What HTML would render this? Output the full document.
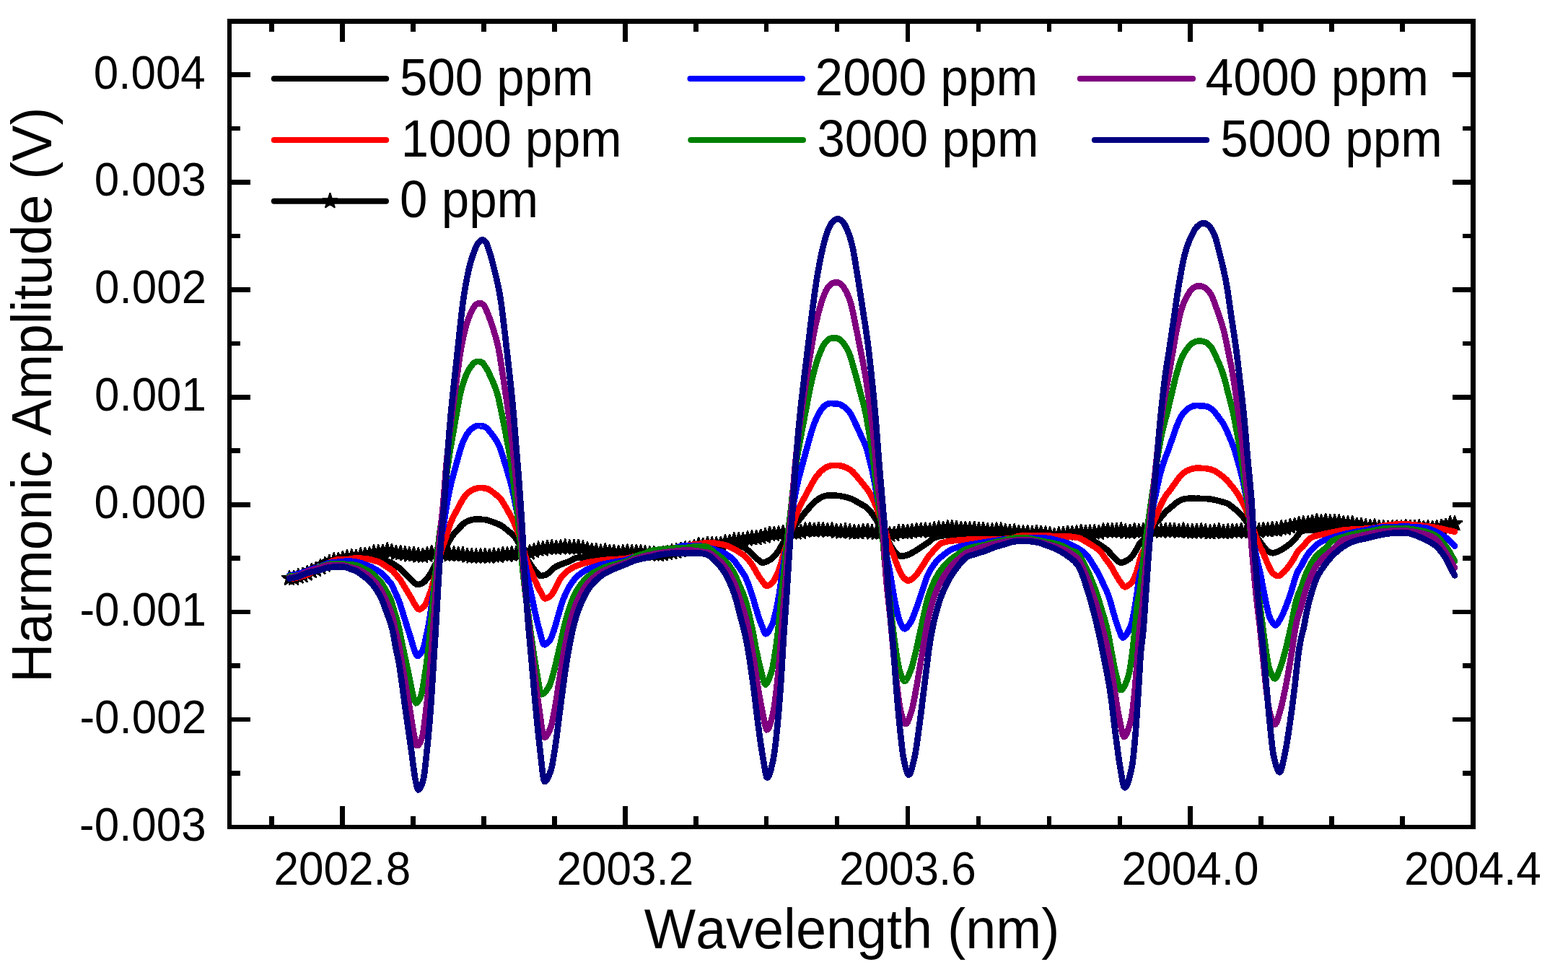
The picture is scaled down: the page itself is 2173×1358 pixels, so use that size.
<!DOCTYPE html>
<html lang="en">
<head>
<meta charset="utf-8">
<title>Harmonic Amplitude vs Wavelength</title>
<style>
html,body{margin:0;padding:0;background:#fff;}
body{width:2173px;height:1358px;overflow:hidden;}
svg{display:block;}
</style>
</head>
<body>
<svg width="2173" height="1358" viewBox="0 0 2173 1358" font-family="'Liberation Sans', Arial, Helvetica, sans-serif" style="font-kerning:none">
<title>Second harmonic amplitude versus wavelength at several concentrations</title>
<rect x="0" y="0" width="2173" height="1358" fill="#fff"/>
<g fill="none" stroke-width="8.6" stroke-linecap="round" stroke-linejoin="round" shape-rendering="crispEdges">
<path d="M401.0 801.5L407.2 801.5L413.3 798.8L419.5 797.4L425.7 794.9L431.8 791.6L438.0 789.3L444.1 786.0L450.3 782.9L456.5 779.8L462.6 777.0L468.8 776.4L475.0 774.5L481.1 772.8L487.3 771.8L493.5 772.4L499.6 769.9L505.8 769.6L512.0 769.1L518.1 766.1L524.3 765.7L530.4 765.5L536.6 763.1L542.8 764.2L548.9 766.5L555.1 766.4L561.3 767.7L567.4 768.7L573.6 768.5L579.8 770.1L585.9 770.3L592.1 768.9L598.2 766.7L604.4 766.8L610.6 767.0L616.7 768.1L622.9 768.5L629.1 768.1L635.2 768.6L641.4 768.6L647.6 770.2L653.7 770.8L659.9 771.1L666.1 771.0L672.2 770.8L678.4 771.2L684.5 770.0L690.7 770.4L696.9 768.2L703.0 769.1L709.2 767.8L715.4 767.4L721.5 767.1L727.7 766.6L733.9 766.0L740.0 763.5L746.2 761.0L752.3 760.7L758.5 759.2L764.7 758.8L770.8 759.4L777.0 758.6L783.2 757.9L789.3 758.8L795.5 758.9L801.7 758.3L807.8 760.1L814.0 761.5L820.2 763.4L826.3 763.6L832.5 765.1L838.6 764.1L844.8 765.2L851.0 765.5L857.1 766.5L863.3 765.8L869.5 765.0L875.6 765.7L881.8 765.6L888.0 765.9L894.1 766.8L900.3 767.7L906.4 767.7L912.6 768.3L918.8 767.7L924.9 766.2L931.1 765.0L937.3 763.9L943.4 762.6L949.6 760.7L955.8 760.5L961.9 759.1L968.1 755.5L974.3 756.3L980.4 754.4L986.6 754.8L992.7 755.1L998.9 754.4L1005.1 752.0L1011.2 751.3L1017.4 749.0L1023.6 748.9L1029.7 748.8L1035.9 746.9L1042.1 745.8L1048.2 745.4L1054.4 744.2L1060.5 742.9L1066.7 740.2L1072.9 740.2L1079.0 739.6L1085.2 738.3L1091.4 738.5L1097.5 737.9L1103.7 738.0L1109.9 737.3L1116.0 734.7L1122.2 734.4L1128.4 735.2L1134.5 734.4L1140.7 734.4L1146.8 735.2L1153.0 734.5L1159.2 736.4L1165.3 736.9L1171.5 735.9L1177.7 737.0L1183.8 737.8L1190.0 737.8L1196.2 736.2L1202.3 736.2L1208.5 737.8L1214.6 738.3L1220.8 737.9L1227.0 739.9L1233.1 741.0L1239.3 740.2L1245.5 737.4L1251.6 737.2L1257.8 737.6L1264.0 736.5L1270.1 735.5L1276.3 735.3L1282.5 735.0L1288.6 736.1L1294.8 733.8L1300.9 733.1L1307.1 733.2L1313.3 732.0L1319.4 732.0L1325.6 732.2L1331.8 733.3L1337.9 733.5L1344.1 733.8L1350.3 733.3L1356.4 734.3L1362.6 734.6L1368.7 735.7L1374.9 736.0L1381.1 734.7L1387.2 735.1L1393.4 737.0L1399.6 737.4L1405.7 737.0L1411.9 738.2L1418.1 738.7L1424.2 738.3L1430.4 739.6L1436.6 738.6L1442.7 739.2L1448.9 740.0L1455.0 741.0L1461.2 742.8L1467.4 740.7L1473.5 740.7L1479.7 739.2L1485.9 739.4L1492.0 739.0L1498.2 737.8L1504.4 738.3L1510.5 738.1L1516.7 737.8L1522.8 738.2L1529.0 736.0L1535.2 735.5L1541.3 735.9L1547.5 735.8L1553.7 735.1L1559.8 736.9L1566.0 737.2L1572.2 735.7L1578.3 736.6L1584.5 735.6L1590.7 736.1L1596.8 735.0L1603.0 735.5L1609.1 736.1L1615.3 735.2L1621.5 735.3L1627.6 735.4L1633.8 736.4L1640.0 735.1L1646.1 736.9L1652.3 737.1L1658.5 736.5L1664.6 735.9L1670.8 736.9L1676.9 737.8L1683.1 737.0L1689.3 736.0L1695.4 737.4L1701.6 737.1L1707.8 736.2L1713.9 736.2L1720.1 735.4L1726.3 736.9L1732.4 736.7L1738.6 735.5L1744.8 736.0L1750.9 734.2L1757.1 734.8L1763.2 733.7L1769.4 734.0L1775.6 732.0L1781.7 732.0L1787.9 729.7L1794.1 728.4L1800.2 726.2L1806.4 725.8L1812.6 725.7L1818.7 724.2L1824.9 722.7L1831.0 723.9L1837.2 722.2L1843.4 724.1L1849.5 723.9L1855.7 723.7L1861.9 725.2L1868.0 725.9L1874.2 725.8L1880.4 728.2L1886.5 728.2L1892.7 729.7L1898.9 730.5L1905.0 729.8L1911.2 731.3L1917.3 731.7L1923.5 732.6L1929.7 731.6L1935.8 731.4L1942.0 732.0L1948.2 730.3L1954.3 731.2L1960.5 731.4L1966.7 730.8L1972.8 732.7L1979.0 732.0L1985.1 732.7L1991.3 731.5L1997.5 730.6L2003.6 729.2L2009.8 725.8L2016.0 725.8" stroke="#000"/>
<path d="M401.0 790.2L403.5 798.0L411.7 798.0L405.1 802.9L407.6 810.7L401.0 805.8L394.4 810.7L396.9 802.9L390.3 798.0L398.5 798.0ZM407.2 790.2L409.7 798.0L417.9 798.0L411.3 802.8L413.8 810.6L407.2 805.8L400.5 810.6L403.1 802.8L396.4 798.0L404.6 798.0ZM413.3 787.5L415.9 795.3L424.1 795.3L417.4 800.1L420.0 807.9L413.3 803.1L406.7 807.9L409.2 800.1L402.6 795.3L410.8 795.3ZM419.5 786.1L422.0 793.9L430.2 793.9L423.6 798.8L426.1 806.6L419.5 801.7L412.9 806.6L415.4 798.8L408.7 793.9L417.0 793.9ZM425.7 783.6L428.2 791.4L436.4 791.4L429.8 796.3L432.3 804.1L425.7 799.2L419.0 804.1L421.6 796.3L414.9 791.4L423.1 791.4ZM431.8 780.3L434.4 788.1L442.6 788.1L435.9 792.9L438.5 800.7L431.8 795.9L425.2 800.7L427.7 792.9L421.1 788.1L429.3 788.1ZM438.0 778.0L440.5 785.8L448.7 785.8L442.1 790.6L444.6 798.4L438.0 793.6L431.3 798.4L433.9 790.6L427.2 785.8L435.4 785.8ZM444.1 774.7L446.7 782.6L454.9 782.6L448.3 787.4L450.8 795.2L444.1 790.4L437.5 795.2L440.0 787.4L433.4 782.6L441.6 782.6ZM450.3 771.6L452.8 779.4L461.1 779.4L454.4 784.2L457.0 792.0L450.3 787.2L443.7 792.0L446.2 784.2L439.6 779.4L447.8 779.4ZM456.5 768.5L459.0 776.3L467.2 776.3L460.6 781.1L463.1 788.9L456.5 784.1L449.8 788.9L452.4 781.1L445.7 776.3L453.9 776.3ZM462.6 765.7L465.2 773.5L473.4 773.5L466.7 778.3L469.3 786.1L462.6 781.3L456.0 786.1L458.5 778.3L451.9 773.5L460.1 773.5ZM468.8 765.1L471.3 772.9L479.6 772.9L472.9 777.7L475.4 785.5L468.8 780.7L462.2 785.5L464.7 777.7L458.1 772.9L466.3 772.9ZM475.0 763.2L477.5 771.1L485.7 771.1L479.1 775.9L481.6 783.7L475.0 778.9L468.3 783.7L470.9 775.9L464.2 771.1L472.4 771.1ZM481.1 761.5L483.7 769.3L491.9 769.3L485.2 774.2L487.8 782.0L481.1 777.1L474.5 782.0L477.0 774.2L470.4 769.3L478.6 769.3ZM487.3 760.5L489.8 768.3L498.0 768.3L491.4 773.1L493.9 780.9L487.3 776.1L480.7 780.9L483.2 773.1L476.5 768.3L484.8 768.3ZM493.5 761.1L496.0 768.9L504.2 768.9L497.6 773.8L500.1 781.6L493.5 776.8L486.8 781.6L489.4 773.8L482.7 768.9L490.9 768.9ZM499.6 758.6L502.2 766.4L510.4 766.4L503.7 771.2L506.3 779.0L499.6 774.2L493.0 779.0L495.5 771.2L488.9 766.4L497.1 766.4ZM505.8 758.3L508.3 766.1L516.5 766.1L509.9 770.9L512.4 778.7L505.8 773.9L499.1 778.7L501.7 770.9L495.0 766.1L503.3 766.1ZM512.0 757.8L514.5 765.6L522.7 765.6L516.1 770.5L518.6 778.3L512.0 773.4L505.3 778.3L507.8 770.5L501.2 765.6L509.4 765.6ZM518.1 754.8L520.7 762.7L528.9 762.7L522.2 767.5L524.8 775.3L518.1 770.5L511.5 775.3L514.0 767.5L507.4 762.7L515.6 762.7ZM524.3 754.4L526.8 762.2L535.0 762.2L528.4 767.0L530.9 774.8L524.3 770.0L517.6 774.8L520.2 767.0L513.5 762.2L521.7 762.2ZM530.4 754.2L533.0 762.0L541.2 762.0L534.5 766.8L537.1 774.6L530.4 769.8L523.8 774.6L526.3 766.8L519.7 762.0L527.9 762.0ZM536.6 751.8L539.1 759.6L547.4 759.6L540.7 764.4L543.2 772.2L536.6 767.4L530.0 772.2L532.5 764.4L525.9 759.6L534.1 759.6ZM542.8 752.9L545.3 760.7L553.5 760.7L546.9 765.5L549.4 773.3L542.8 768.5L536.1 773.3L538.7 765.5L532.0 760.7L540.2 760.7ZM548.9 755.2L551.5 763.0L559.7 763.0L553.0 767.9L555.6 775.7L548.9 770.8L542.3 775.7L544.8 767.9L538.2 763.0L546.4 763.0ZM555.1 755.1L557.6 762.9L565.8 762.9L559.2 767.7L561.7 775.5L555.1 770.7L548.5 775.5L551.0 767.7L544.4 762.9L552.6 762.9ZM561.3 756.4L563.8 764.2L572.0 764.2L565.4 769.0L567.9 776.8L561.3 772.0L554.6 776.8L557.2 769.0L550.5 764.2L558.7 764.2ZM567.4 757.4L570.0 765.2L578.2 765.2L571.5 770.1L574.1 777.9L567.4 773.1L560.8 777.9L563.3 770.1L556.7 765.2L564.9 765.2ZM573.6 757.2L576.1 765.0L584.3 765.0L577.7 769.8L580.2 777.6L573.6 772.8L567.0 777.6L569.5 769.8L562.8 765.0L571.1 765.0ZM579.8 758.8L582.3 766.6L590.5 766.6L583.9 771.4L586.4 779.2L579.8 774.4L573.1 779.2L575.7 771.4L569.0 766.6L577.2 766.6ZM585.9 759.0L588.5 766.8L596.7 766.8L590.0 771.6L592.6 779.4L585.9 774.6L579.3 779.4L581.8 771.6L575.2 766.8L583.4 766.8ZM592.1 757.6L594.6 765.4L602.8 765.4L596.2 770.2L598.7 778.1L592.1 773.2L585.4 778.1L588.0 770.2L581.3 765.4L589.5 765.4ZM598.2 755.4L600.8 763.2L609.0 763.2L602.4 768.0L604.9 775.8L598.2 771.0L591.6 775.8L594.1 768.0L587.5 763.2L595.7 763.2ZM604.4 755.5L606.9 763.3L615.2 763.3L608.5 768.1L611.1 775.9L604.4 771.1L597.8 775.9L600.3 768.1L593.7 763.3L601.9 763.3ZM610.6 755.7L613.1 763.5L621.3 763.5L614.7 768.3L617.2 776.2L610.6 771.3L603.9 776.2L606.5 768.3L599.8 763.5L608.0 763.5ZM616.7 756.8L619.3 764.6L627.5 764.6L620.8 769.5L623.4 777.3L616.7 772.5L610.1 777.3L612.6 769.5L606.0 764.6L614.2 764.6ZM622.9 757.2L625.4 765.0L633.7 765.0L627.0 769.8L629.5 777.7L622.9 772.8L616.3 777.7L618.8 769.8L612.2 765.0L620.4 765.0ZM629.1 756.8L631.6 764.6L639.8 764.6L633.2 769.4L635.7 777.3L629.1 772.4L622.4 777.3L625.0 769.4L618.3 764.6L626.5 764.6ZM635.2 757.3L637.8 765.1L646.0 765.1L639.3 770.0L641.9 777.8L635.2 772.9L628.6 777.8L631.1 770.0L624.5 765.1L632.7 765.1ZM641.4 757.3L643.9 765.1L652.1 765.1L645.5 769.9L648.0 777.7L641.4 772.9L634.8 777.7L637.3 769.9L630.6 765.1L638.9 765.1ZM647.6 758.9L650.1 766.7L658.3 766.7L651.7 771.5L654.2 779.3L647.6 774.5L640.9 779.3L643.5 771.5L636.8 766.7L645.0 766.7ZM653.7 759.5L656.3 767.4L664.5 767.4L657.8 772.2L660.4 780.0L653.7 775.2L647.1 780.0L649.6 772.2L643.0 767.4L651.2 767.4ZM659.9 759.8L662.4 767.6L670.6 767.6L664.0 772.4L666.5 780.2L659.9 775.4L653.2 780.2L655.8 772.4L649.1 767.6L657.4 767.6ZM666.1 759.7L668.6 767.5L676.8 767.5L670.2 772.3L672.7 780.2L666.1 775.3L659.4 780.2L661.9 772.3L655.3 767.5L663.5 767.5ZM672.2 759.5L674.8 767.3L683.0 767.3L676.3 772.1L678.9 779.9L672.2 775.1L665.6 779.9L668.1 772.1L661.5 767.3L669.7 767.3ZM678.4 759.9L680.9 767.7L689.1 767.7L682.5 772.6L685.0 780.4L678.4 775.5L671.7 780.4L674.3 772.6L667.6 767.7L675.8 767.7ZM684.5 758.7L687.1 766.5L695.3 766.5L688.6 771.4L691.2 779.2L684.5 774.3L677.9 779.2L680.4 771.4L673.8 766.5L682.0 766.5ZM690.7 759.1L693.2 766.9L701.5 766.9L694.8 771.7L697.3 779.5L690.7 774.7L684.1 779.5L686.6 771.7L680.0 766.9L688.2 766.9ZM696.9 756.9L699.4 764.7L707.6 764.7L701.0 769.5L703.5 777.3L696.9 772.5L690.2 777.3L692.8 769.5L686.1 764.7L694.3 764.7ZM703.0 757.8L705.6 765.6L713.8 765.6L707.1 770.4L709.7 778.2L703.0 773.4L696.4 778.2L698.9 770.4L692.3 765.6L700.5 765.6ZM709.2 756.5L711.7 764.3L719.9 764.3L713.3 769.2L715.8 777.0L709.2 772.1L702.6 777.0L705.1 769.2L698.5 764.3L706.7 764.3ZM715.4 756.1L717.9 764.0L726.1 764.0L719.5 768.8L722.0 776.6L715.4 771.8L708.7 776.6L711.3 768.8L704.6 764.0L712.8 764.0ZM721.5 755.8L724.1 763.6L732.3 763.6L725.6 768.4L728.2 776.2L721.5 771.4L714.9 776.2L717.4 768.4L710.8 763.6L719.0 763.6ZM727.7 755.3L730.2 763.1L738.4 763.1L731.8 768.0L734.3 775.8L727.7 770.9L721.1 775.8L723.6 768.0L716.9 763.1L725.2 763.1ZM733.9 754.7L736.4 762.5L744.6 762.5L738.0 767.3L740.5 775.1L733.9 770.3L727.2 775.1L729.8 767.3L723.1 762.5L731.3 762.5ZM740.0 752.2L742.6 760.0L750.8 760.0L744.1 764.8L746.7 772.6L740.0 767.8L733.4 772.6L735.9 764.8L729.3 760.0L737.5 760.0ZM746.2 749.7L748.7 757.5L756.9 757.5L750.3 762.4L752.8 770.2L746.2 765.4L739.5 770.2L742.1 762.4L735.4 757.5L743.6 757.5ZM752.3 749.4L754.9 757.2L763.1 757.2L756.5 762.0L759.0 769.8L752.3 765.0L745.7 769.8L748.2 762.0L741.6 757.2L749.8 757.2ZM758.5 747.9L761.0 755.7L769.3 755.7L762.6 760.5L765.2 768.3L758.5 763.5L751.9 768.3L754.4 760.5L747.8 755.7L756.0 755.7ZM764.7 747.5L767.2 755.3L775.4 755.3L768.8 760.1L771.3 767.9L764.7 763.1L758.0 767.9L760.6 760.1L753.9 755.3L762.1 755.3ZM770.8 748.1L773.4 755.9L781.6 755.9L774.9 760.7L777.5 768.5L770.8 763.7L764.2 768.5L766.7 760.7L760.1 755.9L768.3 755.9ZM777.0 747.3L779.5 755.1L787.8 755.1L781.1 760.0L783.6 767.8L777.0 762.9L770.4 767.8L772.9 760.0L766.3 755.1L774.5 755.1ZM783.2 746.6L785.7 754.4L793.9 754.4L787.3 759.2L789.8 767.0L783.2 762.2L776.5 767.0L779.1 759.2L772.4 754.4L780.6 754.4ZM789.3 747.5L791.9 755.3L800.1 755.3L793.4 760.1L796.0 767.9L789.3 763.1L782.7 767.9L785.2 760.1L778.6 755.3L786.8 755.3ZM795.5 747.6L798.0 755.4L806.2 755.4L799.6 760.2L802.1 768.1L795.5 763.2L788.9 768.1L791.4 760.2L784.7 755.4L793.0 755.4ZM801.7 747.0L804.2 754.8L812.4 754.8L805.8 759.6L808.3 767.4L801.7 762.6L795.0 767.4L797.6 759.6L790.9 754.8L799.1 754.8ZM807.8 748.8L810.4 756.6L818.6 756.6L811.9 761.5L814.5 769.3L807.8 764.4L801.2 769.3L803.7 761.5L797.1 756.6L805.3 756.6ZM814.0 750.2L816.5 758.0L824.7 758.0L818.1 762.9L820.6 770.7L814.0 765.9L807.3 770.7L809.9 762.9L803.2 758.0L811.5 758.0ZM820.2 752.1L822.7 759.9L830.9 759.9L824.3 764.8L826.8 772.6L820.2 767.8L813.5 772.6L816.0 764.8L809.4 759.9L817.6 759.9ZM826.3 752.3L828.9 760.1L837.1 760.1L830.4 764.9L833.0 772.7L826.3 767.9L819.7 772.7L822.2 764.9L815.6 760.1L823.8 760.1ZM832.5 753.8L835.0 761.6L843.2 761.6L836.6 766.5L839.1 774.3L832.5 769.4L825.8 774.3L828.4 766.5L821.7 761.6L829.9 761.6ZM838.6 752.8L841.2 760.6L849.4 760.6L842.7 765.4L845.3 773.2L838.6 768.4L832.0 773.2L834.5 765.4L827.9 760.6L836.1 760.6ZM844.8 753.9L847.3 761.7L855.6 761.7L848.9 766.6L851.4 774.4L844.8 769.5L838.2 774.4L840.7 766.6L834.1 761.7L842.3 761.7ZM851.0 754.2L853.5 762.0L861.7 762.0L855.1 766.8L857.6 774.6L851.0 769.8L844.3 774.6L846.9 766.8L840.2 762.0L848.4 762.0ZM857.1 755.2L859.7 763.0L867.9 763.0L861.2 767.8L863.8 775.7L857.1 770.8L850.5 775.7L853.0 767.8L846.4 763.0L854.6 763.0ZM863.3 754.5L865.8 762.3L874.0 762.3L867.4 767.1L869.9 774.9L863.3 770.1L856.7 774.9L859.2 767.1L852.6 762.3L860.8 762.3ZM869.5 753.7L872.0 761.5L880.2 761.5L873.6 766.3L876.1 774.1L869.5 769.3L862.8 774.1L865.4 766.3L858.7 761.5L866.9 761.5ZM875.6 754.4L878.2 762.2L886.4 762.2L879.7 767.0L882.3 774.8L875.6 770.0L869.0 774.8L871.5 767.0L864.9 762.2L873.1 762.2ZM881.8 754.3L884.3 762.1L892.5 762.1L885.9 767.0L888.4 774.8L881.8 769.9L875.2 774.8L877.7 767.0L871.0 762.1L879.3 762.1ZM888.0 754.6L890.5 762.4L898.7 762.4L892.1 767.2L894.6 775.0L888.0 770.2L881.3 775.0L883.9 767.2L877.2 762.4L885.4 762.4ZM894.1 755.5L896.7 763.3L904.9 763.3L898.2 768.1L900.8 776.0L894.1 771.1L887.5 776.0L890.0 768.1L883.4 763.3L891.6 763.3ZM900.3 756.4L902.8 764.2L911.0 764.2L904.4 769.0L906.9 776.8L900.3 772.0L893.6 776.8L896.2 769.0L889.5 764.2L897.7 764.2ZM906.4 756.4L909.0 764.2L917.2 764.2L910.6 769.0L913.1 776.8L906.4 772.0L899.8 776.8L902.3 769.0L895.7 764.2L903.9 764.2ZM912.6 757.0L915.1 764.8L923.4 764.8L916.7 769.6L919.3 777.4L912.6 772.6L906.0 777.4L908.5 769.6L901.9 764.8L910.1 764.8ZM918.8 756.4L921.3 764.2L929.5 764.2L922.9 769.1L925.4 776.9L918.8 772.0L912.1 776.9L914.7 769.1L908.0 764.2L916.2 764.2ZM924.9 754.9L927.5 762.7L935.7 762.7L929.0 767.5L931.6 775.3L924.9 770.5L918.3 775.3L920.8 767.5L914.2 762.7L922.4 762.7ZM931.1 753.7L933.6 761.5L941.9 761.5L935.2 766.3L937.7 774.2L931.1 769.3L924.5 774.2L927.0 766.3L920.4 761.5L928.6 761.5ZM937.3 752.6L939.8 760.4L948.0 760.4L941.4 765.2L943.9 773.0L937.3 768.2L930.6 773.0L933.2 765.2L926.5 760.4L934.7 760.4ZM943.4 751.3L946.0 759.1L954.2 759.1L947.5 763.9L950.1 771.7L943.4 766.9L936.8 771.7L939.3 763.9L932.7 759.1L940.9 759.1ZM949.6 749.4L952.1 757.2L960.3 757.2L953.7 762.0L956.2 769.8L949.6 765.0L943.0 769.8L945.5 762.0L938.8 757.2L947.1 757.2ZM955.8 749.2L958.3 757.0L966.5 757.0L959.9 761.8L962.4 769.6L955.8 764.8L949.1 769.6L951.7 761.8L945.0 757.0L953.2 757.0ZM961.9 747.8L964.5 755.6L972.7 755.6L966.0 760.4L968.6 768.2L961.9 763.4L955.3 768.2L957.8 760.4L951.2 755.6L959.4 755.6ZM968.1 744.2L970.6 752.0L978.8 752.0L972.2 756.8L974.7 764.6L968.1 759.8L961.4 764.6L964.0 756.8L957.3 752.0L965.6 752.0ZM974.3 745.0L976.8 752.8L985.0 752.8L978.4 757.6L980.9 765.4L974.3 760.6L967.6 765.4L970.1 757.6L963.5 752.8L971.7 752.8ZM980.4 743.1L983.0 750.9L991.2 750.9L984.5 755.7L987.1 763.5L980.4 758.7L973.8 763.5L976.3 755.7L969.7 750.9L977.9 750.9ZM986.6 743.5L989.1 751.3L997.3 751.3L990.7 756.1L993.2 764.0L986.6 759.1L979.9 764.0L982.5 756.1L975.8 751.3L984.0 751.3ZM992.7 743.8L995.3 751.6L1003.5 751.6L996.8 756.4L999.4 764.2L992.7 759.4L986.1 764.2L988.6 756.4L982.0 751.6L990.2 751.6ZM998.9 743.1L1001.4 750.9L1009.7 750.9L1003.0 755.8L1005.5 763.6L998.9 758.7L992.3 763.6L994.8 755.8L988.2 750.9L996.4 750.9ZM1005.1 740.7L1007.6 748.5L1015.8 748.5L1009.2 753.3L1011.7 761.1L1005.1 756.3L998.4 761.1L1001.0 753.3L994.3 748.5L1002.5 748.5ZM1011.2 740.0L1013.8 747.8L1022.0 747.8L1015.3 752.6L1017.9 760.4L1011.2 755.6L1004.6 760.4L1007.1 752.6L1000.5 747.8L1008.7 747.8ZM1017.4 737.7L1019.9 745.5L1028.1 745.5L1021.5 750.3L1024.0 758.1L1017.4 753.3L1010.8 758.1L1013.3 750.3L1006.7 745.5L1014.9 745.5ZM1023.6 737.6L1026.1 745.4L1034.3 745.4L1027.7 750.2L1030.2 758.0L1023.6 753.2L1016.9 758.0L1019.5 750.2L1012.8 745.4L1021.0 745.4ZM1029.7 737.5L1032.3 745.3L1040.5 745.3L1033.8 750.1L1036.4 757.9L1029.7 753.1L1023.1 757.9L1025.6 750.1L1019.0 745.3L1027.2 745.3ZM1035.9 735.6L1038.4 743.4L1046.6 743.4L1040.0 748.2L1042.5 756.0L1035.9 751.2L1029.3 756.0L1031.8 748.2L1025.1 743.4L1033.4 743.4ZM1042.1 734.5L1044.6 742.3L1052.8 742.3L1046.2 747.1L1048.7 754.9L1042.1 750.1L1035.4 754.9L1038.0 747.1L1031.3 742.3L1039.5 742.3ZM1048.2 734.1L1050.8 741.9L1059.0 741.9L1052.3 746.8L1054.9 754.6L1048.2 749.7L1041.6 754.6L1044.1 746.8L1037.5 741.9L1045.7 741.9ZM1054.4 732.9L1056.9 740.7L1065.1 740.7L1058.5 745.5L1061.0 753.3L1054.4 748.5L1047.7 753.3L1050.3 745.5L1043.6 740.7L1051.8 740.7ZM1060.5 731.6L1063.1 739.4L1071.3 739.4L1064.7 744.2L1067.2 752.0L1060.5 747.2L1053.9 752.0L1056.4 744.2L1049.8 739.4L1058.0 739.4ZM1066.7 728.9L1069.2 736.7L1077.5 736.7L1070.8 741.5L1073.4 749.3L1066.7 744.5L1060.1 749.3L1062.6 741.5L1056.0 736.7L1064.2 736.7ZM1072.9 728.9L1075.4 736.7L1083.6 736.7L1077.0 741.5L1079.5 749.4L1072.9 744.5L1066.2 749.4L1068.8 741.5L1062.1 736.7L1070.3 736.7ZM1079.0 728.3L1081.6 736.2L1089.8 736.2L1083.1 741.0L1085.7 748.8L1079.0 744.0L1072.4 748.8L1074.9 741.0L1068.3 736.2L1076.5 736.2ZM1085.2 727.0L1087.7 734.8L1096.0 734.8L1089.3 739.6L1091.8 747.4L1085.2 742.6L1078.6 747.4L1081.1 739.6L1074.5 734.8L1082.7 734.8ZM1091.4 727.2L1093.9 735.0L1102.1 735.0L1095.5 739.8L1098.0 747.6L1091.4 742.8L1084.7 747.6L1087.3 739.8L1080.6 735.0L1088.8 735.0ZM1097.5 726.6L1100.1 734.4L1108.3 734.4L1101.6 739.2L1104.2 747.0L1097.5 742.2L1090.9 747.0L1093.4 739.2L1086.8 734.4L1095.0 734.4ZM1103.7 726.7L1106.2 734.6L1114.4 734.6L1107.8 739.4L1110.3 747.2L1103.7 742.4L1097.1 747.2L1099.6 739.4L1092.9 734.6L1101.2 734.6ZM1109.9 726.0L1112.4 733.8L1120.6 733.8L1114.0 738.6L1116.5 746.4L1109.9 741.6L1103.2 746.4L1105.8 738.6L1099.1 733.8L1107.3 733.8ZM1116.0 723.4L1118.6 731.2L1126.8 731.2L1120.1 736.1L1122.7 743.9L1116.0 739.1L1109.4 743.9L1111.9 736.1L1105.3 731.2L1113.5 731.2ZM1122.2 723.1L1124.7 730.9L1132.9 730.9L1126.3 735.7L1128.8 743.5L1122.2 738.7L1115.5 743.5L1118.1 735.7L1111.4 730.9L1119.7 730.9ZM1128.4 723.9L1130.9 731.7L1139.1 731.7L1132.5 736.5L1135.0 744.3L1128.4 739.5L1121.7 744.3L1124.2 736.5L1117.6 731.7L1125.8 731.7ZM1134.5 723.1L1137.1 730.9L1145.3 730.9L1138.6 735.7L1141.2 743.5L1134.5 738.7L1127.9 743.5L1130.4 735.7L1123.8 730.9L1132.0 730.9ZM1140.7 723.1L1143.2 730.9L1151.4 730.9L1144.8 735.7L1147.3 743.5L1140.7 738.7L1134.0 743.5L1136.6 735.7L1129.9 730.9L1138.1 730.9ZM1146.8 723.9L1149.4 731.7L1157.6 731.7L1150.9 736.5L1153.5 744.3L1146.8 739.5L1140.2 744.3L1142.7 736.5L1136.1 731.7L1144.3 731.7ZM1153.0 723.2L1155.5 731.0L1163.8 731.0L1157.1 735.8L1159.6 743.6L1153.0 738.8L1146.4 743.6L1148.9 735.8L1142.3 731.0L1150.5 731.0ZM1159.2 725.1L1161.7 732.9L1169.9 732.9L1163.3 737.7L1165.8 745.5L1159.2 740.7L1152.5 745.5L1155.1 737.7L1148.4 732.9L1156.6 732.9ZM1165.3 725.6L1167.9 733.4L1176.1 733.4L1169.4 738.3L1172.0 746.1L1165.3 741.3L1158.7 746.1L1161.2 738.3L1154.6 733.4L1162.8 733.4ZM1171.5 724.6L1174.0 732.4L1182.2 732.4L1175.6 737.2L1178.1 745.0L1171.5 740.2L1164.9 745.0L1167.4 737.2L1160.8 732.4L1169.0 732.4ZM1177.7 725.7L1180.2 733.5L1188.4 733.5L1181.8 738.3L1184.3 746.1L1177.7 741.3L1171.0 746.1L1173.6 738.3L1166.9 733.5L1175.1 733.5ZM1183.8 726.5L1186.4 734.3L1194.6 734.3L1187.9 739.1L1190.5 746.9L1183.8 742.1L1177.2 746.9L1179.7 739.1L1173.1 734.3L1181.3 734.3ZM1190.0 726.5L1192.5 734.3L1200.7 734.3L1194.1 739.1L1196.6 746.9L1190.0 742.1L1183.4 746.9L1185.9 739.1L1179.2 734.3L1187.5 734.3ZM1196.2 724.9L1198.7 732.7L1206.9 732.7L1200.3 737.5L1202.8 745.3L1196.2 740.5L1189.5 745.3L1192.1 737.5L1185.4 732.7L1193.6 732.7ZM1202.3 724.9L1204.9 732.7L1213.1 732.7L1206.4 737.5L1209.0 745.3L1202.3 740.5L1195.7 745.3L1198.2 737.5L1191.6 732.7L1199.8 732.7ZM1208.5 726.5L1211.0 734.3L1219.2 734.3L1212.6 739.1L1215.1 746.9L1208.5 742.1L1201.8 746.9L1204.4 739.1L1197.7 734.3L1205.9 734.3ZM1214.6 727.0L1217.2 734.8L1225.4 734.8L1218.8 739.6L1221.3 747.4L1214.6 742.6L1208.0 747.4L1210.5 739.6L1203.9 734.8L1212.1 734.8ZM1220.8 726.6L1223.3 734.4L1231.6 734.4L1224.9 739.3L1227.5 747.1L1220.8 742.2L1214.2 747.1L1216.7 739.3L1210.1 734.4L1218.3 734.4ZM1227.0 728.6L1229.5 736.4L1237.7 736.4L1231.1 741.2L1233.6 749.0L1227.0 744.2L1220.3 749.0L1222.9 741.2L1216.2 736.4L1224.4 736.4ZM1233.1 729.7L1235.7 737.5L1243.9 737.5L1237.2 742.3L1239.8 750.1L1233.1 745.3L1226.5 750.1L1229.0 742.3L1222.4 737.5L1230.6 737.5ZM1239.3 728.9L1241.8 736.7L1250.1 736.7L1243.4 741.5L1245.9 749.3L1239.3 744.5L1232.7 749.3L1235.2 741.5L1228.6 736.7L1236.8 736.7ZM1245.5 726.1L1248.0 733.9L1256.2 733.9L1249.6 738.7L1252.1 746.5L1245.5 741.7L1238.8 746.5L1241.4 738.7L1234.7 733.9L1242.9 733.9ZM1251.6 725.9L1254.2 733.7L1262.4 733.7L1255.7 738.5L1258.3 746.3L1251.6 741.5L1245.0 746.3L1247.5 738.5L1240.9 733.7L1249.1 733.7ZM1257.8 726.3L1260.3 734.1L1268.5 734.1L1261.9 738.9L1264.4 746.7L1257.8 741.9L1251.2 746.7L1253.7 738.9L1247.0 734.1L1255.3 734.1ZM1264.0 725.2L1266.5 733.0L1274.7 733.0L1268.1 737.8L1270.6 745.6L1264.0 740.8L1257.3 745.6L1259.9 737.8L1253.2 733.0L1261.4 733.0ZM1270.1 724.2L1272.7 732.0L1280.9 732.0L1274.2 736.8L1276.8 744.7L1270.1 739.8L1263.5 744.7L1266.0 736.8L1259.4 732.0L1267.6 732.0ZM1276.3 724.0L1278.8 731.8L1287.0 731.8L1280.4 736.6L1282.9 744.4L1276.3 739.6L1269.6 744.4L1272.2 736.6L1265.5 731.8L1273.8 731.8ZM1282.5 723.7L1285.0 731.5L1293.2 731.5L1286.6 736.4L1289.1 744.2L1282.5 739.3L1275.8 744.2L1278.3 736.4L1271.7 731.5L1279.9 731.5ZM1288.6 724.8L1291.2 732.7L1299.4 732.7L1292.7 737.5L1295.3 745.3L1288.6 740.5L1282.0 745.3L1284.5 737.5L1277.9 732.7L1286.1 732.7ZM1294.8 722.5L1297.3 730.3L1305.5 730.3L1298.9 735.2L1301.4 743.0L1294.8 738.2L1288.1 743.0L1290.7 735.2L1284.0 730.3L1292.2 730.3ZM1300.9 721.8L1303.5 729.6L1311.7 729.6L1305.0 734.4L1307.6 742.2L1300.9 737.4L1294.3 742.2L1296.8 734.4L1290.2 729.6L1298.4 729.6ZM1307.1 721.9L1309.6 729.7L1317.9 729.7L1311.2 734.5L1313.7 742.3L1307.1 737.5L1300.5 742.3L1303.0 734.5L1296.4 729.7L1304.6 729.7ZM1313.3 720.7L1315.8 728.5L1324.0 728.5L1317.4 733.4L1319.9 741.2L1313.3 736.3L1306.6 741.2L1309.2 733.4L1302.5 728.5L1310.7 728.5ZM1319.4 720.7L1322.0 728.5L1330.2 728.5L1323.5 733.4L1326.1 741.2L1319.4 736.4L1312.8 741.2L1315.3 733.4L1308.7 728.5L1316.9 728.5ZM1325.6 720.9L1328.1 728.7L1336.3 728.7L1329.7 733.5L1332.2 741.3L1325.6 736.5L1319.0 741.3L1321.5 733.5L1314.9 728.7L1323.1 728.7ZM1331.8 722.0L1334.3 729.8L1342.5 729.8L1335.9 734.6L1338.4 742.4L1331.8 737.6L1325.1 742.4L1327.7 734.6L1321.0 729.8L1329.2 729.8ZM1337.9 722.2L1340.5 730.0L1348.7 730.0L1342.0 734.9L1344.6 742.7L1337.9 737.8L1331.3 742.7L1333.8 734.9L1327.2 730.0L1335.4 730.0ZM1344.1 722.5L1346.6 730.3L1354.8 730.3L1348.2 735.1L1350.7 742.9L1344.1 738.1L1337.5 742.9L1340.0 735.1L1333.3 730.3L1341.6 730.3ZM1350.3 722.0L1352.8 729.8L1361.0 729.8L1354.4 734.6L1356.9 742.4L1350.3 737.6L1343.6 742.4L1346.2 734.6L1339.5 729.8L1347.7 729.8ZM1356.4 723.0L1359.0 730.8L1367.2 730.8L1360.5 735.7L1363.1 743.5L1356.4 738.7L1349.8 743.5L1352.3 735.7L1345.7 730.8L1353.9 730.8ZM1362.6 723.3L1365.1 731.1L1373.3 731.1L1366.7 736.0L1369.2 743.8L1362.6 738.9L1355.9 743.8L1358.5 736.0L1351.8 731.1L1360.0 731.1ZM1368.7 724.4L1371.3 732.2L1379.5 732.2L1372.9 737.1L1375.4 744.9L1368.7 740.0L1362.1 744.9L1364.6 737.1L1358.0 732.2L1366.2 732.2ZM1374.9 724.7L1377.4 732.5L1385.7 732.5L1379.0 737.4L1381.6 745.2L1374.9 740.3L1368.3 745.2L1370.8 737.4L1364.2 732.5L1372.4 732.5ZM1381.1 723.4L1383.6 731.2L1391.8 731.2L1385.2 736.1L1387.7 743.9L1381.1 739.1L1374.4 743.9L1377.0 736.1L1370.3 731.2L1378.5 731.2ZM1387.2 723.8L1389.8 731.6L1398.0 731.6L1391.3 736.4L1393.9 744.2L1387.2 739.4L1380.6 744.2L1383.1 736.4L1376.5 731.6L1384.7 731.6ZM1393.4 725.7L1395.9 733.5L1404.2 733.5L1397.5 738.4L1400.0 746.2L1393.4 741.3L1386.8 746.2L1389.3 738.4L1382.7 733.5L1390.9 733.5ZM1399.6 726.1L1402.1 733.9L1410.3 733.9L1403.7 738.7L1406.2 746.5L1399.6 741.7L1392.9 746.5L1395.5 738.7L1388.8 733.9L1397.0 733.9ZM1405.7 725.7L1408.3 733.5L1416.5 733.5L1409.8 738.3L1412.4 746.2L1405.7 741.3L1399.1 746.2L1401.6 738.3L1395.0 733.5L1403.2 733.5ZM1411.9 726.9L1414.4 734.7L1422.6 734.7L1416.0 739.6L1418.5 747.4L1411.9 742.6L1405.3 747.4L1407.8 739.6L1401.1 734.7L1409.4 734.7ZM1418.1 727.4L1420.6 735.2L1428.8 735.2L1422.2 740.0L1424.7 747.8L1418.1 743.0L1411.4 747.8L1414.0 740.0L1407.3 735.2L1415.5 735.2ZM1424.2 727.0L1426.8 734.8L1435.0 734.9L1428.3 739.7L1430.9 747.5L1424.2 742.7L1417.6 747.5L1420.1 739.7L1413.5 734.9L1421.7 734.8ZM1430.4 728.3L1432.9 736.1L1441.1 736.1L1434.5 741.0L1437.0 748.8L1430.4 743.9L1423.7 748.8L1426.3 741.0L1419.6 736.1L1427.9 736.1ZM1436.6 727.3L1439.1 735.1L1447.3 735.1L1440.7 739.9L1443.2 747.7L1436.6 742.9L1429.9 747.7L1432.4 739.9L1425.8 735.1L1434.0 735.1ZM1442.7 727.9L1445.3 735.7L1453.5 735.7L1446.8 740.5L1449.4 748.3L1442.7 743.5L1436.1 748.3L1438.6 740.5L1432.0 735.7L1440.2 735.7ZM1448.9 728.7L1451.4 736.5L1459.6 736.5L1453.0 741.3L1455.5 749.1L1448.9 744.3L1442.2 749.1L1444.8 741.3L1438.1 736.5L1446.3 736.5ZM1455.0 729.7L1457.6 737.5L1465.8 737.5L1459.1 742.4L1461.7 750.2L1455.0 745.3L1448.4 750.2L1450.9 742.4L1444.3 737.5L1452.5 737.5ZM1461.2 731.5L1463.7 739.4L1472.0 739.4L1465.3 744.2L1467.8 752.0L1461.2 747.2L1454.6 752.0L1457.1 744.2L1450.5 739.4L1458.7 739.4ZM1467.4 729.4L1469.9 737.2L1478.1 737.2L1471.5 742.0L1474.0 749.8L1467.4 745.0L1460.7 749.8L1463.3 742.0L1456.6 737.2L1464.8 737.2ZM1473.5 729.4L1476.1 737.2L1484.3 737.2L1477.6 742.0L1480.2 749.8L1473.5 745.0L1466.9 749.8L1469.4 742.0L1462.8 737.2L1471.0 737.2ZM1479.7 727.9L1482.2 735.8L1490.4 735.8L1483.8 740.6L1486.3 748.4L1479.7 743.6L1473.1 748.4L1475.6 740.6L1469.0 735.8L1477.2 735.8ZM1485.9 728.1L1488.4 735.9L1496.6 735.9L1490.0 740.7L1492.5 748.5L1485.9 743.7L1479.2 748.5L1481.8 740.7L1475.1 735.9L1483.3 735.9ZM1492.0 727.7L1494.6 735.5L1502.8 735.5L1496.1 740.3L1498.7 748.1L1492.0 743.3L1485.4 748.1L1487.9 740.3L1481.3 735.5L1489.5 735.5ZM1498.2 726.5L1500.7 734.3L1508.9 734.3L1502.3 739.2L1504.8 747.0L1498.2 742.1L1491.6 747.0L1494.1 739.2L1487.4 734.3L1495.7 734.3ZM1504.4 727.0L1506.9 734.9L1515.1 734.9L1508.5 739.7L1511.0 747.5L1504.4 742.7L1497.7 747.5L1500.3 739.7L1493.6 734.9L1501.8 734.9ZM1510.5 726.8L1513.1 734.6L1521.3 734.6L1514.6 739.4L1517.2 747.2L1510.5 742.4L1503.9 747.2L1506.4 739.4L1499.8 734.6L1508.0 734.6ZM1516.7 726.5L1519.2 734.3L1527.4 734.3L1520.8 739.1L1523.3 746.9L1516.7 742.1L1510.0 746.9L1512.6 739.1L1505.9 734.3L1514.1 734.3ZM1522.8 726.9L1525.4 734.7L1533.6 734.7L1527.0 739.5L1529.5 747.3L1522.8 742.5L1516.2 747.3L1518.7 739.5L1512.1 734.7L1520.3 734.7ZM1529.0 724.7L1531.5 732.5L1539.8 732.5L1533.1 737.4L1535.7 745.2L1529.0 740.4L1522.4 745.2L1524.9 737.4L1518.3 732.5L1526.5 732.5ZM1535.2 724.2L1537.7 732.0L1545.9 732.0L1539.3 736.9L1541.8 744.7L1535.2 739.8L1528.5 744.7L1531.1 736.9L1524.4 732.0L1532.6 732.0ZM1541.3 724.6L1543.9 732.5L1552.1 732.5L1545.4 737.3L1548.0 745.1L1541.3 740.3L1534.7 745.1L1537.2 737.3L1530.6 732.5L1538.8 732.5ZM1547.5 724.5L1550.0 732.3L1558.3 732.3L1551.6 737.1L1554.1 744.9L1547.5 740.1L1540.9 744.9L1543.4 737.1L1536.8 732.3L1545.0 732.3ZM1553.7 723.8L1556.2 731.6L1564.4 731.6L1557.8 736.4L1560.3 744.2L1553.7 739.4L1547.0 744.2L1549.6 736.4L1542.9 731.6L1551.1 731.6ZM1559.8 725.6L1562.4 733.4L1570.6 733.4L1563.9 738.2L1566.5 746.1L1559.8 741.2L1553.2 746.1L1555.7 738.2L1549.1 733.4L1557.3 733.4ZM1566.0 725.9L1568.5 733.7L1576.7 733.7L1570.1 738.5L1572.6 746.3L1566.0 741.5L1559.4 746.3L1561.9 738.5L1555.2 733.7L1563.5 733.7ZM1572.2 724.4L1574.7 732.3L1582.9 732.3L1576.3 737.1L1578.8 744.9L1572.2 740.1L1565.5 744.9L1568.1 737.1L1561.4 732.3L1569.6 732.3ZM1578.3 725.3L1580.9 733.1L1589.1 733.1L1582.4 737.9L1585.0 745.7L1578.3 740.9L1571.7 745.7L1574.2 737.9L1567.6 733.1L1575.8 733.1ZM1584.5 724.3L1587.0 732.1L1595.2 732.1L1588.6 737.0L1591.1 744.8L1584.5 740.0L1577.8 744.8L1580.4 737.0L1573.7 732.1L1582.0 732.1ZM1590.7 724.8L1593.2 732.7L1601.4 732.7L1594.8 737.5L1597.3 745.3L1590.7 740.5L1584.0 745.3L1586.5 737.5L1579.9 732.7L1588.1 732.7ZM1596.8 723.7L1599.4 731.5L1607.6 731.5L1600.9 736.3L1603.5 744.1L1596.8 739.3L1590.2 744.1L1592.7 736.3L1586.1 731.5L1594.3 731.5ZM1603.0 724.2L1605.5 732.0L1613.7 732.0L1607.1 736.8L1609.6 744.6L1603.0 739.8L1596.3 744.6L1598.9 736.8L1592.2 732.0L1600.4 732.0ZM1609.1 724.8L1611.7 732.6L1619.9 732.6L1613.2 737.4L1615.8 745.2L1609.1 740.4L1602.5 745.2L1605.0 737.4L1598.4 732.6L1606.6 732.6ZM1615.3 723.9L1617.8 731.7L1626.1 731.7L1619.4 736.5L1621.9 744.3L1615.3 739.5L1608.7 744.3L1611.2 736.5L1604.6 731.7L1612.8 731.7ZM1621.5 724.0L1624.0 731.8L1632.2 731.8L1625.6 736.6L1628.1 744.4L1621.5 739.6L1614.8 744.4L1617.4 736.6L1610.7 731.8L1618.9 731.8ZM1627.6 724.1L1630.2 731.9L1638.4 731.9L1631.7 736.8L1634.3 744.6L1627.6 739.8L1621.0 744.6L1623.5 736.8L1616.9 731.9L1625.1 731.9ZM1633.8 725.1L1636.3 732.9L1644.5 732.9L1637.9 737.8L1640.4 745.6L1633.8 740.8L1627.2 745.6L1629.7 737.8L1623.1 732.9L1631.3 732.9ZM1640.0 723.8L1642.5 731.6L1650.7 731.6L1644.1 736.4L1646.6 744.2L1640.0 739.4L1633.3 744.2L1635.9 736.4L1629.2 731.6L1637.4 731.6ZM1646.1 725.6L1648.7 733.4L1656.9 733.4L1650.2 738.2L1652.8 746.0L1646.1 741.2L1639.5 746.0L1642.0 738.2L1635.4 733.4L1643.6 733.4ZM1652.3 725.8L1654.8 733.6L1663.0 733.6L1656.4 738.4L1658.9 746.2L1652.3 741.4L1645.7 746.2L1648.2 738.4L1641.5 733.6L1649.8 733.6ZM1658.5 725.2L1661.0 733.0L1669.2 733.0L1662.6 737.8L1665.1 745.6L1658.5 740.8L1651.8 745.6L1654.4 737.8L1647.7 733.0L1655.9 733.0ZM1664.6 724.6L1667.2 732.4L1675.4 732.4L1668.7 737.2L1671.3 745.0L1664.6 740.2L1658.0 745.0L1660.5 737.2L1653.9 732.4L1662.1 732.4ZM1670.8 725.6L1673.3 733.4L1681.5 733.4L1674.9 738.2L1677.4 746.0L1670.8 741.2L1664.1 746.0L1666.7 738.2L1660.0 733.4L1668.2 733.4ZM1676.9 726.5L1679.5 734.3L1687.7 734.3L1681.1 739.1L1683.6 746.9L1676.9 742.1L1670.3 746.9L1672.8 739.1L1666.2 734.3L1674.4 734.3ZM1683.1 725.7L1685.6 733.5L1693.9 733.5L1687.2 738.3L1689.8 746.1L1683.1 741.3L1676.5 746.1L1679.0 738.3L1672.4 733.5L1680.6 733.5ZM1689.3 724.7L1691.8 732.5L1700.0 732.5L1693.4 737.3L1695.9 745.1L1689.3 740.3L1682.6 745.1L1685.2 737.3L1678.5 732.5L1686.7 732.5ZM1695.4 726.1L1698.0 733.9L1706.2 733.9L1699.5 738.7L1702.1 746.5L1695.4 741.7L1688.8 746.5L1691.3 738.7L1684.7 733.9L1692.9 733.9ZM1701.6 725.8L1704.1 733.6L1712.4 733.6L1705.7 738.5L1708.2 746.3L1701.6 741.5L1695.0 746.3L1697.5 738.5L1690.9 733.6L1699.1 733.6ZM1707.8 724.9L1710.3 732.7L1718.5 732.7L1711.9 737.5L1714.4 745.3L1707.8 740.5L1701.1 745.3L1703.7 737.5L1697.0 732.7L1705.2 732.7ZM1713.9 724.9L1716.5 732.7L1724.7 732.7L1718.0 737.5L1720.6 745.3L1713.9 740.5L1707.3 745.3L1709.8 737.5L1703.2 732.7L1711.4 732.7ZM1720.1 724.1L1722.6 731.9L1730.8 731.9L1724.2 736.7L1726.7 744.5L1720.1 739.7L1713.5 744.5L1716.0 736.7L1709.3 731.9L1717.6 731.9ZM1726.3 725.6L1728.8 733.4L1737.0 733.4L1730.4 738.3L1732.9 746.1L1726.3 741.2L1719.6 746.1L1722.2 738.3L1715.5 733.4L1723.7 733.4ZM1732.4 725.4L1735.0 733.2L1743.2 733.2L1736.5 738.0L1739.1 745.8L1732.4 741.0L1725.8 745.8L1728.3 738.0L1721.7 733.2L1729.9 733.2ZM1738.6 724.2L1741.1 732.0L1749.3 732.0L1742.7 736.8L1745.2 744.6L1738.6 739.8L1731.9 744.6L1734.5 736.8L1727.8 732.0L1736.1 732.0ZM1744.8 724.7L1747.3 732.5L1755.5 732.5L1748.9 737.3L1751.4 745.1L1744.8 740.3L1738.1 745.1L1740.6 737.3L1734.0 732.5L1742.2 732.5ZM1750.9 722.9L1753.5 730.7L1761.7 730.7L1755.0 735.5L1757.6 743.3L1750.9 738.5L1744.3 743.3L1746.8 735.5L1740.2 730.7L1748.4 730.7ZM1757.1 723.5L1759.6 731.3L1767.8 731.3L1761.2 736.1L1763.7 743.9L1757.1 739.1L1750.4 743.9L1753.0 736.1L1746.3 731.3L1754.5 731.3ZM1763.2 722.4L1765.8 730.2L1774.0 730.2L1767.3 735.0L1769.9 742.8L1763.2 738.0L1756.6 742.8L1759.1 735.0L1752.5 730.2L1760.7 730.2ZM1769.4 722.7L1771.9 730.5L1780.2 730.5L1773.5 735.3L1776.0 743.1L1769.4 738.3L1762.8 743.1L1765.3 735.3L1758.7 730.5L1766.9 730.5ZM1775.6 720.7L1778.1 728.5L1786.3 728.5L1779.7 733.3L1782.2 741.1L1775.6 736.3L1768.9 741.1L1771.5 733.3L1764.8 728.5L1773.0 728.5ZM1781.7 720.7L1784.3 728.5L1792.5 728.5L1785.8 733.3L1788.4 741.1L1781.7 736.3L1775.1 741.1L1777.6 733.3L1771.0 728.5L1779.2 728.5ZM1787.9 718.4L1790.4 726.2L1798.6 726.2L1792.0 731.0L1794.5 738.8L1787.9 734.0L1781.3 738.8L1783.8 731.0L1777.2 726.2L1785.4 726.2ZM1794.1 717.1L1796.6 724.9L1804.8 724.9L1798.2 729.7L1800.7 737.5L1794.1 732.7L1787.4 737.5L1790.0 729.7L1783.3 724.9L1791.5 724.9ZM1800.2 714.9L1802.8 722.7L1811.0 722.7L1804.3 727.5L1806.9 735.3L1800.2 730.5L1793.6 735.3L1796.1 727.5L1789.5 722.7L1797.7 722.7ZM1806.4 714.5L1808.9 722.3L1817.1 722.3L1810.5 727.1L1813.0 734.9L1806.4 730.1L1799.8 734.9L1802.3 727.1L1795.6 722.3L1803.9 722.3ZM1812.6 714.4L1815.1 722.3L1823.3 722.3L1816.7 727.1L1819.2 734.9L1812.6 730.1L1805.9 734.9L1808.5 727.1L1801.8 722.3L1810.0 722.3ZM1818.7 712.9L1821.3 720.7L1829.5 720.7L1822.8 725.5L1825.4 733.3L1818.7 728.5L1812.1 733.3L1814.6 725.5L1808.0 720.7L1816.2 720.7ZM1824.9 711.4L1827.4 719.2L1835.6 719.2L1829.0 724.1L1831.5 731.9L1824.9 727.1L1818.2 731.9L1820.8 724.1L1814.1 719.2L1822.3 719.2ZM1831.0 712.6L1833.6 720.4L1841.8 720.4L1835.2 725.2L1837.7 733.0L1831.0 728.2L1824.4 733.0L1826.9 725.2L1820.3 720.4L1828.5 720.4ZM1837.2 710.9L1839.7 718.7L1848.0 718.7L1841.3 723.6L1843.9 731.4L1837.2 726.5L1830.6 731.4L1833.1 723.6L1826.5 718.7L1834.7 718.7ZM1843.4 712.8L1845.9 720.6L1854.1 720.6L1847.5 725.4L1850.0 733.2L1843.4 728.4L1836.7 733.2L1839.3 725.4L1832.6 720.6L1840.8 720.6ZM1849.5 712.6L1852.1 720.4L1860.3 720.4L1853.6 725.2L1856.2 733.0L1849.5 728.2L1842.9 733.0L1845.4 725.2L1838.8 720.4L1847.0 720.4ZM1855.7 712.4L1858.2 720.2L1866.5 720.2L1859.8 725.1L1862.3 732.9L1855.7 728.0L1849.1 732.9L1851.6 725.1L1845.0 720.2L1853.2 720.2ZM1861.9 713.9L1864.4 721.7L1872.6 721.7L1866.0 726.5L1868.5 734.3L1861.9 729.5L1855.2 734.3L1857.8 726.5L1851.1 721.7L1859.3 721.7ZM1868.0 714.6L1870.6 722.4L1878.8 722.4L1872.1 727.2L1874.7 735.0L1868.0 730.2L1861.4 735.0L1863.9 727.2L1857.3 722.4L1865.5 722.4ZM1874.2 714.5L1876.7 722.3L1884.9 722.3L1878.3 727.2L1880.8 735.0L1874.2 730.1L1867.6 735.0L1870.1 727.2L1863.4 722.3L1871.7 722.3ZM1880.4 716.9L1882.9 724.7L1891.1 724.7L1884.5 729.6L1887.0 737.4L1880.4 732.5L1873.7 737.4L1876.3 729.6L1869.6 724.7L1877.8 724.7ZM1886.5 716.9L1889.1 724.7L1897.3 724.7L1890.6 729.5L1893.2 737.4L1886.5 732.5L1879.9 737.4L1882.4 729.5L1875.8 724.7L1884.0 724.7ZM1892.7 718.4L1895.2 726.2L1903.4 726.2L1896.8 731.1L1899.3 738.9L1892.7 734.1L1886.0 738.9L1888.6 731.1L1881.9 726.2L1890.2 726.2ZM1898.9 719.2L1901.4 727.0L1909.6 727.0L1903.0 731.9L1905.5 739.7L1898.9 734.8L1892.2 739.7L1894.7 731.9L1888.1 727.0L1896.3 727.0ZM1905.0 718.5L1907.6 726.3L1915.8 726.3L1909.1 731.1L1911.7 738.9L1905.0 734.1L1898.4 738.9L1900.9 731.1L1894.3 726.3L1902.5 726.3ZM1911.2 720.0L1913.7 727.8L1921.9 727.8L1915.3 732.6L1917.8 740.4L1911.2 735.6L1904.5 740.4L1907.1 732.6L1900.4 727.8L1908.6 727.8ZM1917.3 720.4L1919.9 728.2L1928.1 728.2L1921.4 733.1L1924.0 740.9L1917.3 736.0L1910.7 740.9L1913.2 733.1L1906.6 728.2L1914.8 728.2ZM1923.5 721.3L1926.0 729.1L1934.3 729.1L1927.6 733.9L1930.1 741.7L1923.5 736.9L1916.9 741.7L1919.4 733.9L1912.8 729.1L1921.0 729.1ZM1929.7 720.3L1932.2 728.2L1940.4 728.2L1933.8 733.0L1936.3 740.8L1929.7 736.0L1923.0 740.8L1925.6 733.0L1918.9 728.2L1927.1 728.2ZM1935.8 720.1L1938.4 727.9L1946.6 727.9L1939.9 732.8L1942.5 740.6L1935.8 735.8L1929.2 740.6L1931.7 732.8L1925.1 727.9L1933.3 727.9ZM1942.0 720.7L1944.5 728.5L1952.7 728.5L1946.1 733.4L1948.6 741.2L1942.0 736.3L1935.4 741.2L1937.9 733.4L1931.3 728.5L1939.5 728.5ZM1948.2 719.0L1950.7 726.8L1958.9 726.8L1952.3 731.6L1954.8 739.4L1948.2 734.6L1941.5 739.4L1944.1 731.6L1937.4 726.8L1945.6 726.8ZM1954.3 719.9L1956.9 727.7L1965.1 727.7L1958.4 732.5L1961.0 740.3L1954.3 735.5L1947.7 740.3L1950.2 732.5L1943.6 727.7L1951.8 727.7ZM1960.5 720.1L1963.0 727.9L1971.2 727.9L1964.6 732.7L1967.1 740.5L1960.5 735.7L1953.9 740.5L1956.4 732.7L1949.7 727.9L1958.0 727.9ZM1966.7 719.5L1969.2 727.3L1977.4 727.3L1970.8 732.2L1973.3 740.0L1966.7 735.1L1960.0 740.0L1962.6 732.2L1955.9 727.3L1964.1 727.3ZM1972.8 721.4L1975.4 729.2L1983.6 729.2L1976.9 734.0L1979.5 741.8L1972.8 737.0L1966.2 741.8L1968.7 734.0L1962.1 729.2L1970.3 729.2ZM1979.0 720.7L1981.5 728.5L1989.7 728.5L1983.1 733.3L1985.6 741.1L1979.0 736.3L1972.3 741.1L1974.9 733.3L1968.2 728.5L1976.4 728.5ZM1985.1 721.4L1987.7 729.2L1995.9 729.2L1989.3 734.0L1991.8 741.8L1985.1 737.0L1978.5 741.8L1981.0 734.0L1974.4 729.2L1982.6 729.2ZM1991.3 720.2L1993.8 728.0L2002.1 728.0L1995.4 732.8L1998.0 740.6L1991.3 735.8L1984.7 740.6L1987.2 732.8L1980.6 728.0L1988.8 728.0ZM1997.5 719.3L2000.0 727.1L2008.2 727.1L2001.6 731.9L2004.1 739.7L1997.5 734.9L1990.8 739.7L1993.4 731.9L1986.7 727.1L1994.9 727.1ZM2003.6 717.9L2006.2 725.7L2014.4 725.7L2007.7 730.6L2010.3 738.4L2003.6 733.5L1997.0 738.4L1999.5 730.6L1992.9 725.7L2001.1 725.7ZM2009.8 714.5L2012.3 722.3L2020.6 722.3L2013.9 727.1L2016.4 734.9L2009.8 730.1L2003.2 734.9L2005.7 727.1L1999.1 722.3L2007.3 722.3ZM2016.0 714.5L2018.5 722.3L2026.7 722.3L2020.1 727.1L2022.6 734.9L2016.0 730.1L2009.3 734.9L2011.9 727.1L2005.2 722.3L2013.4 722.3Z" fill="#000" stroke="#000" stroke-width="2" stroke-linejoin="bevel"/>
<path d="M401.0 801.8L402.5 801.7L404.0 801.6L405.5 801.5L407.0 801.3L408.5 801.0L410.0 800.7L411.5 800.4L413.0 800.0L414.5 799.7L416.0 799.3L417.5 798.8L419.0 798.4L420.5 798.0L422.0 797.5L423.5 797.0L425.0 796.5L426.5 795.8L428.0 795.1L429.5 794.3L431.0 793.4L432.5 792.5L434.0 791.7L435.5 790.8L437.0 790.0L438.5 789.2L440.0 788.4L441.5 787.5L443.0 786.7L444.5 785.9L446.0 785.0L447.5 784.2L449.0 783.4L450.5 782.6L452.0 781.9L453.5 781.2L455.0 780.5L456.5 779.7L458.0 779.1L459.5 778.4L461.0 777.8L462.5 777.3L464.0 776.9L465.5 776.5L467.0 776.2L468.5 775.9L470.0 775.7L471.5 775.6L473.0 775.4L474.5 775.3L476.0 775.2L477.5 775.1L479.0 775.0L480.5 774.9L482.0 774.9L483.5 774.8L485.0 774.7L486.5 774.7L488.0 774.6L489.5 774.5L491.0 774.4L492.5 774.4L494.0 774.3L495.5 774.2L497.0 774.1L498.5 774.0L500.0 773.9L501.5 773.8L503.0 773.7L504.5 773.6L506.0 773.6L507.5 773.5L509.0 773.5L510.5 773.5L512.0 773.5L513.5 773.5L515.0 773.6L516.5 773.6L518.0 773.7L519.5 773.8L521.0 773.8L522.5 773.9L524.0 774.0L525.5 774.1L527.0 774.3L528.5 774.5L530.0 774.8L531.5 775.2L533.0 775.9L534.5 776.6L536.0 777.3L537.5 778.0L539.0 778.7L540.5 779.2L542.0 779.8L543.5 780.5L545.0 781.5L546.5 782.6L548.0 783.6L549.5 784.5L551.0 785.5L552.5 786.5L554.0 787.7L555.5 789.1L557.0 790.6L558.5 792.1L560.0 793.6L561.5 795.0L563.0 796.4L564.5 797.8L566.0 799.3L567.5 800.7L569.0 802.2L570.5 803.7L572.0 805.4L573.5 806.9L575.0 808.1L576.5 809.2L578.0 810.0L579.5 810.1L581.0 809.7L582.5 809.2L584.0 808.6L585.5 807.9L587.0 807.0L588.5 805.6L590.0 803.9L591.5 802.0L593.0 800.1L594.5 798.1L596.0 795.9L597.5 793.5L599.0 790.9L600.5 787.9L602.0 784.9L603.5 782.1L605.0 779.3L606.5 776.3L608.0 773.2L609.5 770.1L611.0 767.3L612.5 764.6L614.0 762.2L615.5 760.2L617.0 758.4L618.5 756.5L620.0 754.2L621.5 751.7L623.0 748.9L624.5 746.3L626.0 744.0L627.5 741.8L629.0 739.9L630.5 738.1L632.0 736.5L633.5 734.9L635.0 733.3L636.5 731.6L638.0 730.0L639.5 728.5L641.0 726.9L642.5 725.6L644.0 724.5L645.5 723.6L647.0 722.8L648.5 722.1L650.0 721.5L651.5 721.0L653.0 720.5L654.5 720.2L656.0 719.9L657.5 719.7L659.0 719.5L660.5 719.4L662.0 719.4L663.5 719.4L665.0 719.6L666.5 719.7L668.0 719.8L669.5 719.9L671.0 720.1L672.5 720.2L674.0 720.5L675.5 720.9L677.0 721.4L678.5 721.8L680.0 722.3L681.5 722.8L683.0 723.4L684.5 723.9L686.0 724.5L687.5 725.1L689.0 725.7L690.5 726.3L692.0 727.0L693.5 727.7L695.0 728.6L696.5 729.5L698.0 730.7L699.5 731.9L701.0 733.0L702.5 734.2L704.0 735.4L705.5 736.6L707.0 737.9L708.5 739.1L710.0 740.4L711.5 741.6L713.0 743.4L714.5 745.6L716.0 747.9L717.5 750.3L719.0 752.7L720.5 755.2L722.0 757.9L723.5 760.8L725.0 764.2L726.5 767.8L728.0 770.8L729.5 773.5L731.0 776.0L732.5 778.1L734.0 780.2L735.5 782.4L737.0 784.6L738.5 786.8L740.0 788.8L741.5 790.7L743.0 792.5L744.5 794.2L746.0 796.0L747.5 797.4L749.0 798.0L750.5 797.9L752.0 797.7L753.5 797.3L755.0 797.0L756.5 796.5L758.0 795.6L759.5 794.5L761.0 793.3L762.5 792.0L764.0 790.5L765.5 789.1L767.0 787.8L768.5 786.4L770.0 785.5L771.5 784.7L773.0 784.0L774.5 783.3L776.0 782.7L777.5 782.1L779.0 781.5L780.5 780.9L782.0 780.4L783.5 779.9L785.0 779.4L786.5 779.0L788.0 778.4L789.5 777.7L791.0 776.9L792.5 776.0L794.0 775.1L795.5 774.3L797.0 773.7L798.5 773.3L800.0 773.0L801.5 772.9L803.0 772.8L804.5 772.7L806.0 772.6L807.5 772.6L809.0 772.5L810.5 772.5L812.0 772.4L813.5 772.4L815.0 772.4L816.5 772.3L818.0 772.3L819.5 772.3L821.0 772.2L822.5 772.2L824.0 772.2L825.5 772.2L827.0 772.1L828.5 772.1L830.0 772.1L831.5 772.1L833.0 772.1L834.5 772.0L836.0 772.0L837.5 772.0L839.0 772.0L840.5 772.0L842.0 772.0L843.5 772.0L845.0 772.0L846.5 772.0L848.0 772.1L849.5 772.1L851.0 772.2L852.5 772.3L854.0 772.4L855.5 772.5L857.0 772.6L858.5 772.7L860.0 772.8L861.5 772.9L863.0 772.9L864.5 773.0L866.0 773.0L867.5 773.0L869.0 772.9L870.5 772.8L872.0 772.7L873.5 772.5L875.0 772.2L876.5 772.0L878.0 771.7L879.5 771.4L881.0 771.2L882.5 770.9L884.0 770.6L885.5 770.3L887.0 769.9L888.5 769.5L890.0 769.1L891.5 768.7L893.0 768.3L894.5 767.9L896.0 767.5L897.5 767.1L899.0 766.7L900.5 766.4L902.0 766.1L903.5 765.8L905.0 765.5L906.5 765.2L908.0 764.9L909.5 764.6L911.0 764.3L912.5 764.0L914.0 763.7L915.5 763.5L917.0 763.2L918.5 762.9L920.0 762.6L921.5 762.3L923.0 762.0L924.5 761.7L926.0 761.4L927.5 761.2L929.0 760.9L930.5 760.6L932.0 760.3L933.5 760.1L935.0 759.8L936.5 759.6L938.0 759.4L939.5 759.2L941.0 759.0L942.5 758.8L944.0 758.6L945.5 758.4L947.0 758.2L948.5 757.9L950.0 757.6L951.5 757.3L953.0 757.0L954.5 756.7L956.0 756.5L957.5 756.3L959.0 756.2L960.5 756.1L962.0 756.0L963.5 755.9L965.0 755.8L966.5 755.7L968.0 755.6L969.5 755.5L971.0 755.5L972.5 755.4L974.0 755.3L975.5 755.3L977.0 755.3L978.5 755.2L980.0 755.2L981.5 755.1L983.0 755.1L984.5 755.0L986.0 754.9L987.5 754.8L989.0 754.7L990.5 754.6L992.0 754.5L993.5 754.3L995.0 754.2L996.5 754.1L998.0 754.0L999.5 754.0L1001.0 754.0L1002.5 754.0L1004.0 754.0L1005.5 754.1L1007.0 754.1L1008.5 754.2L1010.0 754.2L1011.5 754.3L1013.0 754.4L1014.5 754.5L1016.0 754.6L1017.5 754.7L1019.0 754.8L1020.5 755.0L1022.0 755.3L1023.5 755.7L1025.0 756.1L1026.5 756.5L1028.0 757.1L1029.5 757.7L1031.0 758.5L1032.5 759.4L1034.0 760.5L1035.5 761.7L1037.0 762.9L1038.5 764.2L1040.0 765.5L1041.5 767.0L1043.0 768.6L1044.5 770.1L1046.0 771.6L1047.5 772.9L1049.0 774.2L1050.5 775.5L1052.0 776.6L1053.5 777.9L1055.0 779.1L1056.5 779.8L1058.0 779.7L1059.5 779.3L1061.0 778.8L1062.5 778.2L1064.0 777.5L1065.5 776.7L1067.0 775.9L1068.5 774.9L1070.0 773.7L1071.5 772.3L1073.0 770.7L1074.5 769.1L1076.0 767.2L1077.5 765.2L1079.0 763.1L1080.5 760.7L1082.0 758.0L1083.5 755.3L1085.0 752.9L1086.5 750.7L1088.0 748.5L1089.5 746.3L1091.0 743.9L1092.5 741.4L1094.0 738.9L1095.5 736.8L1097.0 734.9L1098.5 733.0L1100.0 731.0L1101.5 728.9L1103.0 726.5L1104.5 724.3L1106.0 722.3L1107.5 720.5L1109.0 718.8L1110.5 716.8L1112.0 714.7L1113.5 712.8L1115.0 711.0L1116.5 709.2L1118.0 707.4L1119.5 705.7L1121.0 704.0L1122.5 702.3L1124.0 700.6L1125.5 698.9L1127.0 697.4L1128.5 695.9L1130.0 694.6L1131.5 693.4L1133.0 692.3L1134.5 691.3L1136.0 690.4L1137.5 689.6L1139.0 688.8L1140.5 688.2L1142.0 687.6L1143.5 687.2L1145.0 686.9L1146.5 686.6L1148.0 686.4L1149.5 686.3L1151.0 686.3L1152.5 686.3L1154.0 686.4L1155.5 686.4L1157.0 686.5L1158.5 686.6L1160.0 686.8L1161.5 686.9L1163.0 687.1L1164.5 687.3L1166.0 687.6L1167.5 687.9L1169.0 688.2L1170.5 688.5L1172.0 688.9L1173.5 689.3L1175.0 689.7L1176.5 690.2L1178.0 690.7L1179.5 691.2L1181.0 691.8L1182.5 692.6L1184.0 693.3L1185.5 694.2L1187.0 695.0L1188.5 695.9L1190.0 696.7L1191.5 697.6L1193.0 698.4L1194.5 699.3L1196.0 700.2L1197.5 701.0L1199.0 701.9L1200.5 703.1L1202.0 704.4L1203.5 705.9L1205.0 707.5L1206.5 709.3L1208.0 711.2L1209.5 713.1L1211.0 715.2L1212.5 717.4L1214.0 719.8L1215.5 722.6L1217.0 725.3L1218.5 727.7L1220.0 730.0L1221.5 732.3L1223.0 734.6L1224.5 737.7L1226.0 741.9L1227.5 744.9L1229.0 747.3L1230.5 749.5L1232.0 751.7L1233.5 754.3L1235.0 757.1L1236.5 759.5L1238.0 761.8L1239.5 763.9L1241.0 765.8L1242.5 767.5L1244.0 768.6L1245.5 769.5L1247.0 770.2L1248.5 770.6L1250.0 770.7L1251.5 770.6L1253.0 770.3L1254.5 769.9L1256.0 769.5L1257.5 769.0L1259.0 768.5L1260.5 767.9L1262.0 767.2L1263.5 766.3L1265.0 765.5L1266.5 764.6L1268.0 763.7L1269.5 762.7L1271.0 761.7L1272.5 760.7L1274.0 759.8L1275.5 758.8L1277.0 757.8L1278.5 756.8L1280.0 755.9L1281.5 755.0L1283.0 754.0L1284.5 753.0L1286.0 752.0L1287.5 750.7L1289.0 749.5L1290.5 748.2L1292.0 747.0L1293.5 746.0L1295.0 745.2L1296.5 744.7L1298.0 744.2L1299.5 743.7L1301.0 743.3L1302.5 742.9L1304.0 742.6L1305.5 742.4L1307.0 742.3L1308.5 742.1L1310.0 742.0L1311.5 741.9L1313.0 741.8L1314.5 741.7L1316.0 741.6L1317.5 741.5L1319.0 741.5L1320.5 741.5L1322.0 741.5L1323.5 741.5L1325.0 741.5L1326.5 741.5L1328.0 741.5L1329.5 741.5L1331.0 741.5L1332.5 741.5L1334.0 741.5L1335.5 741.5L1337.0 741.5L1338.5 741.5L1340.0 741.5L1341.5 741.5L1343.0 741.5L1344.5 741.5L1346.0 741.5L1347.5 741.5L1349.0 741.5L1350.5 741.5L1352.0 741.5L1353.5 741.5L1355.0 741.5L1356.5 741.5L1358.0 741.5L1359.5 741.5L1361.0 741.5L1362.5 741.5L1364.0 741.5L1365.5 741.5L1367.0 741.5L1368.5 741.5L1370.0 741.5L1371.5 741.5L1373.0 741.5L1374.5 741.5L1376.0 741.5L1377.5 741.5L1379.0 741.5L1380.5 741.5L1382.0 741.5L1383.5 741.5L1385.0 741.5L1386.5 741.4L1388.0 741.4L1389.5 741.4L1391.0 741.3L1392.5 741.3L1394.0 741.2L1395.5 741.2L1397.0 741.1L1398.5 741.1L1400.0 741.0L1401.5 740.9L1403.0 740.8L1404.5 740.7L1406.0 740.6L1407.5 740.4L1409.0 740.3L1410.5 740.2L1412.0 740.1L1413.5 740.0L1415.0 740.0L1416.5 740.0L1418.0 740.0L1419.5 740.0L1421.0 740.0L1422.5 740.0L1424.0 740.0L1425.5 740.0L1427.0 740.0L1428.5 740.0L1430.0 740.0L1431.5 740.0L1433.0 740.0L1434.5 740.0L1436.0 740.0L1437.5 740.0L1439.0 740.0L1440.5 740.0L1442.0 740.0L1443.5 740.0L1445.0 740.0L1446.5 740.0L1448.0 740.0L1449.5 740.0L1451.0 740.0L1452.5 740.0L1454.0 740.1L1455.5 740.2L1457.0 740.3L1458.5 740.4L1460.0 740.5L1461.5 740.6L1463.0 740.7L1464.5 740.8L1466.0 740.9L1467.5 741.0L1469.0 741.0L1470.5 741.0L1472.0 741.0L1473.5 741.0L1475.0 741.0L1476.5 741.0L1478.0 741.0L1479.5 741.0L1481.0 741.0L1482.5 741.0L1484.0 741.0L1485.5 741.0L1487.0 741.0L1488.5 741.0L1490.0 741.0L1491.5 741.0L1493.0 741.1L1494.5 741.1L1496.0 741.2L1497.5 741.3L1499.0 741.4L1500.5 741.5L1502.0 741.7L1503.5 741.8L1505.0 742.0L1506.5 742.2L1508.0 742.7L1509.5 743.6L1511.0 744.7L1512.5 746.0L1514.0 747.4L1515.5 748.8L1517.0 750.2L1518.5 751.5L1520.0 752.5L1521.5 753.3L1523.0 754.2L1524.5 755.2L1526.0 756.2L1527.5 757.2L1529.0 758.2L1530.5 759.2L1532.0 760.3L1533.5 761.5L1535.0 762.8L1536.5 764.3L1538.0 766.0L1539.5 767.7L1541.0 769.4L1542.5 771.0L1544.0 772.6L1545.5 774.1L1547.0 775.5L1548.5 776.7L1550.0 778.1L1551.5 779.2L1553.0 779.8L1554.5 779.6L1556.0 779.2L1557.5 778.7L1559.0 778.0L1560.5 777.3L1562.0 776.5L1563.5 775.6L1565.0 774.6L1566.5 773.5L1568.0 771.8L1569.5 769.9L1571.0 767.9L1572.5 765.6L1574.0 763.0L1575.5 760.4L1577.0 757.6L1578.5 754.7L1580.0 752.6L1581.5 751.3L1583.0 749.9L1584.5 748.0L1586.0 745.7L1587.5 743.3L1589.0 741.1L1590.5 738.7L1592.0 736.5L1593.5 734.5L1595.0 732.7L1596.5 731.0L1598.0 729.3L1599.5 727.6L1601.0 725.9L1602.5 724.2L1604.0 722.6L1605.5 720.9L1607.0 719.2L1608.5 717.5L1610.0 715.9L1611.5 714.2L1613.0 712.2L1614.5 710.4L1616.0 708.8L1617.5 707.4L1619.0 706.1L1620.5 704.9L1622.0 703.7L1623.5 702.4L1625.0 701.1L1626.5 699.9L1628.0 698.6L1629.5 697.3L1631.0 696.2L1632.5 695.2L1634.0 694.3L1635.5 693.4L1637.0 692.7L1638.5 692.2L1640.0 691.8L1641.5 691.4L1643.0 691.1L1644.5 690.9L1646.0 690.8L1647.5 690.6L1649.0 690.5L1650.5 690.5L1652.0 690.5L1653.5 690.6L1655.0 690.7L1656.5 690.8L1658.0 690.8L1659.5 690.7L1661.0 690.7L1662.5 690.8L1664.0 690.8L1665.5 690.8L1667.0 690.9L1668.5 691.0L1670.0 691.0L1671.5 691.1L1673.0 691.2L1674.5 691.4L1676.0 691.5L1677.5 691.7L1679.0 691.9L1680.5 692.2L1682.0 692.4L1683.5 692.7L1685.0 693.1L1686.5 693.5L1688.0 693.9L1689.5 694.3L1691.0 694.7L1692.5 695.1L1694.0 695.5L1695.5 695.9L1697.0 696.3L1698.5 696.8L1700.0 697.3L1701.5 697.9L1703.0 698.8L1704.5 700.0L1706.0 701.2L1707.5 702.4L1709.0 703.6L1710.5 704.7L1712.0 705.9L1713.5 707.2L1715.0 708.6L1716.5 710.1L1718.0 711.6L1719.5 713.0L1721.0 714.6L1722.5 716.2L1724.0 718.1L1725.5 720.2L1727.0 722.4L1728.5 724.2L1730.0 726.1L1731.5 728.2L1733.0 731.1L1734.5 734.1L1736.0 736.8L1737.5 739.2L1739.0 741.4L1740.5 743.6L1742.0 745.5L1743.5 747.2L1745.0 748.9L1746.5 750.9L1748.0 753.0L1749.5 755.2L1751.0 757.2L1752.5 759.2L1754.0 761.0L1755.5 762.7L1757.0 763.9L1758.5 764.7L1760.0 765.3L1761.5 765.9L1763.0 766.2L1764.5 766.3L1766.0 766.1L1767.5 765.6L1769.0 765.0L1770.5 764.4L1772.0 763.8L1773.5 763.1L1775.0 762.3L1776.5 761.4L1778.0 760.5L1779.5 759.6L1781.0 758.6L1782.5 757.6L1784.0 756.5L1785.5 755.4L1787.0 754.2L1788.5 753.0L1790.0 751.6L1791.5 750.3L1793.0 748.9L1794.5 747.2L1796.0 745.3L1797.5 743.2L1799.0 741.2L1800.5 739.3L1802.0 737.7L1803.5 736.4L1805.0 735.7L1806.5 735.4L1808.0 735.2L1809.5 735.0L1811.0 734.9L1812.5 734.8L1814.0 734.7L1815.5 734.6L1817.0 734.5L1818.5 734.4L1820.0 734.3L1821.5 734.2L1823.0 734.2L1824.5 734.1L1826.0 734.1L1827.5 734.0L1829.0 734.0L1830.5 734.0L1832.0 734.0L1833.5 734.1L1835.0 734.2L1836.5 734.2L1838.0 734.4L1839.5 734.5L1841.0 734.6L1842.5 734.7L1844.0 734.8L1845.5 734.9L1847.0 734.9L1848.5 735.0L1850.0 735.0L1851.5 735.0L1853.0 735.0L1854.5 734.9L1856.0 734.9L1857.5 734.8L1859.0 734.8L1860.5 734.7L1862.0 734.7L1863.5 734.6L1865.0 734.5L1866.5 734.4L1868.0 734.3L1869.5 734.2L1871.0 734.1L1872.5 733.9L1874.0 733.8L1875.5 733.7L1877.0 733.6L1878.5 733.5L1880.0 733.4L1881.5 733.3L1883.0 733.3L1884.5 733.2L1886.0 733.2L1887.5 733.1L1889.0 733.0L1890.5 733.0L1892.0 732.9L1893.5 732.8L1895.0 732.7L1896.5 732.5L1898.0 732.4L1899.5 732.3L1901.0 732.1L1902.5 731.9L1904.0 731.8L1905.5 731.6L1907.0 731.3L1908.5 731.1L1910.0 730.7L1911.5 730.2L1913.0 729.7L1914.5 729.3L1916.0 729.1L1917.5 728.8L1919.0 728.6L1920.5 728.4L1922.0 728.3L1923.5 728.1L1925.0 728.0L1926.5 727.8L1928.0 727.7L1929.5 727.6L1931.0 727.5L1932.5 727.4L1934.0 727.4L1935.5 727.3L1937.0 727.2L1938.5 727.1L1940.0 727.1L1941.5 727.0L1943.0 727.0L1944.5 727.0L1946.0 727.0L1947.5 727.0L1949.0 727.1L1950.5 727.1L1952.0 727.2L1953.5 727.2L1955.0 727.3L1956.5 727.4L1958.0 727.5L1959.5 727.6L1961.0 727.7L1962.5 727.8L1964.0 727.9L1965.5 728.0L1967.0 728.1L1968.5 728.2L1970.0 728.3L1971.5 728.4L1973.0 728.5L1974.5 728.6L1976.0 728.6L1977.5 728.7L1979.0 728.8L1980.5 728.9L1982.0 729.1L1983.5 729.2L1985.0 729.3L1986.5 729.4L1988.0 729.5L1989.5 729.6L1991.0 729.7L1992.5 729.8L1994.0 729.9L1995.5 730.0L1997.0 730.1L1998.5 730.2L2000.0 730.3L2001.5 730.4L2003.0 730.5L2004.5 730.6L2006.0 730.6L2007.5 730.7L2009.0 730.8L2010.5 730.8L2012.0 730.9L2013.5 730.9L2016.0 731.0" stroke="#000000"/>
<path d="M401.0 801.8L402.5 801.7L404.0 801.6L405.5 801.5L407.0 801.3L408.5 801.0L410.0 800.7L411.5 800.4L413.0 800.0L414.5 799.7L416.0 799.3L417.5 798.8L419.0 798.4L420.5 798.0L422.0 797.5L423.5 797.0L425.0 796.5L426.5 795.8L428.0 795.1L429.5 794.3L431.0 793.4L432.5 792.6L434.0 791.7L435.5 790.8L437.0 790.0L438.5 789.2L440.0 788.4L441.5 787.5L443.0 786.7L444.5 785.8L446.0 784.9L447.5 784.1L449.0 783.3L450.5 782.5L452.0 781.7L453.5 780.9L455.0 780.2L456.5 779.4L458.0 778.6L459.5 777.9L461.0 777.3L462.5 776.7L464.0 776.3L465.5 775.9L467.0 775.5L468.5 775.2L470.0 775.0L471.5 775.0L473.0 775.1L474.5 775.2L476.0 775.3L477.5 775.4L479.0 775.4L480.5 775.3L482.0 775.1L483.5 774.9L485.0 774.6L486.5 774.3L488.0 774.0L489.5 773.8L491.0 773.6L492.5 773.5L494.0 773.5L495.5 773.5L497.0 773.6L498.5 773.7L500.0 773.7L501.5 773.8L503.0 774.0L504.5 774.1L506.0 774.2L507.5 774.4L509.0 774.5L510.5 774.8L512.0 775.0L513.5 775.4L515.0 775.7L516.5 776.1L518.0 776.6L519.5 777.0L521.0 777.5L522.5 777.9L524.0 778.4L525.5 779.0L527.0 779.7L528.5 780.5L530.0 781.4L531.5 782.4L533.0 783.5L534.5 784.6L536.0 785.7L537.5 786.6L539.0 787.4L540.5 788.3L542.0 789.3L543.5 790.4L545.0 791.8L546.5 793.6L548.0 795.5L549.5 797.3L551.0 799.0L552.5 800.6L554.0 802.4L555.5 804.6L557.0 807.0L558.5 809.6L560.0 812.2L561.5 814.8L563.0 817.3L564.5 819.8L566.0 822.3L567.5 824.8L569.0 827.3L570.5 829.8L572.0 832.4L573.5 835.2L575.0 837.9L576.5 840.2L578.0 842.1L579.5 843.7L581.0 844.5L582.5 844.1L584.0 843.3L585.5 842.2L587.0 841.0L588.5 839.4L590.0 836.6L591.5 833.1L593.0 829.5L594.5 825.8L596.0 821.7L597.5 817.2L599.0 812.2L600.5 806.3L602.0 800.4L603.5 794.8L605.0 789.2L606.5 782.9L608.0 776.7L609.5 770.7L611.0 765.1L612.5 760.0L614.0 755.7L615.5 752.1L617.0 748.1L618.5 743.3L620.0 738.0L621.5 733.0L623.0 728.7L624.5 724.7L626.0 721.1L627.5 717.7L629.0 714.7L630.5 711.9L632.0 709.1L633.5 706.3L635.0 703.5L636.5 700.6L638.0 697.9L639.5 695.1L641.0 692.5L642.5 690.0L644.0 688.0L645.5 686.2L647.0 684.6L648.5 683.2L650.0 682.0L651.5 680.9L653.0 679.9L654.5 679.1L656.0 678.4L657.5 677.7L659.0 677.2L660.5 676.8L662.0 676.4L663.5 676.1L665.0 676.0L666.5 676.0L668.0 676.1L669.5 676.3L671.0 676.4L672.5 676.6L674.0 676.9L675.5 677.3L677.0 678.0L678.5 678.9L680.0 679.8L681.5 680.9L683.0 682.0L684.5 683.1L686.0 684.3L687.5 685.6L689.0 686.8L690.5 688.2L692.0 689.6L693.5 691.2L695.0 693.0L696.5 695.2L698.0 697.7L699.5 700.3L701.0 702.9L702.5 705.5L704.0 708.2L705.5 710.9L707.0 713.6L708.5 716.4L710.0 719.2L711.5 722.3L713.0 725.8L714.5 729.6L716.0 733.4L717.5 737.2L719.0 740.9L720.5 744.9L722.0 749.2L723.5 753.8L725.0 758.7L726.5 764.4L728.0 770.1L729.5 775.0L731.0 779.4L732.5 783.4L734.0 787.1L735.5 790.5L737.0 793.9L738.5 797.3L740.0 800.9L741.5 804.5L743.0 807.8L744.5 811.0L746.0 814.2L747.5 817.1L749.0 819.8L750.5 822.6L752.0 825.5L753.5 827.9L755.0 829.3L756.5 829.3L758.0 828.9L759.5 828.2L761.0 827.4L762.5 826.4L764.0 824.8L765.5 822.5L767.0 820.1L768.5 817.4L770.0 814.4L771.5 811.4L773.0 808.6L774.5 805.7L776.0 802.9L777.5 800.2L779.0 798.5L780.5 797.0L782.0 795.5L783.5 794.0L785.0 792.7L786.5 791.4L788.0 790.2L789.5 789.2L791.0 788.2L792.5 787.3L794.0 786.4L795.5 785.6L797.0 784.9L798.5 784.3L800.0 783.7L801.5 783.1L803.0 782.6L804.5 782.0L806.0 781.5L807.5 781.1L809.0 780.7L810.5 780.2L812.0 779.9L813.5 779.5L815.0 779.2L816.5 779.0L818.0 778.7L819.5 778.5L821.0 778.3L822.5 778.1L824.0 777.8L825.5 777.6L827.0 777.4L828.5 777.2L830.0 776.9L831.5 776.8L833.0 776.6L834.5 776.4L836.0 776.3L837.5 776.1L839.0 776.0L840.5 775.8L842.0 775.7L843.5 775.6L845.0 775.5L846.5 775.4L848.0 775.3L849.5 775.2L851.0 775.1L852.5 775.1L854.0 775.0L855.5 774.9L857.0 774.8L858.5 774.7L860.0 774.6L861.5 774.5L863.0 774.4L864.5 774.3L866.0 774.2L867.5 774.1L869.0 773.8L870.5 773.3L872.0 772.9L873.5 772.4L875.0 772.1L876.5 771.8L878.0 771.7L879.5 771.5L881.0 771.2L882.5 770.9L884.0 770.5L885.5 770.2L887.0 769.8L888.5 769.4L890.0 769.0L891.5 768.6L893.0 768.2L894.5 767.8L896.0 767.5L897.5 767.1L899.0 766.7L900.5 766.4L902.0 766.0L903.5 765.7L905.0 765.4L906.5 765.1L908.0 764.8L909.5 764.4L911.0 764.1L912.5 763.8L914.0 763.5L915.5 763.2L917.0 762.9L918.5 762.6L920.0 762.3L921.5 762.0L923.0 761.7L924.5 761.4L926.0 761.1L927.5 760.8L929.0 760.5L930.5 760.2L932.0 759.9L933.5 759.6L935.0 759.3L936.5 759.0L938.0 758.8L939.5 758.5L941.0 758.3L942.5 758.0L944.0 757.8L945.5 757.5L947.0 757.2L948.5 756.9L950.0 756.5L951.5 756.2L953.0 755.8L954.5 755.5L956.0 755.2L957.5 755.0L959.0 754.8L960.5 754.7L962.0 754.5L963.5 754.4L965.0 754.2L966.5 754.1L968.0 753.9L969.5 753.8L971.0 753.6L972.5 753.3L974.0 752.9L975.5 752.6L977.0 752.3L978.5 752.1L980.0 751.9L981.5 751.9L983.0 751.9L984.5 752.0L986.0 752.2L987.5 752.3L989.0 752.5L990.5 752.7L992.0 752.9L993.5 753.1L995.0 753.3L996.5 753.5L998.0 753.8L999.5 754.1L1001.0 754.4L1002.5 754.8L1004.0 755.1L1005.5 755.6L1007.0 756.1L1008.5 756.7L1010.0 757.4L1011.5 758.1L1013.0 758.8L1014.5 759.5L1016.0 760.3L1017.5 761.0L1019.0 761.7L1020.5 762.6L1022.0 763.6L1023.5 764.6L1025.0 765.6L1026.5 766.6L1028.0 767.5L1029.5 768.5L1031.0 769.6L1032.5 770.7L1034.0 772.1L1035.5 773.7L1037.0 775.5L1038.5 777.4L1040.0 779.5L1041.5 781.7L1043.0 783.9L1044.5 786.3L1046.0 788.8L1047.5 791.5L1049.0 794.2L1050.5 796.7L1052.0 799.0L1053.5 801.3L1055.0 803.4L1056.5 805.4L1058.0 807.3L1059.5 809.4L1061.0 811.3L1062.5 812.2L1064.0 811.9L1065.5 811.2L1067.0 810.1L1068.5 808.8L1070.0 807.3L1071.5 805.7L1073.0 803.7L1074.5 801.0L1076.0 797.9L1077.5 794.6L1079.0 790.9L1080.5 786.7L1082.0 782.2L1083.5 777.0L1085.0 771.3L1086.5 766.1L1088.0 761.5L1089.5 757.1L1091.0 752.3L1092.5 747.1L1094.0 741.9L1095.5 737.4L1097.0 733.3L1098.5 729.3L1100.0 724.9L1101.5 720.1L1103.0 715.3L1104.5 711.1L1106.0 707.2L1107.5 703.7L1109.0 700.4L1110.5 697.4L1112.0 694.6L1113.5 692.0L1115.0 689.2L1116.5 686.4L1118.0 683.6L1119.5 680.8L1121.0 678.1L1122.5 675.3L1124.0 672.5L1125.5 669.8L1127.0 667.2L1128.5 664.8L1130.0 662.4L1131.5 660.3L1133.0 658.4L1134.5 656.6L1136.0 654.9L1137.5 653.3L1139.0 651.9L1140.5 650.7L1142.0 649.5L1143.5 648.4L1145.0 647.5L1146.5 646.8L1148.0 646.2L1149.5 645.7L1151.0 645.3L1152.5 645.1L1154.0 644.9L1155.5 644.9L1157.0 644.8L1158.5 644.9L1160.0 644.9L1161.5 645.0L1163.0 645.2L1164.5 645.4L1166.0 645.6L1167.5 646.0L1169.0 646.5L1170.5 647.1L1172.0 647.7L1173.5 648.3L1175.0 649.1L1176.5 649.9L1178.0 650.8L1179.5 651.9L1181.0 653.1L1182.5 654.5L1184.0 656.2L1185.5 657.9L1187.0 659.7L1188.5 661.5L1190.0 663.3L1191.5 665.1L1193.0 666.9L1194.5 668.8L1196.0 670.7L1197.5 672.5L1199.0 674.3L1200.5 676.2L1202.0 678.2L1203.5 680.3L1205.0 682.8L1206.5 685.6L1208.0 688.5L1209.5 691.5L1211.0 694.6L1212.5 697.9L1214.0 701.4L1215.5 705.3L1217.0 709.7L1218.5 713.9L1220.0 717.8L1221.5 721.5L1223.0 725.2L1224.5 728.8L1226.0 732.4L1227.5 736.6L1229.0 742.6L1230.5 749.1L1232.0 753.6L1233.5 757.4L1235.0 761.0L1236.5 764.4L1238.0 768.1L1239.5 772.4L1241.0 776.9L1242.5 780.9L1244.0 784.7L1245.5 788.3L1247.0 791.5L1248.5 794.6L1250.0 797.4L1251.5 799.6L1253.0 801.1L1254.5 802.5L1256.0 803.6L1257.5 804.4L1259.0 804.6L1260.5 804.3L1262.0 803.6L1263.5 802.5L1265.0 801.4L1266.5 800.3L1268.0 798.9L1269.5 797.1L1271.0 795.1L1272.5 793.0L1274.0 790.9L1275.5 788.7L1277.0 786.3L1278.5 783.9L1280.0 781.6L1281.5 779.3L1283.0 777.0L1284.5 774.6L1286.0 772.3L1287.5 770.2L1289.0 768.4L1290.5 766.8L1292.0 765.1L1293.5 763.4L1295.0 761.7L1296.5 760.0L1298.0 758.4L1299.5 756.7L1301.0 755.2L1302.5 753.8L1304.0 752.9L1305.5 752.3L1307.0 751.9L1308.5 751.4L1310.0 751.0L1311.5 750.7L1313.0 750.4L1314.5 750.1L1316.0 749.9L1317.5 749.6L1319.0 749.5L1320.5 749.3L1322.0 749.2L1323.5 749.0L1325.0 748.9L1326.5 748.8L1328.0 748.7L1329.5 748.6L1331.0 748.5L1332.5 748.4L1334.0 748.3L1335.5 748.2L1337.0 748.0L1338.5 747.9L1340.0 747.7L1341.5 747.5L1343.0 747.3L1344.5 747.2L1346.0 747.1L1347.5 747.0L1349.0 747.0L1350.5 747.0L1352.0 747.0L1353.5 747.0L1355.0 747.1L1356.5 747.1L1358.0 747.1L1359.5 747.1L1361.0 747.2L1362.5 747.2L1364.0 747.2L1365.5 747.2L1367.0 747.3L1368.5 747.3L1370.0 747.4L1371.5 747.4L1373.0 747.4L1374.5 747.5L1376.0 747.5L1377.5 747.5L1379.0 747.5L1380.5 747.5L1382.0 747.4L1383.5 747.4L1385.0 747.3L1386.5 747.2L1388.0 747.2L1389.5 747.0L1391.0 746.9L1392.5 746.8L1394.0 746.7L1395.5 746.5L1397.0 746.4L1398.5 746.2L1400.0 746.1L1401.5 745.9L1403.0 745.6L1404.5 745.2L1406.0 744.8L1407.5 744.3L1409.0 743.8L1410.5 743.4L1412.0 743.0L1413.5 742.8L1415.0 742.6L1416.5 742.5L1418.0 742.5L1419.5 742.4L1421.0 742.4L1422.5 742.3L1424.0 742.3L1425.5 742.2L1427.0 742.2L1428.5 742.2L1430.0 742.2L1431.5 742.2L1433.0 742.2L1434.5 742.2L1436.0 742.2L1437.5 742.2L1439.0 742.2L1440.5 742.2L1442.0 742.2L1443.5 742.2L1445.0 742.2L1446.5 742.2L1448.0 742.2L1449.5 742.2L1451.0 742.2L1452.5 742.3L1454.0 742.5L1455.5 742.7L1457.0 742.9L1458.5 743.1L1460.0 743.2L1461.5 743.4L1463.0 743.5L1464.5 743.5L1466.0 743.5L1467.5 743.5L1469.0 743.5L1470.5 743.5L1472.0 743.5L1473.5 743.5L1475.0 743.5L1476.5 743.5L1478.0 743.5L1479.5 743.5L1481.0 743.5L1482.5 743.6L1484.0 743.7L1485.5 743.9L1487.0 744.1L1488.5 744.3L1490.0 744.5L1491.5 744.7L1493.0 745.0L1494.5 745.3L1496.0 745.7L1497.5 746.3L1499.0 747.1L1500.5 747.9L1502.0 748.7L1503.5 749.7L1505.0 750.6L1506.5 751.6L1508.0 752.5L1509.5 753.3L1511.0 754.2L1512.5 755.1L1514.0 756.0L1515.5 757.0L1517.0 758.0L1518.5 759.0L1520.0 760.1L1521.5 761.3L1523.0 762.5L1524.5 763.9L1526.0 765.6L1527.5 767.5L1529.0 769.7L1530.5 771.9L1532.0 774.1L1533.5 776.2L1535.0 778.3L1536.5 780.2L1538.0 782.2L1539.5 784.3L1541.0 786.7L1542.5 789.5L1544.0 792.3L1545.5 795.0L1547.0 797.6L1548.5 800.1L1550.0 802.6L1551.5 804.9L1553.0 806.9L1554.5 809.0L1556.0 811.1L1557.5 812.7L1559.0 813.4L1560.5 813.1L1562.0 812.4L1563.5 811.4L1565.0 810.2L1566.5 808.8L1568.0 807.2L1569.5 805.5L1571.0 803.1L1572.5 799.6L1574.0 795.7L1575.5 791.4L1577.0 786.3L1578.5 781.1L1580.0 775.3L1581.5 769.8L1583.0 766.6L1584.5 764.1L1586.0 760.2L1587.5 755.5L1589.0 750.7L1590.5 745.9L1592.0 741.1L1593.5 736.8L1595.0 732.9L1596.5 729.2L1598.0 725.6L1599.5 721.9L1601.0 718.3L1602.5 714.6L1604.0 711.0L1605.5 707.3L1607.0 703.5L1608.5 700.0L1610.0 696.9L1611.5 694.0L1613.0 691.2L1614.5 688.7L1616.0 686.4L1617.5 684.3L1619.0 682.4L1620.5 680.6L1622.0 678.6L1623.5 676.5L1625.0 674.4L1626.5 672.2L1628.0 670.2L1629.5 668.0L1631.0 665.8L1632.5 663.8L1634.0 661.9L1635.5 660.2L1637.0 658.5L1638.5 657.0L1640.0 655.6L1641.5 654.4L1643.0 653.4L1644.5 652.6L1646.0 651.9L1647.5 651.3L1649.0 650.7L1650.5 650.3L1652.0 649.8L1653.5 649.4L1655.0 649.1L1656.5 648.8L1658.0 648.7L1659.5 648.7L1661.0 648.6L1662.5 648.7L1664.0 648.7L1665.5 648.9L1667.0 648.9L1668.5 649.0L1670.0 649.1L1671.5 649.3L1673.0 649.5L1674.5 649.7L1676.0 650.0L1677.5 650.4L1679.0 650.8L1680.5 651.4L1682.0 652.0L1683.5 652.6L1685.0 653.5L1686.5 654.5L1688.0 655.6L1689.5 656.6L1691.0 657.7L1692.5 658.8L1694.0 659.9L1695.5 661.1L1697.0 662.3L1698.5 663.6L1700.0 665.0L1701.5 666.6L1703.0 668.5L1704.5 670.4L1706.0 672.3L1707.5 674.1L1709.0 675.9L1710.5 677.6L1712.0 679.6L1713.5 681.8L1715.0 684.2L1716.5 686.7L1718.0 689.4L1719.5 691.9L1721.0 694.5L1722.5 697.2L1724.0 700.1L1725.5 703.3L1727.0 706.9L1728.5 710.6L1730.0 714.1L1731.5 717.2L1733.0 720.5L1734.5 724.3L1736.0 729.5L1737.5 734.7L1739.0 739.3L1740.5 743.6L1742.0 747.6L1743.5 751.4L1745.0 755.0L1746.5 758.2L1748.0 761.1L1749.5 763.9L1751.0 767.3L1752.5 771.0L1754.0 774.7L1755.5 778.2L1757.0 781.7L1758.5 785.1L1760.0 788.1L1761.5 791.0L1763.0 793.3L1764.5 794.6L1766.0 795.9L1767.5 796.9L1769.0 797.7L1770.5 798.1L1772.0 798.1L1773.5 797.6L1775.0 796.5L1776.5 795.2L1778.0 793.9L1779.5 792.5L1781.0 790.9L1782.5 789.1L1784.0 787.3L1785.5 785.3L1787.0 783.3L1788.5 781.1L1790.0 778.8L1791.5 776.5L1793.0 774.1L1794.5 771.4L1796.0 768.6L1797.5 766.1L1799.0 763.9L1800.5 762.0L1802.0 760.5L1803.5 759.2L1805.0 758.0L1806.5 756.3L1808.0 754.3L1809.5 752.4L1811.0 750.5L1812.5 748.9L1814.0 747.4L1815.5 746.2L1817.0 745.2L1818.5 744.4L1820.0 743.8L1821.5 743.3L1823.0 742.8L1824.5 742.4L1826.0 742.0L1827.5 741.6L1829.0 741.3L1830.5 740.9L1832.0 740.6L1833.5 740.3L1835.0 739.9L1836.5 739.6L1838.0 739.2L1839.5 738.9L1841.0 738.6L1842.5 738.3L1844.0 738.0L1845.5 737.7L1847.0 737.4L1848.5 737.1L1850.0 736.8L1851.5 736.5L1853.0 736.2L1854.5 735.9L1856.0 735.6L1857.5 735.3L1859.0 735.0L1860.5 734.8L1862.0 734.6L1863.5 734.4L1865.0 734.3L1866.5 734.1L1868.0 734.0L1869.5 733.9L1871.0 733.8L1872.5 733.7L1874.0 733.6L1875.5 733.5L1877.0 733.4L1878.5 733.3L1880.0 733.2L1881.5 733.1L1883.0 733.1L1884.5 733.0L1886.0 733.0L1887.5 732.9L1889.0 732.8L1890.5 732.8L1892.0 732.7L1893.5 732.6L1895.0 732.5L1896.5 732.4L1898.0 732.2L1899.5 732.1L1901.0 731.9L1902.5 731.8L1904.0 731.6L1905.5 731.4L1907.0 731.1L1908.5 730.9L1910.0 730.4L1911.5 729.9L1913.0 729.4L1914.5 728.9L1916.0 728.7L1917.5 728.4L1919.0 728.2L1920.5 728.0L1922.0 727.8L1923.5 727.6L1925.0 727.4L1926.5 727.3L1928.0 727.1L1929.5 727.0L1931.0 726.9L1932.5 726.8L1934.0 726.7L1935.5 726.6L1937.0 726.5L1938.5 726.5L1940.0 726.4L1941.5 726.3L1943.0 726.3L1944.5 726.3L1946.0 726.3L1947.5 726.3L1949.0 726.4L1950.5 726.5L1952.0 726.6L1953.5 726.7L1955.0 726.8L1956.5 727.0L1958.0 727.1L1959.5 727.3L1961.0 727.4L1962.5 727.6L1964.0 727.8L1965.5 728.0L1967.0 728.1L1968.5 728.3L1970.0 728.5L1971.5 728.7L1973.0 728.8L1974.5 729.0L1976.0 729.2L1977.5 729.3L1979.0 729.5L1980.5 729.6L1982.0 729.8L1983.5 730.0L1985.0 730.2L1986.5 730.4L1988.0 730.6L1989.5 730.9L1991.0 731.2L1992.5 731.5L1994.0 731.8L1995.5 732.2L1997.0 732.5L1998.5 732.9L2000.0 733.3L2001.5 733.6L2003.0 734.0L2004.5 734.3L2006.0 734.6L2007.5 735.0L2009.0 735.3L2010.5 735.6L2012.0 735.9L2013.5 736.3L2016.0 736.8" stroke="#ff0000"/>
<path d="M401.0 797.2L402.5 797.0L404.0 796.8L405.5 796.6L407.0 796.4L408.5 796.1L410.0 795.8L411.5 795.5L413.0 795.2L414.5 794.8L416.0 794.4L417.5 794.0L419.0 793.5L420.5 792.9L422.0 792.4L423.5 791.9L425.0 791.3L426.5 790.7L428.0 790.2L429.5 789.6L431.0 789.1L432.5 788.6L434.0 788.1L435.5 787.6L437.0 787.2L438.5 786.7L440.0 786.3L441.5 785.8L443.0 785.3L444.5 784.6L446.0 784.0L447.5 783.3L449.0 782.6L450.5 781.9L452.0 781.3L453.5 780.8L455.0 780.4L456.5 780.1L458.0 779.8L459.5 779.6L461.0 779.4L462.5 779.3L464.0 779.1L465.5 779.0L467.0 778.9L468.5 778.7L470.0 778.6L471.5 778.4L473.0 778.3L474.5 778.1L476.0 777.9L477.5 777.8L479.0 777.6L480.5 777.5L482.0 777.5L483.5 777.5L485.0 777.6L486.5 777.7L488.0 777.9L489.5 778.0L491.0 778.2L492.5 778.4L494.0 778.6L495.5 778.9L497.0 779.3L498.5 779.7L500.0 780.2L501.5 780.7L503.0 781.2L504.5 781.8L506.0 782.3L507.5 782.9L509.0 783.4L510.5 784.0L512.0 784.7L513.5 785.3L515.0 786.0L516.5 786.8L518.0 787.6L519.5 788.5L521.0 789.3L522.5 790.2L524.0 791.1L525.5 792.0L527.0 793.0L528.5 794.1L530.0 795.5L531.5 797.0L533.0 798.6L534.5 800.3L536.0 801.9L537.5 803.5L539.0 805.2L540.5 806.9L542.0 808.9L543.5 811.3L545.0 814.6L546.5 818.2L548.0 821.8L549.5 824.9L551.0 828.0L552.5 831.4L554.0 835.5L555.5 840.1L557.0 845.0L558.5 850.1L560.0 855.0L561.5 859.8L563.0 864.5L564.5 869.2L566.0 873.9L567.5 878.7L569.0 883.4L570.5 888.5L572.0 893.9L573.5 898.8L575.0 902.9L576.5 906.2L578.0 908.8L579.5 909.0L581.0 907.9L582.5 906.2L584.0 904.0L585.5 901.5L587.0 897.4L588.5 891.4L590.0 884.6L591.5 877.8L593.0 870.4L594.5 862.3L596.0 853.5L597.5 843.1L599.0 831.8L600.5 821.0L602.0 810.6L603.5 799.3L605.0 787.4L606.5 775.8L608.0 764.9L609.5 754.8L611.0 745.8L612.5 738.5L614.0 731.5L615.5 723.2L617.0 713.4L618.5 703.5L620.0 694.6L621.5 686.9L623.0 679.6L624.5 672.9L626.0 666.7L627.5 661.0L629.0 655.6L630.5 650.2L632.0 644.7L633.5 639.0L635.0 633.5L636.5 628.2L638.0 622.9L639.5 618.0L641.0 613.9L642.5 610.4L644.0 607.3L645.5 604.4L647.0 601.9L648.5 599.7L650.0 597.9L651.5 596.2L653.0 594.7L654.5 593.5L656.0 592.4L657.5 591.5L659.0 590.7L660.5 590.2L662.0 590.1L663.5 590.1L665.0 590.2L666.5 590.5L668.0 590.5L669.5 590.6L671.0 591.0L672.5 591.6L674.0 592.9L675.5 594.4L677.0 595.9L678.5 597.6L680.0 599.4L681.5 601.4L683.0 603.4L684.5 605.5L686.0 607.7L687.5 610.0L689.0 612.5L690.5 615.3L692.0 618.4L693.5 622.2L695.0 626.7L696.5 631.5L698.0 636.3L699.5 641.1L701.0 646.0L702.5 651.1L704.0 656.2L705.5 661.3L707.0 666.5L708.5 672.2L710.0 678.5L711.5 685.5L713.0 692.8L714.5 700.2L716.0 707.4L717.5 714.8L719.0 722.8L720.5 731.4L722.0 740.7L723.5 750.8L725.0 762.4L726.5 773.2L728.0 782.5L729.5 791.1L731.0 799.0L732.5 806.2L734.0 813.1L735.5 819.9L737.0 826.9L738.5 834.2L740.0 841.4L741.5 848.3L743.0 854.8L744.5 861.2L746.0 867.3L747.5 872.9L749.0 878.7L750.5 884.8L752.0 889.9L753.5 893.0L755.0 893.3L756.5 892.6L758.0 891.4L759.5 890.0L761.0 888.5L762.5 886.6L764.0 883.6L765.5 879.7L767.0 875.5L768.5 870.9L770.0 865.8L771.5 860.4L773.0 855.0L774.5 849.9L776.0 844.8L777.5 839.7L779.0 834.7L780.5 830.8L782.0 827.2L783.5 823.9L785.0 820.6L786.5 817.5L788.0 814.6L789.5 811.9L791.0 809.5L792.5 807.3L794.0 805.3L795.5 803.4L797.0 801.7L798.5 800.1L800.0 798.6L801.5 797.3L803.0 796.1L804.5 794.9L806.0 793.8L807.5 792.8L809.0 791.8L810.5 790.9L812.0 790.0L813.5 789.2L815.0 788.5L816.5 787.9L818.0 787.4L819.5 786.8L821.0 786.4L822.5 785.9L824.0 785.5L825.5 784.9L827.0 784.4L828.5 783.9L830.0 783.4L831.5 783.0L833.0 782.5L834.5 782.1L836.0 781.7L837.5 781.3L839.0 781.0L840.5 780.7L842.0 780.4L843.5 780.1L845.0 779.8L846.5 779.5L848.0 779.3L849.5 779.0L851.0 778.8L852.5 778.6L854.0 778.3L855.5 778.1L857.0 777.9L858.5 777.7L860.0 777.4L861.5 777.2L863.0 777.0L864.5 776.7L866.0 776.5L867.5 776.2L869.0 775.8L870.5 775.2L872.0 774.5L873.5 773.8L875.0 773.2L876.5 772.6L878.0 772.1L879.5 771.7L881.0 771.3L882.5 770.9L884.0 770.4L885.5 770.0L887.0 769.5L888.5 769.1L890.0 768.7L891.5 768.2L893.0 767.8L894.5 767.4L896.0 767.0L897.5 766.6L899.0 766.2L900.5 765.9L902.0 765.5L903.5 765.2L905.0 764.8L906.5 764.5L908.0 764.2L909.5 763.9L911.0 763.5L912.5 763.2L914.0 762.9L915.5 762.7L917.0 762.4L918.5 762.1L920.0 761.8L921.5 761.6L923.0 761.4L924.5 761.1L926.0 760.9L927.5 760.7L929.0 760.5L930.5 760.3L932.0 760.0L933.5 759.7L935.0 759.4L936.5 758.9L938.0 758.5L939.5 758.0L941.0 757.6L942.5 757.2L944.0 756.9L945.5 756.5L947.0 756.3L948.5 756.3L950.0 756.3L951.5 756.3L953.0 756.3L954.5 756.3L956.0 756.3L957.5 756.3L959.0 756.3L960.5 756.3L962.0 756.3L963.5 756.3L965.0 756.3L966.5 756.4L968.0 756.4L969.5 756.5L971.0 756.6L972.5 756.8L974.0 757.1L975.5 757.5L977.0 757.9L978.5 758.2L980.0 758.5L981.5 758.9L983.0 759.3L984.5 759.7L986.0 760.1L987.5 760.6L989.0 761.1L990.5 761.7L992.0 762.2L993.5 762.8L995.0 763.3L996.5 763.7L998.0 764.2L999.5 764.7L1001.0 765.3L1002.5 766.0L1004.0 766.8L1005.5 767.6L1007.0 768.4L1008.5 769.4L1010.0 770.4L1011.5 771.6L1013.0 772.8L1014.5 774.1L1016.0 775.4L1017.5 776.9L1019.0 778.7L1020.5 780.8L1022.0 783.0L1023.5 785.2L1025.0 787.4L1026.5 789.5L1028.0 791.6L1029.5 793.8L1031.0 796.2L1032.5 798.8L1034.0 801.9L1035.5 805.4L1037.0 809.2L1038.5 813.4L1040.0 817.7L1041.5 822.2L1043.0 826.7L1044.5 831.7L1046.0 837.1L1047.5 842.4L1049.0 847.5L1050.5 852.2L1052.0 856.7L1053.5 861.0L1055.0 865.0L1056.5 868.6L1058.0 872.8L1059.5 876.5L1061.0 878.4L1062.5 878.0L1064.0 876.5L1065.5 874.4L1067.0 871.7L1068.5 868.7L1070.0 865.5L1071.5 861.4L1073.0 856.1L1074.5 849.9L1076.0 843.4L1077.5 836.0L1079.0 827.7L1080.5 818.8L1082.0 808.3L1083.5 797.2L1085.0 787.4L1086.5 778.5L1088.0 769.8L1089.5 760.2L1091.0 749.8L1092.5 740.1L1094.0 731.6L1095.5 723.8L1097.0 715.9L1098.5 707.0L1100.0 697.5L1101.5 688.5L1103.0 680.7L1104.5 673.5L1106.0 666.8L1107.5 660.7L1109.0 655.2L1110.5 649.6L1112.0 643.9L1113.5 638.2L1115.0 632.7L1116.5 627.2L1118.0 621.8L1119.5 616.3L1121.0 610.8L1122.5 605.4L1124.0 600.4L1125.5 595.6L1127.0 591.0L1128.5 586.9L1130.0 583.2L1131.5 579.8L1133.0 576.5L1134.5 573.6L1136.0 571.0L1137.5 568.6L1139.0 566.5L1140.5 564.5L1142.0 563.0L1143.5 561.8L1145.0 560.8L1146.5 560.0L1148.0 559.5L1149.5 559.3L1151.0 559.1L1152.5 559.1L1154.0 559.2L1155.5 559.2L1157.0 559.2L1158.5 559.3L1160.0 559.4L1161.5 559.7L1163.0 560.0L1164.5 560.6L1166.0 561.4L1167.5 562.3L1169.0 563.2L1170.5 564.3L1172.0 565.5L1173.5 566.9L1175.0 568.4L1176.5 570.2L1178.0 572.3L1179.5 574.8L1181.0 577.6L1182.5 580.7L1184.0 583.8L1185.5 586.9L1187.0 590.0L1188.5 593.2L1190.0 596.4L1191.5 599.8L1193.0 603.1L1194.5 606.3L1196.0 609.6L1197.5 612.8L1199.0 616.2L1200.5 620.4L1202.0 625.4L1203.5 631.0L1205.0 636.9L1206.5 642.9L1208.0 649.2L1209.5 655.9L1211.0 663.0L1212.5 671.2L1214.0 680.2L1215.5 688.8L1217.0 696.7L1218.5 704.4L1220.0 712.2L1221.5 719.6L1223.0 727.4L1224.5 737.4L1226.0 751.6L1227.5 762.8L1229.0 771.4L1230.5 779.1L1232.0 786.5L1233.5 794.0L1235.0 803.1L1236.5 812.6L1238.0 821.3L1239.5 829.6L1241.0 837.3L1242.5 844.3L1244.0 850.9L1245.5 856.9L1247.0 861.3L1248.5 864.6L1250.0 867.6L1251.5 869.9L1253.0 871.2L1254.5 871.2L1256.0 870.3L1257.5 868.6L1259.0 866.5L1260.5 864.3L1262.0 862.1L1263.5 859.3L1265.0 855.9L1266.5 852.0L1268.0 848.0L1269.5 844.0L1271.0 839.8L1272.5 835.3L1274.0 830.7L1275.5 826.2L1277.0 821.7L1278.5 817.3L1280.0 812.7L1281.5 808.2L1283.0 803.9L1284.5 799.9L1286.0 796.4L1287.5 793.4L1289.0 790.5L1290.5 788.0L1292.0 785.6L1293.5 783.4L1295.0 781.4L1296.5 779.5L1298.0 777.7L1299.5 776.1L1301.0 774.5L1302.5 773.1L1304.0 771.9L1305.5 770.7L1307.0 769.5L1308.5 768.3L1310.0 767.2L1311.5 766.0L1313.0 764.9L1314.5 763.8L1316.0 762.8L1317.5 762.0L1319.0 761.2L1320.5 760.6L1322.0 760.0L1323.5 759.4L1325.0 758.9L1326.5 758.4L1328.0 757.9L1329.5 757.5L1331.0 757.1L1332.5 756.7L1334.0 756.3L1335.5 756.0L1337.0 755.8L1338.5 755.5L1340.0 755.3L1341.5 755.1L1343.0 754.9L1344.5 754.7L1346.0 754.4L1347.5 754.2L1349.0 754.0L1350.5 753.7L1352.0 753.5L1353.5 753.2L1355.0 752.9L1356.5 752.6L1358.0 752.4L1359.5 752.1L1361.0 751.8L1362.5 751.6L1364.0 751.3L1365.5 751.1L1367.0 750.9L1368.5 750.6L1370.0 750.4L1371.5 750.2L1373.0 750.0L1374.5 749.7L1376.0 749.5L1377.5 749.3L1379.0 749.1L1380.5 748.9L1382.0 748.7L1383.5 748.5L1385.0 748.3L1386.5 748.0L1388.0 747.8L1389.5 747.7L1391.0 747.5L1392.5 747.4L1394.0 747.2L1395.5 747.1L1397.0 747.0L1398.5 746.9L1400.0 746.8L1401.5 746.7L1403.0 746.6L1404.5 746.5L1406.0 746.4L1407.5 746.3L1409.0 746.3L1410.5 746.2L1412.0 746.1L1413.5 746.1L1415.0 746.0L1416.5 745.9L1418.0 745.9L1419.5 745.8L1421.0 745.8L1422.5 745.7L1424.0 745.7L1425.5 745.6L1427.0 745.6L1428.5 745.6L1430.0 745.5L1431.5 745.5L1433.0 745.5L1434.5 745.5L1436.0 745.5L1437.5 745.5L1439.0 745.5L1440.5 745.5L1442.0 745.6L1443.5 745.6L1445.0 745.6L1446.5 745.6L1448.0 745.7L1449.5 745.7L1451.0 745.8L1452.5 745.9L1454.0 746.2L1455.5 746.4L1457.0 746.8L1458.5 747.1L1460.0 747.5L1461.5 747.9L1463.0 748.2L1464.5 748.6L1466.0 748.9L1467.5 749.3L1469.0 749.7L1470.5 750.1L1472.0 750.5L1473.5 750.9L1475.0 751.4L1476.5 751.9L1478.0 752.4L1479.5 752.9L1481.0 753.5L1482.5 754.1L1484.0 754.7L1485.5 755.4L1487.0 756.1L1488.5 756.8L1490.0 757.6L1491.5 758.4L1493.0 759.2L1494.5 760.1L1496.0 761.1L1497.5 762.1L1499.0 763.2L1500.5 764.3L1502.0 765.5L1503.5 766.8L1505.0 768.2L1506.5 769.8L1508.0 771.6L1509.5 773.7L1511.0 776.0L1512.5 778.5L1514.0 781.1L1515.5 783.6L1517.0 786.0L1518.5 788.4L1520.0 791.0L1521.5 793.7L1523.0 796.5L1524.5 799.5L1526.0 802.7L1527.5 805.9L1529.0 809.1L1530.5 812.2L1532.0 815.4L1533.5 818.8L1535.0 822.4L1536.5 826.3L1538.0 830.7L1539.5 835.9L1541.0 841.4L1542.5 846.9L1544.0 852.1L1545.5 857.1L1547.0 862.1L1548.5 866.7L1550.0 870.8L1551.5 874.8L1553.0 879.0L1554.5 882.2L1556.0 883.7L1557.5 883.1L1559.0 881.9L1560.5 880.1L1562.0 877.8L1563.5 875.1L1565.0 872.2L1566.5 869.0L1568.0 864.5L1569.5 858.1L1571.0 850.7L1572.5 842.6L1574.0 833.0L1575.5 823.1L1577.0 812.2L1578.5 801.5L1580.0 794.5L1581.5 789.9L1583.0 783.0L1584.5 774.2L1586.0 764.9L1587.5 755.9L1589.0 746.6L1590.5 738.0L1592.0 730.3L1593.5 723.2L1595.0 716.3L1596.5 709.2L1598.0 702.2L1599.5 695.2L1601.0 688.2L1602.5 681.1L1604.0 673.9L1605.5 666.9L1607.0 660.5L1608.5 654.8L1610.0 649.4L1611.5 644.3L1613.0 639.6L1614.5 635.4L1616.0 631.6L1617.5 627.8L1619.0 623.8L1620.5 619.5L1622.0 615.2L1623.5 611.0L1625.0 606.7L1626.5 602.4L1628.0 598.0L1629.5 593.7L1631.0 589.8L1632.5 586.3L1634.0 582.8L1635.5 579.6L1637.0 576.7L1638.5 574.3L1640.0 572.3L1641.5 570.6L1643.0 569.1L1644.5 567.8L1646.0 566.6L1647.5 565.6L1649.0 564.7L1650.5 563.8L1652.0 563.1L1653.5 562.6L1655.0 562.3L1656.5 562.2L1658.0 562.1L1659.5 562.1L1661.0 562.2L1662.5 562.3L1664.0 562.3L1665.5 562.3L1667.0 562.4L1668.5 562.6L1670.0 562.8L1671.5 563.1L1673.0 563.5L1674.5 564.1L1676.0 564.9L1677.5 565.8L1679.0 566.8L1680.5 568.0L1682.0 569.5L1683.5 571.3L1685.0 573.2L1686.5 575.1L1688.0 577.0L1689.5 579.0L1691.0 581.0L1692.5 583.1L1694.0 585.3L1695.5 587.7L1697.0 590.3L1698.5 593.2L1700.0 596.5L1701.5 600.0L1703.0 603.7L1704.5 607.2L1706.0 610.7L1707.5 614.2L1709.0 618.3L1710.5 622.6L1712.0 627.3L1713.5 632.4L1715.0 637.8L1716.5 643.1L1718.0 648.4L1719.5 653.9L1721.0 659.8L1722.5 666.3L1724.0 673.7L1725.5 681.5L1727.0 688.9L1728.5 695.5L1730.0 702.2L1731.5 710.1L1733.0 720.8L1734.5 732.0L1736.0 741.7L1737.5 750.9L1739.0 759.3L1740.5 767.4L1742.0 774.9L1743.5 781.8L1745.0 787.9L1746.5 794.1L1748.0 801.6L1749.5 809.6L1751.0 817.5L1752.5 825.1L1754.0 832.7L1755.5 839.8L1757.0 846.2L1758.5 852.3L1760.0 856.4L1761.5 859.4L1763.0 862.0L1764.5 864.1L1766.0 865.6L1767.5 866.4L1769.0 865.8L1770.5 864.1L1772.0 861.7L1773.5 858.9L1775.0 856.4L1776.5 853.6L1778.0 850.4L1779.5 846.9L1781.0 843.3L1782.5 839.5L1784.0 835.4L1785.5 831.2L1787.0 826.9L1788.5 822.5L1790.0 817.9L1791.5 812.7L1793.0 807.5L1794.5 802.4L1796.0 797.8L1797.5 794.1L1799.0 791.0L1800.5 788.4L1802.0 786.3L1803.5 784.0L1805.0 781.1L1806.5 778.1L1808.0 775.2L1809.5 772.6L1811.0 770.2L1812.5 768.0L1814.0 766.0L1815.5 764.2L1817.0 762.4L1818.5 760.8L1820.0 759.2L1821.5 757.6L1823.0 756.2L1824.5 755.0L1826.0 753.9L1827.5 752.9L1829.0 752.0L1830.5 751.1L1832.0 750.3L1833.5 749.6L1835.0 749.0L1836.5 748.3L1838.0 747.8L1839.5 747.2L1841.0 746.7L1842.5 746.1L1844.0 745.6L1845.5 745.2L1847.0 744.7L1848.5 744.2L1850.0 743.8L1851.5 743.3L1853.0 742.9L1854.5 742.5L1856.0 742.0L1857.5 741.6L1859.0 741.2L1860.5 740.9L1862.0 740.5L1863.5 740.1L1865.0 739.8L1866.5 739.4L1868.0 739.1L1869.5 738.8L1871.0 738.5L1872.5 738.2L1874.0 737.9L1875.5 737.6L1877.0 737.3L1878.5 737.0L1880.0 736.7L1881.5 736.4L1883.0 736.2L1884.5 735.9L1886.0 735.7L1887.5 735.4L1889.0 735.1L1890.5 734.9L1892.0 734.6L1893.5 734.3L1895.0 734.0L1896.5 733.7L1898.0 733.4L1899.5 733.0L1901.0 732.7L1902.5 732.4L1904.0 732.0L1905.5 731.8L1907.0 731.5L1908.5 731.3L1910.0 731.1L1911.5 730.9L1913.0 730.8L1914.5 730.6L1916.0 730.6L1917.5 730.5L1919.0 730.5L1920.5 730.4L1922.0 730.4L1923.5 730.4L1925.0 730.3L1926.5 730.3L1928.0 730.3L1929.5 730.2L1931.0 730.2L1932.5 730.1L1934.0 730.0L1935.5 729.9L1937.0 729.8L1938.5 729.8L1940.0 729.7L1941.5 729.6L1943.0 729.6L1944.5 729.6L1946.0 729.6L1947.5 729.6L1949.0 729.6L1950.5 729.7L1952.0 729.7L1953.5 729.8L1955.0 729.8L1956.5 729.9L1958.0 730.0L1959.5 730.0L1961.0 730.1L1962.5 730.2L1964.0 730.3L1965.5 730.4L1967.0 730.5L1968.5 730.6L1970.0 730.8L1971.5 730.9L1973.0 731.0L1974.5 731.2L1976.0 731.5L1977.5 731.8L1979.0 732.3L1980.5 732.8L1982.0 733.3L1983.5 733.9L1985.0 734.6L1986.5 735.2L1988.0 735.8L1989.5 736.5L1991.0 737.2L1992.5 737.9L1994.0 738.7L1995.5 739.6L1997.0 740.4L1998.5 741.4L2000.0 742.4L2001.5 743.4L2003.0 744.4L2004.5 745.5L2006.0 746.8L2007.5 748.0L2009.0 749.4L2010.5 750.8L2012.0 752.3L2013.5 753.9L2016.0 756.6" stroke="#0000ff"/>
<path d="M401.0 798.6L402.5 798.6L404.0 798.5L405.5 798.4L407.0 798.2L408.5 798.1L410.0 797.8L411.5 797.6L413.0 797.4L414.5 797.1L416.0 796.9L417.5 796.5L419.0 796.1L420.5 795.7L422.0 795.1L423.5 794.5L425.0 793.9L426.5 793.3L428.0 792.6L429.5 791.9L431.0 791.3L432.5 790.6L434.0 790.0L435.5 789.4L437.0 788.7L438.5 788.0L440.0 787.3L441.5 786.6L443.0 786.0L444.5 785.3L446.0 784.7L447.5 784.2L449.0 783.8L450.5 783.4L452.0 783.0L453.5 782.5L455.0 782.2L456.5 781.8L458.0 781.5L459.5 781.2L461.0 781.0L462.5 780.9L464.0 780.9L465.5 780.9L467.0 781.0L468.5 781.1L470.0 781.1L471.5 781.2L473.0 781.4L474.5 781.5L476.0 781.6L477.5 781.7L479.0 781.8L480.5 781.9L482.0 782.1L483.5 782.2L485.0 782.3L486.5 782.4L488.0 782.5L489.5 782.7L491.0 782.9L492.5 783.1L494.0 783.4L495.5 783.9L497.0 784.5L498.5 785.2L500.0 785.9L501.5 786.6L503.0 787.4L504.5 788.1L506.0 788.7L507.5 789.5L509.0 790.2L510.5 791.0L512.0 791.8L513.5 792.8L515.0 794.0L516.5 795.2L518.0 796.5L519.5 797.8L521.0 799.2L522.5 800.6L524.0 802.1L525.5 803.8L527.0 805.5L528.5 807.5L530.0 809.8L531.5 812.3L533.0 815.0L534.5 817.6L536.0 820.2L537.5 822.7L539.0 825.4L540.5 828.4L542.0 831.9L543.5 836.5L545.0 842.0L546.5 847.5L548.0 852.3L549.5 856.9L551.0 862.1L552.5 868.2L554.0 875.1L555.5 882.4L557.0 889.9L558.5 897.3L560.0 904.4L561.5 911.4L563.0 918.4L564.5 925.5L566.0 932.5L567.5 939.6L569.0 947.4L570.5 955.2L572.0 962.0L573.5 967.3L575.0 971.9L576.5 974.3L578.0 973.6L579.5 971.8L581.0 969.4L582.5 966.4L584.0 962.4L585.5 955.4L587.0 946.4L588.5 936.8L590.0 927.0L591.5 916.2L593.0 904.3L594.5 891.0L596.0 875.3L597.5 859.3L599.0 844.3L600.5 829.0L602.0 812.0L603.5 795.0L605.0 778.5L606.5 763.3L608.0 749.2L609.5 737.2L611.0 727.0L612.5 716.1L614.0 702.6L615.5 687.9L617.0 673.7L618.5 661.5L620.0 650.0L621.5 639.3L623.0 629.4L624.5 620.3L626.0 611.8L627.5 603.5L629.0 594.9L630.5 586.1L632.0 577.4L633.5 568.9L635.0 560.5L636.5 552.3L638.0 545.3L639.5 539.4L641.0 534.1L642.5 529.2L644.0 524.9L645.5 521.0L647.0 517.6L648.5 514.6L650.0 511.8L651.5 509.4L653.0 507.4L654.5 505.5L656.0 503.7L657.5 502.4L659.0 501.8L660.5 501.3L662.0 501.1L663.5 501.2L665.0 501.2L666.5 501.6L668.0 502.2L669.5 503.4L671.0 505.4L672.5 507.8L674.0 510.2L675.5 512.9L677.0 515.8L678.5 518.9L680.0 522.2L681.5 525.4L683.0 528.8L684.5 532.4L686.0 536.2L687.5 540.5L689.0 545.1L690.5 550.6L692.0 557.3L693.5 564.5L695.0 571.8L696.5 579.1L698.0 586.5L699.5 594.2L701.0 601.9L702.5 609.6L704.0 617.4L705.5 625.6L707.0 634.5L708.5 644.5L710.0 655.9L711.5 667.6L713.0 679.0L714.5 690.5L716.0 702.7L717.5 715.9L719.0 730.2L720.5 745.6L722.0 763.3L723.5 780.7L725.0 795.5L726.5 809.0L728.0 821.4L729.5 832.7L731.0 843.3L732.5 853.8L734.0 864.8L735.5 876.0L737.0 887.1L738.5 897.5L740.0 907.5L741.5 917.3L743.0 926.4L744.5 934.8L746.0 944.0L747.5 952.9L749.0 959.6L750.5 962.2L752.0 961.8L753.5 960.9L755.0 959.5L756.5 957.8L758.0 955.9L759.5 953.7L761.0 951.3L762.5 947.7L764.0 943.0L765.5 937.9L767.0 932.7L768.5 927.0L770.0 920.7L771.5 914.2L773.0 907.6L774.5 901.2L776.0 894.7L777.5 887.9L779.0 881.0L780.5 874.2L782.0 867.8L783.5 861.9L785.0 856.4L786.5 851.1L788.0 846.0L789.5 841.3L791.0 836.8L792.5 832.8L794.0 829.2L795.5 825.9L797.0 822.7L798.5 819.8L800.0 817.2L801.5 814.8L803.0 812.6L804.5 810.5L806.0 808.6L807.5 806.7L809.0 804.9L810.5 803.2L812.0 801.7L813.5 800.2L815.0 798.9L816.5 797.7L818.0 796.6L819.5 795.6L821.0 794.6L822.5 793.7L824.0 792.9L825.5 792.0L827.0 791.2L828.5 790.4L830.0 789.6L831.5 788.8L833.0 788.1L834.5 787.5L836.0 786.9L837.5 786.3L839.0 785.8L840.5 785.2L842.0 784.8L843.5 784.3L845.0 783.8L846.5 783.4L848.0 783.0L849.5 782.6L851.0 782.2L852.5 781.9L854.0 781.5L855.5 781.1L857.0 780.8L858.5 780.4L860.0 780.1L861.5 779.7L863.0 779.4L864.5 779.0L866.0 778.6L867.5 778.2L869.0 777.7L870.5 777.2L872.0 776.5L873.5 775.7L875.0 774.7L876.5 773.7L878.0 772.8L879.5 771.9L881.0 771.0L882.5 770.3L884.0 769.7L885.5 769.2L887.0 768.8L888.5 768.4L890.0 767.9L891.5 767.5L893.0 767.0L894.5 766.4L896.0 765.8L897.5 765.1L899.0 764.5L900.5 763.8L902.0 763.3L903.5 762.9L905.0 762.6L906.5 762.4L908.0 762.2L909.5 762.0L911.0 761.9L912.5 761.7L914.0 761.6L915.5 761.4L917.0 761.3L918.5 761.1L920.0 761.0L921.5 760.8L923.0 760.7L924.5 760.5L926.0 760.4L927.5 760.2L929.0 760.1L930.5 760.0L932.0 759.9L933.5 759.8L935.0 759.7L936.5 759.7L938.0 759.6L939.5 759.6L941.0 759.6L942.5 759.5L944.0 759.5L945.5 759.4L947.0 759.3L948.5 759.3L950.0 759.1L951.5 759.0L953.0 758.7L954.5 758.5L956.0 758.3L957.5 758.1L959.0 757.9L960.5 757.7L962.0 757.6L963.5 757.6L965.0 757.6L966.5 757.6L968.0 757.6L969.5 757.6L971.0 757.6L972.5 757.6L974.0 757.6L975.5 757.6L977.0 757.6L978.5 757.6L980.0 758.0L981.5 758.9L983.0 760.0L984.5 761.1L986.0 762.2L987.5 763.4L989.0 764.7L990.5 766.0L992.0 767.1L993.5 768.1L995.0 769.1L996.5 770.2L998.0 771.3L999.5 772.5L1001.0 773.7L1002.5 775.0L1004.0 776.4L1005.5 777.8L1007.0 779.4L1008.5 781.1L1010.0 783.0L1011.5 785.0L1013.0 787.1L1014.5 789.4L1016.0 791.7L1017.5 794.3L1019.0 797.4L1020.5 800.8L1022.0 804.3L1023.5 808.0L1025.0 811.5L1026.5 814.9L1028.0 818.3L1029.5 821.8L1031.0 825.7L1032.5 830.0L1034.0 835.0L1035.5 840.5L1037.0 846.5L1038.5 852.9L1040.0 859.6L1041.5 866.4L1043.0 873.6L1044.5 881.4L1046.0 889.5L1047.5 897.5L1049.0 904.9L1050.5 911.9L1052.0 918.7L1053.5 925.1L1055.0 930.9L1056.5 936.6L1058.0 942.6L1059.5 947.2L1061.0 948.5L1062.5 947.3L1064.0 944.9L1065.5 941.5L1067.0 937.4L1068.5 933.0L1070.0 927.9L1071.5 920.7L1073.0 911.9L1074.5 902.4L1076.0 891.9L1077.5 879.8L1079.0 866.6L1080.5 851.3L1082.0 834.6L1083.5 819.4L1085.0 806.0L1086.5 792.7L1088.0 778.2L1089.5 762.4L1091.0 747.5L1092.5 734.7L1094.0 722.8L1095.5 710.4L1097.0 696.5L1098.5 681.8L1100.0 668.4L1101.5 656.5L1103.0 645.5L1104.5 635.4L1106.0 626.1L1107.5 617.6L1109.0 609.6L1110.5 601.7L1112.0 593.7L1113.5 585.8L1115.0 578.1L1116.5 570.3L1118.0 562.5L1119.5 554.6L1121.0 546.8L1122.5 539.4L1124.0 532.3L1125.5 525.5L1127.0 519.0L1128.5 513.3L1130.0 507.9L1131.5 502.9L1133.0 498.2L1134.5 493.8L1136.0 489.8L1137.5 486.3L1139.0 482.9L1140.5 479.8L1142.0 477.1L1143.5 475.0L1145.0 473.2L1146.5 471.7L1148.0 470.4L1149.5 469.6L1151.0 469.0L1152.5 468.5L1154.0 468.2L1155.5 468.2L1157.0 468.2L1158.5 468.4L1160.0 468.8L1161.5 469.3L1163.0 469.9L1164.5 471.0L1166.0 472.4L1167.5 474.0L1169.0 475.7L1170.5 477.7L1172.0 480.0L1173.5 482.5L1175.0 485.4L1176.5 488.6L1178.0 492.5L1179.5 497.2L1181.0 502.4L1182.5 507.8L1184.0 513.2L1185.5 518.5L1187.0 523.9L1188.5 529.6L1190.0 535.2L1191.5 540.9L1193.0 546.5L1194.5 552.0L1196.0 557.6L1197.5 563.6L1199.0 570.1L1200.5 577.3L1202.0 585.4L1203.5 594.2L1205.0 603.2L1206.5 612.5L1208.0 622.3L1209.5 632.9L1211.0 645.0L1212.5 658.2L1214.0 670.8L1215.5 682.4L1217.0 693.6L1218.5 704.9L1220.0 715.8L1221.5 726.9L1223.0 740.1L1224.5 759.7L1226.0 778.1L1227.5 791.3L1229.0 802.8L1230.5 813.7L1232.0 823.9L1233.5 835.9L1235.0 849.6L1236.5 862.9L1238.0 875.0L1239.5 886.6L1241.0 897.3L1242.5 906.9L1244.0 916.3L1245.5 924.4L1247.0 930.1L1248.5 934.7L1250.0 938.7L1251.5 941.9L1253.0 943.6L1254.5 943.5L1256.0 942.0L1257.5 939.5L1259.0 936.3L1260.5 932.9L1262.0 929.4L1263.5 925.0L1265.0 919.7L1266.5 913.8L1268.0 907.6L1269.5 901.4L1271.0 894.9L1272.5 888.1L1274.0 881.0L1275.5 874.0L1277.0 867.2L1278.5 860.4L1280.0 853.4L1281.5 846.5L1283.0 839.9L1284.5 833.8L1286.0 828.4L1287.5 823.6L1289.0 819.2L1290.5 815.2L1292.0 811.5L1293.5 808.1L1295.0 804.9L1296.5 801.9L1298.0 799.1L1299.5 796.4L1301.0 794.0L1302.5 791.7L1304.0 789.7L1305.5 787.7L1307.0 785.9L1308.5 784.1L1310.0 782.5L1311.5 780.9L1313.0 779.4L1314.5 777.9L1316.0 776.6L1317.5 775.3L1319.0 774.1L1320.5 773.0L1322.0 771.9L1323.5 770.8L1325.0 769.7L1326.5 768.7L1328.0 767.6L1329.5 766.6L1331.0 765.6L1332.5 764.6L1334.0 763.6L1335.5 762.7L1337.0 761.8L1338.5 761.1L1340.0 760.6L1341.5 760.1L1343.0 759.7L1344.5 759.2L1346.0 758.8L1347.5 758.4L1349.0 758.0L1350.5 757.6L1352.0 757.3L1353.5 757.0L1355.0 756.7L1356.5 756.4L1358.0 756.2L1359.5 755.9L1361.0 755.6L1362.5 755.3L1364.0 755.0L1365.5 754.7L1367.0 754.3L1368.5 753.9L1370.0 753.5L1371.5 753.1L1373.0 752.7L1374.5 752.3L1376.0 752.0L1377.5 751.6L1379.0 751.3L1380.5 751.0L1382.0 750.6L1383.5 750.4L1385.0 750.1L1386.5 749.8L1388.0 749.5L1389.5 749.2L1391.0 748.9L1392.5 748.6L1394.0 748.3L1395.5 747.9L1397.0 747.5L1398.5 747.1L1400.0 746.7L1401.5 746.3L1403.0 746.0L1404.5 745.7L1406.0 745.5L1407.5 745.4L1409.0 745.4L1410.5 745.4L1412.0 745.4L1413.5 745.4L1415.0 745.4L1416.5 745.4L1418.0 745.4L1419.5 745.5L1421.0 745.5L1422.5 745.5L1424.0 745.6L1425.5 745.8L1427.0 746.0L1428.5 746.3L1430.0 746.6L1431.5 747.0L1433.0 747.3L1434.5 747.7L1436.0 748.0L1437.5 748.2L1439.0 748.5L1440.5 748.9L1442.0 749.2L1443.5 749.5L1445.0 749.8L1446.5 750.1L1448.0 750.4L1449.5 750.7L1451.0 751.0L1452.5 751.3L1454.0 751.5L1455.5 751.8L1457.0 752.0L1458.5 752.3L1460.0 752.6L1461.5 752.9L1463.0 753.3L1464.5 753.7L1466.0 754.1L1467.5 754.6L1469.0 755.2L1470.5 755.8L1472.0 756.5L1473.5 757.2L1475.0 757.9L1476.5 758.7L1478.0 759.5L1479.5 760.3L1481.0 761.2L1482.5 762.0L1484.0 762.7L1485.5 763.2L1487.0 763.7L1488.5 764.2L1490.0 764.7L1491.5 765.3L1493.0 766.4L1494.5 767.9L1496.0 769.9L1497.5 772.3L1499.0 774.7L1500.5 777.4L1502.0 780.3L1503.5 783.3L1505.0 786.3L1506.5 789.4L1508.0 792.5L1509.5 795.8L1511.0 799.4L1512.5 803.1L1514.0 806.9L1515.5 810.7L1517.0 814.6L1518.5 818.7L1520.0 823.0L1521.5 827.4L1523.0 832.1L1524.5 837.1L1526.0 842.1L1527.5 847.1L1529.0 852.0L1530.5 857.0L1532.0 862.4L1533.5 868.1L1535.0 874.3L1536.5 881.6L1538.0 889.8L1539.5 898.4L1541.0 906.7L1542.5 914.3L1544.0 922.0L1545.5 929.4L1547.0 935.9L1548.5 941.9L1550.0 948.3L1551.5 953.5L1553.0 956.2L1554.5 955.8L1556.0 954.4L1557.5 952.2L1559.0 949.3L1560.5 945.8L1562.0 941.9L1563.5 937.5L1565.0 932.0L1566.5 923.4L1568.0 913.0L1569.5 901.9L1571.0 888.7L1572.5 874.4L1574.0 859.4L1575.5 843.3L1577.0 831.5L1578.5 824.9L1580.0 816.0L1581.5 803.8L1583.0 790.4L1584.5 777.3L1586.0 763.7L1587.5 750.6L1589.0 739.0L1590.5 728.4L1592.0 718.1L1593.5 707.8L1595.0 697.3L1596.5 686.9L1598.0 676.6L1599.5 666.1L1601.0 655.3L1602.5 644.6L1604.0 634.6L1605.5 625.7L1607.0 617.3L1608.5 609.4L1610.0 602.0L1611.5 595.2L1613.0 589.1L1614.5 583.4L1616.0 577.9L1617.5 572.2L1619.0 566.0L1620.5 559.7L1622.0 553.4L1623.5 547.1L1625.0 540.7L1626.5 534.1L1628.0 527.7L1629.5 521.8L1631.0 516.4L1632.5 511.2L1634.0 506.2L1635.5 501.6L1637.0 497.5L1638.5 494.0L1640.0 491.1L1641.5 488.5L1643.0 486.1L1644.5 484.0L1646.0 482.1L1647.5 480.4L1649.0 478.7L1650.5 477.2L1652.0 475.8L1653.5 474.8L1655.0 474.1L1656.5 473.5L1658.0 473.1L1659.5 472.7L1661.0 472.5L1662.5 472.6L1664.0 472.6L1665.5 472.7L1667.0 473.0L1668.5 473.5L1670.0 474.0L1671.5 474.6L1673.0 475.5L1674.5 476.8L1676.0 478.2L1677.5 480.0L1679.0 481.8L1680.5 484.2L1682.0 487.2L1683.5 490.4L1685.0 493.8L1686.5 497.1L1688.0 500.4L1689.5 503.9L1691.0 507.5L1692.5 511.3L1694.0 515.4L1695.5 519.9L1697.0 524.9L1698.5 530.6L1700.0 536.7L1701.5 542.8L1703.0 548.7L1704.5 554.4L1706.0 560.0L1707.5 565.8L1709.0 572.4L1710.5 579.8L1712.0 587.7L1713.5 595.9L1715.0 603.9L1716.5 612.0L1718.0 620.4L1719.5 629.4L1721.0 639.4L1722.5 650.7L1724.0 662.4L1725.5 673.4L1727.0 683.2L1728.5 693.3L1730.0 705.3L1731.5 721.5L1733.0 738.2L1734.5 752.7L1736.0 766.3L1737.5 779.0L1739.0 791.0L1740.5 802.2L1742.0 812.7L1743.5 821.7L1745.0 830.8L1746.5 841.5L1748.0 853.2L1749.5 865.0L1751.0 876.2L1752.5 887.5L1754.0 898.2L1755.5 907.8L1757.0 917.0L1758.5 924.4L1760.0 928.8L1761.5 932.7L1763.0 936.1L1764.5 938.7L1766.0 940.2L1767.5 940.3L1769.0 938.5L1770.5 935.3L1772.0 931.3L1773.5 927.2L1775.0 923.3L1776.5 918.7L1778.0 913.5L1779.5 908.1L1781.0 902.5L1782.5 896.6L1784.0 890.3L1785.5 883.9L1787.0 877.3L1788.5 870.5L1790.0 863.3L1791.5 855.5L1793.0 847.6L1794.5 840.1L1796.0 833.7L1797.5 828.5L1799.0 824.0L1800.5 820.3L1802.0 817.1L1803.5 813.4L1805.0 808.8L1806.5 804.4L1808.0 800.2L1809.5 796.3L1811.0 792.7L1812.5 789.5L1814.0 786.4L1815.5 783.6L1817.0 781.0L1818.5 778.5L1820.0 776.1L1821.5 773.8L1823.0 771.8L1824.5 770.1L1826.0 768.5L1827.5 767.2L1829.0 765.9L1830.5 764.7L1832.0 763.5L1833.5 762.4L1835.0 761.2L1836.5 759.9L1838.0 758.4L1839.5 756.8L1841.0 755.1L1842.5 753.4L1844.0 751.8L1845.5 750.4L1847.0 749.2L1848.5 748.4L1850.0 747.7L1851.5 747.1L1853.0 746.6L1854.5 746.1L1856.0 745.6L1857.5 745.2L1859.0 744.7L1860.5 744.3L1862.0 743.9L1863.5 743.4L1865.0 743.0L1866.5 742.5L1868.0 742.1L1869.5 741.6L1871.0 741.2L1872.5 740.7L1874.0 740.3L1875.5 739.9L1877.0 739.6L1878.5 739.3L1880.0 739.0L1881.5 738.7L1883.0 738.5L1884.5 738.3L1886.0 738.1L1887.5 737.8L1889.0 737.6L1890.5 737.4L1892.0 737.2L1893.5 736.9L1895.0 736.7L1896.5 736.4L1898.0 736.2L1899.5 735.9L1901.0 735.6L1902.5 735.4L1904.0 735.1L1905.5 734.8L1907.0 734.5L1908.5 734.3L1910.0 734.0L1911.5 733.6L1913.0 733.3L1914.5 732.9L1916.0 732.6L1917.5 732.3L1919.0 732.1L1920.5 731.9L1922.0 731.8L1923.5 731.8L1925.0 731.8L1926.5 731.8L1928.0 731.9L1929.5 731.9L1931.0 732.0L1932.5 732.0L1934.0 732.1L1935.5 732.1L1937.0 732.2L1938.5 732.2L1940.0 732.3L1941.5 732.3L1943.0 732.4L1944.5 732.4L1946.0 732.4L1947.5 732.5L1949.0 732.6L1950.5 732.6L1952.0 732.7L1953.5 732.8L1955.0 733.0L1956.5 733.1L1958.0 733.3L1959.5 733.5L1961.0 733.8L1962.5 734.0L1964.0 734.3L1965.5 734.5L1967.0 734.8L1968.5 735.1L1970.0 735.4L1971.5 735.7L1973.0 736.1L1974.5 736.4L1976.0 736.8L1977.5 737.2L1979.0 737.6L1980.5 738.1L1982.0 738.6L1983.5 739.2L1985.0 739.9L1986.5 740.5L1988.0 741.3L1989.5 742.1L1991.0 743.2L1992.5 744.4L1994.0 745.8L1995.5 747.3L1997.0 748.9L1998.5 750.6L2000.0 752.4L2001.5 754.3L2003.0 756.2L2004.5 758.1L2006.0 760.3L2007.5 762.6L2009.0 765.0L2010.5 767.6L2012.0 770.3L2013.5 773.1L2016.0 778.0" stroke="#008000"/>
<path d="M401.0 800.4L402.5 800.2L404.0 800.0L405.5 799.8L407.0 799.4L408.5 799.1L410.0 798.7L411.5 798.3L413.0 797.9L414.5 797.3L416.0 796.7L417.5 795.9L419.0 795.1L420.5 794.3L422.0 793.6L423.5 792.8L425.0 792.1L426.5 791.5L428.0 791.0L429.5 790.5L431.0 790.1L432.5 789.7L434.0 789.3L435.5 788.9L437.0 788.5L438.5 788.1L440.0 787.7L441.5 787.3L443.0 786.9L444.5 786.4L446.0 785.8L447.5 785.3L449.0 784.8L450.5 784.3L452.0 783.9L453.5 783.5L455.0 783.3L456.5 783.2L458.0 783.1L459.5 783.1L461.0 783.0L462.5 783.0L464.0 783.0L465.5 782.9L467.0 782.9L468.5 782.9L470.0 782.9L471.5 782.9L473.0 783.0L474.5 783.2L476.0 783.5L477.5 783.8L479.0 784.2L480.5 784.7L482.0 785.1L483.5 785.6L485.0 786.0L486.5 786.4L488.0 786.8L489.5 787.2L491.0 787.5L492.5 787.8L494.0 788.1L495.5 788.5L497.0 789.1L498.5 789.9L500.0 790.7L501.5 791.6L503.0 792.5L504.5 793.4L506.0 794.4L507.5 795.4L509.0 796.3L510.5 797.3L512.0 798.4L513.5 799.7L515.0 801.1L516.5 802.6L518.0 804.2L519.5 805.9L521.0 807.7L522.5 809.6L524.0 811.6L525.5 813.7L527.0 815.9L528.5 818.4L530.0 821.2L531.5 824.3L533.0 827.7L534.5 831.0L536.0 834.4L537.5 837.7L539.0 841.0L540.5 844.5L542.0 848.6L543.5 853.4L545.0 859.8L546.5 866.8L548.0 873.5L549.5 879.4L551.0 885.3L552.5 892.0L554.0 899.9L555.5 908.7L557.0 917.9L558.5 927.3L560.0 936.5L561.5 945.3L563.0 954.1L564.5 962.8L566.0 971.6L567.5 980.3L569.0 989.1L570.5 998.8L572.0 1008.5L573.5 1017.2L575.0 1023.8L576.5 1029.6L578.0 1033.2L579.5 1032.9L581.0 1031.0L582.5 1028.1L584.0 1024.4L585.5 1019.8L587.0 1011.2L588.5 999.8L590.0 987.4L591.5 974.9L593.0 961.0L594.5 945.6L596.0 928.3L597.5 907.9L599.0 887.1L600.5 867.6L602.0 847.5L603.5 825.2L605.0 803.1L606.5 781.7L608.0 762.0L609.5 743.9L611.0 728.9L612.5 715.5L614.0 700.4L615.5 682.0L617.0 662.5L618.5 644.4L620.0 628.8L621.5 614.4L623.0 600.9L624.5 588.4L626.0 576.9L627.5 566.0L629.0 555.1L630.5 543.9L632.0 532.4L633.5 521.1L635.0 510.2L636.5 499.1L638.0 488.7L639.5 479.8L641.0 472.2L642.5 465.2L644.0 458.9L645.5 453.2L647.0 448.1L648.5 443.5L650.0 439.4L651.5 435.8L653.0 432.5L654.5 429.6L656.0 426.9L657.5 424.5L659.0 422.7L660.5 421.6L662.0 420.8L663.5 420.3L665.0 420.2L666.5 420.3L668.0 421.0L669.5 422.0L671.0 423.7L672.5 426.6L674.0 429.9L675.5 433.2L677.0 437.0L678.5 441.0L680.0 445.3L681.5 449.8L683.0 454.2L684.5 458.9L686.0 463.8L687.5 469.0L689.0 474.8L690.5 481.3L692.0 489.0L693.5 498.1L695.0 507.9L696.5 517.6L698.0 527.3L699.5 537.3L701.0 547.5L702.5 557.8L704.0 568.0L705.5 578.5L707.0 589.6L708.5 601.9L710.0 615.5L711.5 629.8L713.0 644.0L714.5 658.0L716.0 672.1L717.5 686.9L719.0 703.1L720.5 720.3L722.0 738.8L723.5 759.8L725.0 781.7L726.5 800.5L728.0 817.4L729.5 833.1L731.0 847.4L732.5 860.6L734.0 873.3L735.5 886.1L737.0 899.5L738.5 913.1L740.0 926.4L741.5 938.9L743.0 951.1L744.5 962.9L746.0 974.0L747.5 984.2L749.0 994.8L750.5 1005.9L752.0 1015.4L753.5 1021.1L755.0 1021.7L756.5 1020.7L758.0 1018.8L759.5 1016.2L761.0 1013.2L762.5 1009.9L764.0 1005.6L765.5 999.3L767.0 991.7L768.5 983.9L770.0 975.4L771.5 966.0L773.0 956.2L774.5 946.4L776.0 936.9L777.5 927.6L779.0 918.2L780.5 909.2L782.0 900.6L783.5 892.6L785.0 885.3L786.5 878.2L788.0 871.4L789.5 865.0L791.0 859.1L792.5 853.7L794.0 848.8L795.5 844.3L797.0 840.0L798.5 836.1L800.0 832.5L801.5 829.2L803.0 826.3L804.5 823.5L806.0 820.8L807.5 818.3L809.0 815.9L810.5 813.6L812.0 811.5L813.5 809.5L815.0 807.6L816.5 806.0L818.0 804.5L819.5 803.1L821.0 801.8L822.5 800.5L824.0 799.3L825.5 798.2L827.0 797.0L828.5 796.0L830.0 794.9L831.5 794.0L833.0 793.1L834.5 792.3L836.0 791.4L837.5 790.7L839.0 790.0L840.5 789.3L842.0 788.7L843.5 788.0L845.0 787.4L846.5 786.9L848.0 786.3L849.5 785.8L851.0 785.3L852.5 784.8L854.0 784.3L855.5 783.8L857.0 783.4L858.5 782.9L860.0 782.4L861.5 782.0L863.0 781.5L864.5 781.0L866.0 780.5L867.5 780.0L869.0 779.4L870.5 778.8L872.0 778.1L873.5 777.4L875.0 776.7L876.5 776.0L878.0 775.4L879.5 774.9L881.0 774.3L882.5 773.8L884.0 773.4L885.5 772.9L887.0 772.4L888.5 772.0L890.0 771.5L891.5 771.1L893.0 770.7L894.5 770.3L896.0 769.9L897.5 769.6L899.0 769.2L900.5 768.9L902.0 768.6L903.5 768.2L905.0 767.9L906.5 767.6L908.0 767.3L909.5 767.0L911.0 766.8L912.5 766.5L914.0 766.2L915.5 766.0L917.0 765.8L918.5 765.6L920.0 765.4L921.5 765.2L923.0 765.0L924.5 764.9L926.0 764.7L927.5 764.6L929.0 764.4L930.5 764.3L932.0 764.2L933.5 764.0L935.0 763.8L936.5 763.7L938.0 763.5L939.5 763.3L941.0 763.1L942.5 762.9L944.0 762.8L945.5 762.7L947.0 762.6L948.5 762.6L950.0 762.6L951.5 762.6L953.0 762.6L954.5 762.6L956.0 762.7L957.5 762.7L959.0 762.7L960.5 762.8L962.0 762.8L963.5 762.9L965.0 763.1L966.5 763.3L968.0 763.6L969.5 763.9L971.0 764.2L972.5 764.5L974.0 764.8L975.5 765.0L977.0 765.2L978.5 765.3L980.0 765.5L981.5 765.9L983.0 766.3L984.5 767.0L986.0 767.9L987.5 769.0L989.0 770.3L990.5 771.5L992.0 772.7L993.5 773.9L995.0 775.2L996.5 776.5L998.0 777.9L999.5 779.4L1001.0 781.0L1002.5 782.7L1004.0 784.4L1005.5 786.3L1007.0 788.4L1008.5 790.7L1010.0 793.1L1011.5 795.7L1013.0 798.4L1014.5 801.3L1016.0 804.4L1017.5 807.6L1019.0 811.2L1020.5 815.4L1022.0 819.9L1023.5 824.6L1025.0 829.2L1026.5 833.7L1028.0 838.1L1029.5 842.5L1031.0 847.2L1032.5 852.3L1034.0 857.9L1035.5 864.3L1037.0 871.4L1038.5 879.0L1040.0 887.2L1041.5 895.6L1043.0 904.2L1044.5 913.2L1046.0 922.9L1047.5 933.2L1049.0 943.3L1050.5 952.9L1052.0 961.8L1053.5 970.4L1055.0 978.7L1056.5 986.3L1058.0 993.2L1059.5 1000.8L1061.0 1007.6L1062.5 1011.3L1064.0 1010.8L1065.5 1008.4L1067.0 1004.4L1068.5 999.5L1070.0 993.8L1071.5 987.7L1073.0 979.1L1074.5 968.2L1076.0 956.0L1077.5 942.7L1079.0 927.3L1080.5 910.2L1082.0 890.9L1083.5 868.9L1085.0 848.5L1086.5 830.7L1088.0 813.3L1089.5 794.4L1091.0 773.6L1092.5 754.0L1094.0 737.1L1095.5 721.4L1097.0 705.0L1098.5 686.5L1100.0 667.1L1101.5 649.7L1103.0 634.2L1104.5 619.8L1106.0 606.6L1107.5 594.6L1109.0 583.6L1110.5 573.0L1112.0 562.6L1113.5 552.1L1115.0 542.2L1116.5 532.6L1118.0 523.0L1119.5 513.2L1121.0 503.4L1122.5 493.7L1124.0 484.6L1125.5 475.7L1127.0 467.2L1128.5 459.1L1130.0 451.8L1131.5 445.1L1133.0 438.7L1134.5 432.7L1136.0 427.1L1137.5 421.9L1139.0 417.3L1140.5 412.9L1142.0 408.9L1143.5 405.2L1145.0 402.1L1146.5 399.6L1148.0 397.4L1149.5 395.6L1151.0 394.1L1152.5 393.1L1154.0 392.3L1155.5 391.7L1157.0 391.3L1158.5 391.2L1160.0 391.2L1161.5 391.6L1163.0 392.3L1164.5 393.1L1166.0 394.1L1167.5 395.8L1169.0 397.9L1170.5 400.3L1172.0 402.8L1173.5 405.7L1175.0 409.1L1176.5 412.8L1178.0 417.1L1179.5 422.0L1181.0 428.1L1182.5 435.0L1184.0 442.4L1185.5 449.8L1187.0 457.0L1188.5 464.4L1190.0 472.1L1191.5 479.9L1193.0 487.6L1194.5 495.2L1196.0 502.7L1197.5 510.4L1199.0 518.6L1200.5 527.6L1202.0 537.6L1203.5 548.2L1205.0 559.4L1206.5 571.0L1208.0 583.1L1209.5 595.9L1211.0 609.7L1212.5 625.6L1214.0 642.5L1215.5 658.3L1217.0 672.9L1218.5 687.2L1220.0 701.6L1221.5 715.3L1223.0 729.6L1224.5 747.4L1226.0 773.3L1227.5 795.3L1229.0 811.6L1230.5 825.9L1232.0 839.7L1233.5 852.7L1235.0 868.2L1236.5 885.6L1238.0 902.3L1239.5 917.5L1241.0 932.1L1242.5 945.5L1244.0 957.6L1245.5 969.3L1247.0 979.4L1248.5 986.5L1250.0 992.2L1251.5 997.2L1253.0 1001.1L1254.5 1003.2L1256.0 1003.1L1257.5 1001.1L1259.0 997.8L1260.5 993.6L1262.0 989.0L1263.5 984.3L1265.0 978.4L1266.5 971.2L1268.0 963.3L1269.5 955.2L1271.0 947.1L1272.5 938.4L1274.0 929.3L1275.5 920.1L1277.0 910.9L1278.5 902.0L1280.0 893.0L1281.5 883.8L1283.0 874.8L1284.5 866.3L1286.0 858.6L1287.5 851.9L1289.0 845.9L1290.5 840.3L1292.0 835.2L1293.5 830.5L1295.0 826.2L1296.5 822.1L1298.0 818.2L1299.5 814.6L1301.0 811.2L1302.5 808.1L1304.0 805.3L1305.5 802.7L1307.0 800.1L1308.5 797.7L1310.0 795.5L1311.5 793.3L1313.0 791.2L1314.5 789.3L1316.0 787.4L1317.5 785.6L1319.0 784.0L1320.5 782.4L1322.0 780.9L1323.5 779.4L1325.0 778.0L1326.5 776.5L1328.0 775.1L1329.5 773.8L1331.0 772.4L1332.5 771.1L1334.0 769.9L1335.5 768.7L1337.0 767.6L1338.5 766.6L1340.0 765.8L1341.5 765.2L1343.0 764.7L1344.5 764.1L1346.0 763.5L1347.5 762.9L1349.0 762.4L1350.5 761.8L1352.0 761.2L1353.5 760.7L1355.0 760.1L1356.5 759.6L1358.0 759.1L1359.5 758.6L1361.0 758.1L1362.5 757.6L1364.0 757.2L1365.5 756.8L1367.0 756.4L1368.5 756.0L1370.0 755.6L1371.5 755.2L1373.0 754.8L1374.5 754.5L1376.0 754.1L1377.5 753.8L1379.0 753.5L1380.5 753.1L1382.0 752.8L1383.5 752.5L1385.0 752.2L1386.5 751.9L1388.0 751.6L1389.5 751.3L1391.0 751.0L1392.5 750.8L1394.0 750.6L1395.5 750.3L1397.0 750.1L1398.5 749.9L1400.0 749.7L1401.5 749.5L1403.0 749.3L1404.5 749.1L1406.0 748.9L1407.5 748.8L1409.0 748.7L1410.5 748.6L1412.0 748.5L1413.5 748.4L1415.0 748.3L1416.5 748.3L1418.0 748.2L1419.5 748.1L1421.0 748.1L1422.5 748.1L1424.0 748.1L1425.5 748.3L1427.0 748.5L1428.5 748.7L1430.0 749.0L1431.5 749.3L1433.0 749.6L1434.5 749.9L1436.0 750.2L1437.5 750.5L1439.0 750.8L1440.5 751.2L1442.0 751.6L1443.5 752.0L1445.0 752.4L1446.5 752.8L1448.0 753.2L1449.5 753.6L1451.0 754.0L1452.5 754.4L1454.0 754.8L1455.5 755.2L1457.0 755.6L1458.5 756.0L1460.0 756.4L1461.5 756.9L1463.0 757.4L1464.5 757.9L1466.0 758.5L1467.5 759.0L1469.0 759.5L1470.5 760.1L1472.0 760.7L1473.5 761.3L1475.0 761.9L1476.5 762.6L1478.0 763.3L1479.5 764.2L1481.0 765.0L1482.5 765.9L1484.0 766.7L1485.5 767.7L1487.0 768.7L1488.5 769.8L1490.0 771.0L1491.5 772.3L1493.0 773.8L1494.5 775.5L1496.0 777.7L1497.5 780.4L1499.0 783.3L1500.5 786.5L1502.0 789.9L1503.5 793.5L1505.0 797.2L1506.5 801.0L1508.0 804.7L1509.5 808.6L1511.0 812.7L1512.5 817.1L1514.0 821.6L1515.5 826.3L1517.0 831.0L1518.5 835.7L1520.0 840.7L1521.5 845.7L1523.0 851.0L1524.5 856.6L1526.0 862.5L1527.5 868.6L1529.0 874.8L1530.5 880.8L1532.0 886.8L1533.5 892.9L1535.0 899.4L1536.5 906.3L1538.0 913.8L1539.5 922.4L1541.0 932.2L1542.5 942.5L1544.0 952.7L1545.5 962.3L1547.0 971.6L1548.5 980.8L1550.0 989.4L1551.5 997.0L1553.0 1004.4L1554.5 1012.0L1556.0 1018.0L1557.5 1020.8L1559.0 1020.1L1560.5 1018.2L1562.0 1015.1L1563.5 1011.0L1565.0 1006.1L1566.5 1000.7L1568.0 994.7L1569.5 985.1L1571.0 972.0L1572.5 957.6L1574.0 940.7L1575.5 921.7L1577.0 901.8L1578.5 879.9L1580.0 863.0L1581.5 853.8L1583.0 841.9L1584.5 825.2L1586.0 807.0L1587.5 789.2L1589.0 770.7L1590.5 753.5L1592.0 738.3L1593.5 724.1L1595.0 710.2L1596.5 696.0L1598.0 681.9L1599.5 667.7L1601.0 653.6L1602.5 639.0L1604.0 624.2L1605.5 610.4L1607.0 598.1L1608.5 586.6L1610.0 575.8L1611.5 565.7L1613.0 556.5L1614.5 548.2L1616.0 540.6L1617.5 532.6L1619.0 524.1L1620.5 515.5L1622.0 506.8L1623.5 498.2L1625.0 489.5L1626.5 480.5L1628.0 471.7L1629.5 463.4L1631.0 455.9L1632.5 448.7L1634.0 441.8L1635.5 435.4L1637.0 429.8L1638.5 425.0L1640.0 421.0L1641.5 417.4L1643.0 414.2L1644.5 411.4L1646.0 408.8L1647.5 406.4L1649.0 404.0L1650.5 402.0L1652.0 400.2L1653.5 399.0L1655.0 398.1L1656.5 397.4L1658.0 396.8L1659.5 396.4L1661.0 396.3L1662.5 396.3L1664.0 396.5L1665.5 396.9L1667.0 397.4L1668.5 398.1L1670.0 398.8L1671.5 399.8L1673.0 401.2L1674.5 402.9L1676.0 404.9L1677.5 407.1L1679.0 409.6L1680.5 412.7L1682.0 416.5L1683.5 420.6L1685.0 424.7L1686.5 428.8L1688.0 433.0L1689.5 437.3L1691.0 441.7L1692.5 446.4L1694.0 451.4L1695.5 456.7L1697.0 462.6L1698.5 469.3L1700.0 476.6L1701.5 484.2L1703.0 491.7L1704.5 498.8L1706.0 505.8L1707.5 513.7L1709.0 522.3L1710.5 531.5L1712.0 541.6L1713.5 552.3L1715.0 563.1L1716.5 573.7L1718.0 584.5L1719.5 595.9L1721.0 608.4L1722.5 622.7L1724.0 638.1L1725.5 653.1L1727.0 666.5L1728.5 679.4L1730.0 694.0L1731.5 713.2L1733.0 735.9L1734.5 755.6L1736.0 773.9L1737.5 790.9L1739.0 806.8L1740.5 821.9L1742.0 835.8L1743.5 848.1L1745.0 859.8L1746.5 873.3L1748.0 888.6L1749.5 904.1L1751.0 918.9L1752.5 933.6L1754.0 947.8L1755.5 960.6L1757.0 972.6L1758.5 982.6L1760.0 988.5L1761.5 993.7L1763.0 998.1L1764.5 1001.4L1766.0 1003.4L1767.5 1003.6L1769.0 1001.3L1770.5 997.3L1772.0 992.3L1773.5 987.1L1775.0 982.0L1776.5 976.0L1778.0 969.4L1779.5 962.4L1781.0 955.2L1782.5 947.6L1784.0 939.6L1785.5 931.2L1787.0 922.7L1788.5 914.0L1790.0 904.7L1791.5 894.5L1793.0 884.3L1794.5 874.6L1796.0 866.3L1797.5 859.6L1799.0 853.8L1800.5 849.0L1802.0 844.9L1803.5 840.1L1805.0 834.1L1806.5 828.4L1808.0 822.9L1809.5 817.9L1811.0 813.2L1812.5 808.9L1814.0 805.0L1815.5 801.4L1817.0 798.0L1818.5 794.7L1820.0 791.5L1821.5 788.5L1823.0 785.9L1824.5 783.6L1826.0 781.6L1827.5 779.8L1829.0 778.1L1830.5 776.5L1832.0 774.9L1833.5 773.4L1835.0 771.9L1836.5 770.5L1838.0 769.1L1839.5 767.7L1841.0 766.4L1842.5 765.2L1844.0 763.9L1845.5 762.7L1847.0 761.6L1848.5 760.4L1850.0 759.1L1851.5 757.5L1853.0 755.9L1854.5 754.2L1856.0 752.6L1857.5 751.1L1859.0 749.8L1860.5 748.8L1862.0 748.0L1863.5 747.4L1865.0 747.0L1866.5 746.6L1868.0 746.2L1869.5 745.8L1871.0 745.4L1872.5 745.1L1874.0 744.8L1875.5 744.4L1877.0 744.1L1878.5 743.8L1880.0 743.4L1881.5 743.1L1883.0 742.8L1884.5 742.5L1886.0 742.2L1887.5 741.9L1889.0 741.5L1890.5 741.2L1892.0 740.9L1893.5 740.6L1895.0 740.3L1896.5 740.0L1898.0 739.6L1899.5 739.3L1901.0 739.0L1902.5 738.7L1904.0 738.4L1905.5 738.1L1907.0 737.8L1908.5 737.6L1910.0 737.4L1911.5 737.1L1913.0 736.9L1914.5 736.7L1916.0 736.5L1917.5 736.3L1919.0 736.2L1920.5 736.0L1922.0 735.9L1923.5 735.9L1925.0 735.8L1926.5 735.7L1928.0 735.7L1929.5 735.6L1931.0 735.6L1932.5 735.6L1934.0 735.5L1935.5 735.5L1937.0 735.5L1938.5 735.5L1940.0 735.5L1941.5 735.5L1943.0 735.5L1944.5 735.6L1946.0 735.6L1947.5 735.6L1949.0 735.7L1950.5 735.7L1952.0 735.8L1953.5 735.9L1955.0 736.1L1956.5 736.2L1958.0 736.5L1959.5 736.7L1961.0 737.0L1962.5 737.3L1964.0 737.6L1965.5 737.9L1967.0 738.3L1968.5 738.6L1970.0 739.0L1971.5 739.4L1973.0 739.7L1974.5 740.1L1976.0 740.6L1977.5 741.0L1979.0 741.5L1980.5 742.1L1982.0 742.7L1983.5 743.3L1985.0 744.1L1986.5 744.9L1988.0 745.8L1989.5 746.8L1991.0 748.1L1992.5 749.7L1994.0 751.6L1995.5 753.6L1997.0 755.7L1998.5 758.0L2000.0 760.3L2001.5 762.6L2003.0 764.9L2004.5 767.1L2006.0 769.4L2007.5 771.9L2009.0 774.4L2010.5 777.0L2012.0 779.6L2013.5 782.3L2016.0 787.0" stroke="#800080"/>
<path d="M401.0 801.6L402.5 801.4L404.0 801.2L405.5 800.9L407.0 800.6L408.5 800.3L410.0 799.9L411.5 799.6L413.0 799.2L414.5 798.7L416.0 798.1L417.5 797.5L419.0 796.9L420.5 796.2L422.0 795.6L423.5 795.0L425.0 794.4L426.5 793.9L428.0 793.5L429.5 793.1L431.0 792.7L432.5 792.3L434.0 792.0L435.5 791.7L437.0 791.4L438.5 791.0L440.0 790.7L441.5 790.3L443.0 789.9L444.5 789.4L446.0 788.9L447.5 788.4L449.0 787.9L450.5 787.5L452.0 787.0L453.5 786.7L455.0 786.4L456.5 786.2L458.0 786.0L459.5 785.9L461.0 785.7L462.5 785.6L464.0 785.5L465.5 785.5L467.0 785.4L468.5 785.4L470.0 785.4L471.5 785.5L473.0 785.5L474.5 785.6L476.0 785.7L477.5 785.8L479.0 786.0L480.5 786.3L482.0 786.9L483.5 787.5L485.0 788.1L486.5 788.7L488.0 789.2L489.5 789.6L491.0 790.1L492.5 790.7L494.0 791.4L495.5 792.3L497.0 793.4L498.5 794.4L500.0 795.5L501.5 796.6L503.0 797.8L504.5 798.9L506.0 800.1L507.5 801.4L509.0 802.5L510.5 803.7L512.0 805.0L513.5 806.5L515.0 808.2L516.5 810.0L518.0 812.0L519.5 814.1L521.0 816.3L522.5 818.7L524.0 821.2L525.5 823.8L527.0 826.5L528.5 829.5L530.0 833.0L531.5 836.8L533.0 840.8L534.5 845.0L536.0 849.1L537.5 853.2L539.0 857.2L540.5 861.4L542.0 866.1L543.5 871.5L545.0 878.4L546.5 886.7L548.0 895.2L549.5 902.7L551.0 909.7L552.5 917.2L554.0 926.0L555.5 936.1L557.0 946.9L558.5 958.2L560.0 969.5L561.5 980.3L563.0 990.9L564.5 1001.4L566.0 1011.9L567.5 1022.4L569.0 1032.9L570.5 1043.6L572.0 1055.3L573.5 1066.8L575.0 1076.8L576.5 1084.3L578.0 1090.9L579.5 1094.4L581.0 1093.9L582.5 1091.8L584.0 1088.5L585.5 1084.4L587.0 1079.1L588.5 1069.3L590.0 1056.0L591.5 1041.6L593.0 1027.1L594.5 1011.0L596.0 993.1L597.5 973.3L599.0 949.7L600.5 924.8L602.0 901.4L603.5 878.1L605.0 852.3L606.5 825.6L608.0 799.6L609.5 775.2L611.0 752.6L612.5 732.7L614.0 716.2L615.5 699.6L617.0 679.5L618.5 656.4L620.0 633.2L621.5 612.7L623.0 594.2L624.5 577.0L626.0 561.0L627.5 546.0L629.0 532.2L630.5 518.9L632.0 505.5L633.5 491.6L635.0 477.5L636.5 463.6L638.0 450.1L639.5 436.4L641.0 423.5L642.5 412.4L644.0 402.9L645.5 394.1L647.0 386.1L648.5 378.7L650.0 372.1L651.5 366.2L653.0 360.8L654.5 355.9L656.0 351.5L657.5 347.5L659.0 343.9L660.5 340.5L662.0 337.6L663.5 335.7L665.0 334.3L666.5 333.2L668.0 332.5L669.5 332.5L671.0 333.3L672.5 334.7L674.0 336.6L675.5 340.2L677.0 344.7L678.5 349.2L680.0 354.2L681.5 359.6L683.0 365.3L684.5 371.3L686.0 377.3L687.5 383.5L689.0 390.0L690.5 397.0L692.0 404.6L693.5 413.1L695.0 423.3L696.5 435.2L698.0 448.0L699.5 460.6L701.0 473.3L702.5 486.4L704.0 499.7L705.5 513.0L707.0 526.3L708.5 540.0L710.0 554.7L711.5 571.1L713.0 589.1L714.5 607.9L716.0 626.3L717.5 644.5L719.0 663.4L720.5 683.7L722.0 705.5L723.5 729.0L725.0 755.1L726.5 783.8L728.0 808.9L729.5 831.2L731.0 851.6L732.5 870.1L734.0 887.1L735.5 903.5L737.0 920.0L738.5 937.3L740.0 954.6L741.5 971.4L743.0 987.2L744.5 1002.6L746.0 1017.3L747.5 1031.0L749.0 1043.9L750.5 1058.0L752.0 1071.2L753.5 1080.5L755.0 1083.2L756.5 1082.3L758.0 1080.3L759.5 1077.5L761.0 1074.0L762.5 1070.1L764.0 1065.7L765.5 1059.0L767.0 1050.4L768.5 1040.9L770.0 1031.3L771.5 1020.4L773.0 1008.7L774.5 996.7L776.0 984.9L777.5 973.7L779.0 962.3L780.5 950.8L782.0 939.7L783.5 929.1L785.0 919.4L786.5 910.3L788.0 901.5L789.5 893.1L791.0 885.3L792.5 878.0L794.0 871.5L795.5 865.6L797.0 860.0L798.5 854.8L800.0 850.0L801.5 845.7L803.0 841.8L804.5 838.1L806.0 834.6L807.5 831.3L809.0 828.1L810.5 825.1L812.0 822.2L813.5 819.6L815.0 817.2L816.5 814.9L818.0 812.9L819.5 811.0L821.0 809.3L822.5 807.6L824.0 806.0L825.5 804.5L827.0 803.0L828.5 801.7L830.0 800.4L831.5 799.2L833.0 798.1L834.5 797.0L836.0 796.0L837.5 795.1L839.0 794.2L840.5 793.4L842.0 792.6L843.5 791.8L845.0 791.1L846.5 790.4L848.0 789.7L849.5 789.0L851.0 788.4L852.5 787.8L854.0 787.2L855.5 786.6L857.0 786.0L858.5 785.4L860.0 784.8L861.5 784.2L863.0 783.6L864.5 783.0L866.0 782.4L867.5 781.8L869.0 781.2L870.5 780.5L872.0 779.9L873.5 779.2L875.0 778.6L876.5 778.0L878.0 777.4L879.5 776.9L881.0 776.4L882.5 776.0L884.0 775.6L885.5 775.2L887.0 774.8L888.5 774.5L890.0 774.2L891.5 773.8L893.0 773.5L894.5 773.2L896.0 772.9L897.5 772.6L899.0 772.3L900.5 772.0L902.0 771.6L903.5 771.3L905.0 770.9L906.5 770.6L908.0 770.2L909.5 769.9L911.0 769.5L912.5 769.2L914.0 768.9L915.5 768.6L917.0 768.3L918.5 768.1L920.0 767.9L921.5 767.7L923.0 767.5L924.5 767.3L926.0 767.1L927.5 766.9L929.0 766.8L930.5 766.6L932.0 766.6L933.5 766.5L935.0 766.5L936.5 766.4L938.0 766.4L939.5 766.4L941.0 766.4L942.5 766.4L944.0 766.3L945.5 766.3L947.0 766.3L948.5 766.3L950.0 766.3L951.5 766.3L953.0 766.3L954.5 766.2L956.0 766.2L957.5 766.2L959.0 766.2L960.5 766.2L962.0 766.2L963.5 766.2L965.0 766.2L966.5 766.3L968.0 766.4L969.5 766.4L971.0 766.5L972.5 766.7L974.0 767.0L975.5 767.4L977.0 767.8L978.5 768.2L980.0 768.8L981.5 769.5L983.0 770.3L984.5 771.2L986.0 772.3L987.5 773.8L989.0 775.3L990.5 776.8L992.0 778.3L993.5 779.9L995.0 781.4L996.5 783.1L998.0 784.8L999.5 786.6L1001.0 788.6L1002.5 790.7L1004.0 793.0L1005.5 795.5L1007.0 798.2L1008.5 801.1L1010.0 804.2L1011.5 807.6L1013.0 811.1L1014.5 814.8L1016.0 818.7L1017.5 822.8L1019.0 827.4L1020.5 832.6L1022.0 838.3L1023.5 844.2L1025.0 850.1L1026.5 855.8L1028.0 861.3L1029.5 866.9L1031.0 872.7L1032.5 879.0L1034.0 886.0L1035.5 893.8L1037.0 902.6L1038.5 912.0L1040.0 922.0L1041.5 932.5L1043.0 943.2L1044.5 954.1L1046.0 966.1L1047.5 978.7L1049.0 991.3L1050.5 1003.3L1052.0 1014.4L1053.5 1025.1L1055.0 1035.5L1056.5 1045.0L1058.0 1053.7L1059.5 1063.0L1061.0 1071.6L1062.5 1077.1L1064.0 1077.5L1065.5 1075.2L1067.0 1071.2L1068.5 1065.9L1070.0 1059.6L1071.5 1052.9L1073.0 1044.6L1074.5 1033.1L1076.0 1019.4L1077.5 1004.8L1079.0 988.3L1080.5 969.5L1082.0 948.9L1083.5 924.9L1085.0 898.9L1086.5 875.6L1088.0 854.8L1089.5 834.1L1091.0 811.6L1092.5 787.0L1094.0 763.6L1095.5 743.4L1097.0 724.7L1098.5 705.4L1100.0 683.9L1101.5 660.8L1103.0 639.1L1104.5 620.1L1106.0 602.4L1107.5 586.1L1109.0 571.1L1110.5 557.3L1112.0 544.3L1113.5 531.8L1115.0 519.2L1116.5 506.6L1118.0 494.3L1119.5 482.1L1121.0 469.9L1122.5 457.3L1124.0 444.8L1125.5 432.7L1127.0 421.2L1128.5 410.0L1130.0 399.3L1131.5 389.2L1133.0 380.2L1134.5 371.7L1136.0 363.6L1137.5 356.0L1139.0 349.0L1140.5 342.5L1142.0 336.6L1143.5 331.0L1145.0 325.8L1146.5 321.3L1148.0 317.4L1149.5 314.3L1151.0 311.5L1152.5 309.2L1154.0 307.3L1155.5 306.1L1157.0 305.0L1158.5 304.1L1160.0 303.5L1161.5 303.3L1163.0 303.7L1164.5 304.5L1166.0 305.5L1167.5 306.8L1169.0 308.6L1170.5 311.1L1172.0 314.0L1173.5 317.2L1175.0 320.8L1176.5 324.8L1178.0 329.3L1179.5 334.4L1181.0 340.1L1182.5 347.1L1184.0 355.4L1185.5 364.4L1187.0 373.8L1188.5 383.1L1190.0 392.3L1191.5 401.9L1193.0 411.6L1194.5 421.4L1196.0 431.2L1197.5 440.6L1199.0 450.1L1200.5 460.1L1202.0 470.8L1203.5 482.5L1205.0 495.4L1206.5 508.9L1208.0 522.8L1209.5 537.1L1211.0 551.9L1212.5 567.7L1214.0 584.9L1215.5 604.5L1217.0 624.9L1218.5 643.9L1220.0 661.6L1221.5 678.9L1223.0 696.3L1224.5 713.0L1226.0 730.0L1227.5 750.5L1229.0 780.4L1230.5 809.3L1232.0 830.0L1233.5 847.8L1235.0 864.5L1236.5 880.3L1238.0 897.3L1239.5 917.7L1241.0 938.6L1242.5 957.5L1244.0 975.5L1245.5 992.5L1247.0 1007.8L1248.5 1022.2L1250.0 1035.8L1251.5 1047.1L1253.0 1054.7L1254.5 1061.3L1256.0 1067.1L1257.5 1071.4L1259.0 1073.6L1260.5 1073.2L1262.0 1070.3L1263.5 1065.6L1265.0 1059.8L1266.5 1053.6L1268.0 1046.9L1269.5 1038.1L1271.0 1028.0L1272.5 1017.2L1274.0 1006.4L1275.5 995.1L1277.0 983.1L1278.5 970.7L1280.0 958.4L1281.5 946.6L1283.0 934.5L1284.5 922.3L1286.0 910.3L1287.5 899.1L1289.0 889.0L1290.5 880.3L1292.0 872.4L1293.5 865.1L1295.0 858.5L1296.5 852.4L1298.0 846.7L1299.5 841.4L1301.0 836.4L1302.5 831.7L1304.0 827.4L1305.5 823.5L1307.0 819.9L1308.5 816.4L1310.0 813.2L1311.5 810.0L1313.0 807.0L1314.5 804.2L1316.0 801.5L1317.5 799.0L1319.0 796.6L1320.5 794.4L1322.0 792.3L1323.5 790.2L1325.0 788.1L1326.5 786.1L1328.0 784.1L1329.5 782.2L1331.0 780.3L1332.5 778.6L1334.0 777.0L1335.5 775.5L1337.0 774.1L1338.5 772.9L1340.0 771.9L1341.5 771.0L1343.0 770.4L1344.5 769.9L1346.0 769.4L1347.5 769.0L1349.0 768.6L1350.5 768.1L1352.0 767.6L1353.5 767.2L1355.0 766.7L1356.5 766.3L1358.0 765.8L1359.5 765.3L1361.0 764.9L1362.5 764.4L1364.0 763.9L1365.5 763.3L1367.0 762.7L1368.5 762.1L1370.0 761.5L1371.5 760.9L1373.0 760.3L1374.5 759.7L1376.0 759.2L1377.5 758.6L1379.0 758.1L1380.5 757.6L1382.0 757.1L1383.5 756.7L1385.0 756.2L1386.5 755.8L1388.0 755.3L1389.5 754.9L1391.0 754.5L1392.5 754.1L1394.0 753.6L1395.5 753.2L1397.0 752.7L1398.5 752.2L1400.0 751.8L1401.5 751.3L1403.0 750.9L1404.5 750.6L1406.0 750.4L1407.5 750.2L1409.0 750.1L1410.5 750.1L1412.0 750.0L1413.5 750.0L1415.0 749.9L1416.5 749.9L1418.0 749.8L1419.5 749.8L1421.0 749.8L1422.5 749.8L1424.0 749.8L1425.5 749.9L1427.0 750.0L1428.5 750.2L1430.0 750.3L1431.5 750.6L1433.0 750.8L1434.5 751.0L1436.0 751.3L1437.5 751.5L1439.0 751.8L1440.5 752.2L1442.0 752.7L1443.5 753.2L1445.0 753.7L1446.5 754.3L1448.0 754.9L1449.5 755.4L1451.0 755.9L1452.5 756.5L1454.0 757.0L1455.5 757.6L1457.0 758.2L1458.5 758.8L1460.0 759.4L1461.5 760.1L1463.0 760.7L1464.5 761.4L1466.0 762.2L1467.5 763.0L1469.0 763.8L1470.5 764.6L1472.0 765.5L1473.5 766.4L1475.0 767.3L1476.5 768.3L1478.0 769.4L1479.5 770.4L1481.0 771.5L1482.5 772.6L1484.0 773.7L1485.5 774.8L1487.0 776.1L1488.5 777.4L1490.0 778.9L1491.5 780.6L1493.0 782.4L1494.5 784.5L1496.0 787.2L1497.5 790.4L1499.0 794.0L1500.5 798.0L1502.0 802.3L1503.5 806.8L1505.0 811.5L1506.5 816.2L1508.0 820.9L1509.5 825.7L1511.0 830.8L1512.5 836.3L1514.0 841.9L1515.5 847.7L1517.0 853.6L1518.5 859.5L1520.0 865.6L1521.5 871.9L1523.0 878.4L1524.5 885.2L1526.0 892.4L1527.5 899.9L1529.0 907.5L1530.5 915.0L1532.0 922.4L1533.5 930.0L1535.0 937.8L1536.5 946.1L1538.0 955.1L1539.5 965.1L1541.0 976.6L1542.5 989.1L1544.0 1001.8L1545.5 1014.0L1547.0 1025.4L1548.5 1036.8L1550.0 1047.9L1551.5 1057.8L1553.0 1066.8L1554.5 1076.2L1556.0 1084.6L1557.5 1090.3L1559.0 1091.4L1560.5 1090.1L1562.0 1087.3L1563.5 1083.3L1565.0 1078.2L1566.5 1072.3L1568.0 1065.7L1569.5 1058.0L1571.0 1045.3L1572.5 1029.2L1574.0 1011.8L1575.5 991.0L1577.0 968.1L1578.5 944.0L1580.0 917.8L1581.5 898.1L1583.0 887.2L1584.5 872.9L1586.0 853.0L1587.5 831.0L1589.0 809.6L1590.5 787.4L1592.0 766.2L1593.5 747.5L1595.0 730.2L1596.5 713.4L1598.0 696.2L1599.5 679.0L1601.0 661.9L1602.5 644.7L1604.0 627.2L1605.5 609.2L1607.0 591.7L1608.5 575.9L1610.0 561.4L1611.5 547.7L1613.0 534.9L1614.5 523.0L1616.0 512.2L1617.5 502.3L1619.0 493.0L1620.5 483.5L1622.0 473.5L1623.5 463.5L1625.0 453.4L1626.5 443.3L1628.0 433.2L1629.5 422.8L1631.0 412.3L1632.5 402.3L1634.0 393.1L1635.5 384.5L1637.0 376.1L1638.5 368.2L1640.0 360.8L1641.5 354.2L1643.0 348.6L1644.5 343.7L1646.0 339.3L1647.5 335.3L1649.0 331.7L1650.5 328.4L1652.0 325.4L1653.5 322.4L1655.0 319.6L1656.5 317.1L1658.0 315.0L1659.5 313.5L1661.0 312.3L1662.5 311.2L1664.0 310.3L1665.5 309.6L1667.0 309.2L1668.5 309.1L1670.0 309.5L1671.5 310.3L1673.0 311.2L1674.5 312.4L1676.0 313.7L1677.5 315.4L1679.0 317.7L1680.5 320.4L1682.0 323.6L1683.5 327.0L1685.0 331.3L1686.5 336.7L1688.0 342.5L1689.5 348.5L1691.0 354.4L1692.5 360.4L1694.0 366.6L1695.5 373.1L1697.0 380.0L1698.5 387.3L1700.0 395.3L1701.5 404.6L1703.0 414.8L1704.5 425.5L1706.0 436.0L1707.5 445.9L1709.0 455.6L1710.5 465.4L1712.0 475.7L1713.5 486.8L1715.0 498.9L1716.5 511.5L1718.0 524.2L1719.5 536.7L1721.0 549.4L1722.5 562.7L1724.0 576.9L1725.5 592.9L1727.0 610.6L1728.5 628.6L1730.0 645.3L1731.5 660.5L1733.0 676.0L1734.5 694.0L1736.0 718.0L1737.5 744.2L1739.0 766.8L1740.5 788.0L1742.0 807.8L1743.5 826.4L1745.0 844.0L1746.5 860.5L1748.0 875.3L1749.5 888.6L1751.0 903.1L1752.5 920.0L1754.0 937.9L1755.5 955.5L1757.0 972.4L1758.5 989.2L1760.0 1005.2L1761.5 1019.6L1763.0 1033.4L1764.5 1044.8L1766.0 1051.5L1767.5 1057.4L1769.0 1062.5L1770.5 1066.5L1772.0 1069.2L1773.5 1070.1L1775.0 1068.2L1776.5 1063.5L1778.0 1057.0L1779.5 1050.0L1781.0 1043.1L1782.5 1035.0L1784.0 1026.0L1785.5 1016.5L1787.0 1006.6L1788.5 996.1L1790.0 985.1L1791.5 973.7L1793.0 962.0L1794.5 949.7L1796.0 936.1L1797.5 922.3L1799.0 909.5L1800.5 898.7L1802.0 890.0L1803.5 882.5L1805.0 876.7L1806.5 870.9L1808.0 863.2L1809.5 855.3L1811.0 847.8L1812.5 840.9L1814.0 834.7L1815.5 828.9L1817.0 823.6L1818.5 818.8L1820.0 814.2L1821.5 809.8L1823.0 805.5L1824.5 801.7L1826.0 798.5L1827.5 795.7L1829.0 793.1L1830.5 790.7L1832.0 788.5L1833.5 786.4L1835.0 784.3L1836.5 782.2L1838.0 780.2L1839.5 778.3L1841.0 776.4L1842.5 774.6L1844.0 772.9L1845.5 771.3L1847.0 769.8L1848.5 768.3L1850.0 766.9L1851.5 765.5L1853.0 764.2L1854.5 762.9L1856.0 761.7L1857.5 760.5L1859.0 759.3L1860.5 758.3L1862.0 757.3L1863.5 756.4L1865.0 755.5L1866.5 754.6L1868.0 753.8L1869.5 753.1L1871.0 752.3L1872.5 751.6L1874.0 751.0L1875.5 750.4L1877.0 749.9L1878.5 749.4L1880.0 748.9L1881.5 748.5L1883.0 748.2L1884.5 747.8L1886.0 747.5L1887.5 747.2L1889.0 746.9L1890.5 746.6L1892.0 746.3L1893.5 745.9L1895.0 745.5L1896.5 745.2L1898.0 744.8L1899.5 744.4L1901.0 744.0L1902.5 743.6L1904.0 743.3L1905.5 742.9L1907.0 742.6L1908.5 742.2L1910.0 741.9L1911.5 741.6L1913.0 741.3L1914.5 740.9L1916.0 740.6L1917.5 740.4L1919.0 740.1L1920.5 739.9L1922.0 739.7L1923.5 739.5L1925.0 739.3L1926.5 739.1L1928.0 739.0L1929.5 738.8L1931.0 738.7L1932.5 738.6L1934.0 738.5L1935.5 738.4L1937.0 738.4L1938.5 738.4L1940.0 738.4L1941.5 738.4L1943.0 738.4L1944.5 738.4L1946.0 738.4L1947.5 738.5L1949.0 738.5L1950.5 738.5L1952.0 738.7L1953.5 739.1L1955.0 739.6L1956.5 740.1L1958.0 740.7L1959.5 741.2L1961.0 741.7L1962.5 742.3L1964.0 742.8L1965.5 743.4L1967.0 744.0L1968.5 744.7L1970.0 745.3L1971.5 746.0L1973.0 746.7L1974.5 747.4L1976.0 748.2L1977.5 748.9L1979.0 749.6L1980.5 750.4L1982.0 751.3L1983.5 752.1L1985.0 753.1L1986.5 754.1L1988.0 755.2L1989.5 756.4L1991.0 757.7L1992.5 759.2L1994.0 760.8L1995.5 762.5L1997.0 764.3L1998.5 766.2L2000.0 768.3L2001.5 770.4L2003.0 772.6L2004.5 775.2L2006.0 778.2L2007.5 781.3L2009.0 784.4L2010.5 787.3L2012.0 790.1L2013.5 792.9L2016.0 797.5" stroke="#000080"/>
</g>
<path d="M376.56 1142.70V1131.20M376.56 32.90V44.40M474.50 1142.70V1117.20M474.50 32.90V58.40M572.44 1142.70V1131.20M572.44 32.90V44.40M670.38 1142.70V1131.20M670.38 32.90V44.40M768.32 1142.70V1131.20M768.32 32.90V44.40M866.26 1142.70V1117.20M866.26 32.90V58.40M964.20 1142.70V1131.20M964.20 32.90V44.40M1062.14 1142.70V1131.20M1062.14 32.90V44.40M1160.08 1142.70V1131.20M1160.08 32.90V44.40M1258.02 1142.70V1117.20M1258.02 32.90V58.40M1355.96 1142.70V1131.20M1355.96 32.90V44.40M1453.90 1142.70V1131.20M1453.90 32.90V44.40M1551.84 1142.70V1131.20M1551.84 32.90V44.40M1649.78 1142.70V1117.20M1649.78 32.90V58.40M1747.72 1142.70V1131.20M1747.72 32.90V44.40M1845.66 1142.70V1131.20M1845.66 32.90V44.40M1943.60 1142.70V1131.20M1943.60 32.90V44.40M321.30 1071.55H332.80M2038.30 1071.55H2026.80M321.30 997.08H346.80M2038.30 997.08H2012.80M321.30 922.62H332.80M2038.30 922.62H2026.80M321.30 848.15H346.80M2038.30 848.15H2012.80M321.30 773.69H332.80M2038.30 773.69H2026.80M321.30 699.22H346.80M2038.30 699.22H2012.80M321.30 624.75H332.80M2038.30 624.75H2026.80M321.30 550.29H346.80M2038.30 550.29H2012.80M321.30 475.82H332.80M2038.30 475.82H2026.80M321.30 401.36H346.80M2038.30 401.36H2012.80M321.30 326.90H332.80M2038.30 326.90H2026.80M321.30 252.43H346.80M2038.30 252.43H2012.80M321.30 177.96H332.80M2038.30 177.96H2026.80M321.30 103.50H346.80M2038.30 103.50H2012.80" stroke="#000" stroke-width="6.6" fill="none" shape-rendering="crispEdges"/>
<rect x="318.0" y="29.6" width="1723.60" height="1116.40" fill="none" stroke="#000" stroke-width="6.6" shape-rendering="crispEdges"/>
<g fill="#000">
<text transform="translate(379.46 1225.80) scale(0.9520 1)" font-size="65.2">2002.8</text>
<text transform="translate(771.44 1225.80) scale(0.9520 1)" font-size="65.2">2003.2</text>
<text transform="translate(1163.00 1225.80) scale(0.9520 1)" font-size="65.2">2003.6</text>
<text transform="translate(1554.61 1225.80) scale(0.9520 1)" font-size="65.2">2004.0</text>
<text transform="translate(1946.06 1225.80) scale(0.9520 1)" font-size="65.2">2004.4</text>
<text transform="translate(110.09 1165.01) scale(0.9500 1)" font-size="65.2">-0.003</text>
<text transform="translate(110.49 1016.08) scale(0.9500 1)" font-size="65.2">-0.002</text>
<text transform="translate(110.40 867.15) scale(0.9500 1)" font-size="65.2">-0.001</text>
<text transform="translate(130.42 718.22) scale(0.9500 1)" font-size="65.2">0.000</text>
<text transform="translate(131.02 569.29) scale(0.9500 1)" font-size="65.2">0.001</text>
<text transform="translate(131.11 420.36) scale(0.9500 1)" font-size="65.2">0.002</text>
<text transform="translate(130.72 271.43) scale(0.9500 1)" font-size="65.2">0.003</text>
<text transform="translate(129.81 122.50) scale(0.9500 1)" font-size="65.2">0.004</text>
</g>
<g fill="#000">
<text transform="translate(892.87 1313.80) scale(0.9655 1)" font-size="78.3">Wavelength (nm)</text>
<text transform="translate(70.9 945.96) rotate(-90) scale(0.9596 1)" font-size="78.3">Harmonic Amplitude (V)</text>
</g>
<g fill="#000">
<line x1="379.8" y1="108.9" x2="535.2" y2="108.9" stroke="#000000" stroke-width="8.0" stroke-linecap="round"/>
<text transform="translate(554.04 132.00) scale(0.9587 1)" font-size="72.0">500 ppm</text>
<line x1="379.8" y1="194.0" x2="535.2" y2="194.0" stroke="#ff0000" stroke-width="8.0" stroke-linecap="round"/>
<text transform="translate(555.66 216.50) scale(0.9558 1)" font-size="72.0">1000 ppm</text>
<line x1="379.8" y1="278.7" x2="535.0" y2="278.7" stroke="#000000" stroke-width="8.0" stroke-linecap="round"/>
<polygon points="457.4,267.4 459.9,275.2 468.1,275.2 461.5,280.0 464.0,287.8 457.4,283.0 450.8,287.8 453.3,280.0 446.7,275.2 454.9,275.2" fill="#000" stroke="#000" stroke-width="2" stroke-linejoin="bevel"/>
<text transform="translate(554.10 301.20) scale(0.9597 1)" font-size="72.0">0 ppm</text>
<line x1="956.5" y1="108.9" x2="1112.0" y2="108.9" stroke="#0000ff" stroke-width="8.0" stroke-linecap="round"/>
<text transform="translate(1129.61 132.00) scale(0.9642 1)" font-size="72.0">2000 ppm</text>
<line x1="957.3" y1="194.0" x2="1113.0" y2="194.0" stroke="#008000" stroke-width="8.0" stroke-linecap="round"/>
<text transform="translate(1132.47 216.50) scale(0.9589 1)" font-size="72.0">3000 ppm</text>
<line x1="1496.8" y1="108.9" x2="1653.1" y2="108.9" stroke="#800080" stroke-width="8.0" stroke-linecap="round"/>
<text transform="translate(1670.50 132.00) scale(0.9667 1)" font-size="72.0">4000 ppm</text>
<line x1="1516.9" y1="194.0" x2="1672.2" y2="194.0" stroke="#000080" stroke-width="8.0" stroke-linecap="round"/>
<text transform="translate(1691.23 216.50) scale(0.9603 1)" font-size="72.0">5000 ppm</text>
</g>
</svg>
</body>
</html>
